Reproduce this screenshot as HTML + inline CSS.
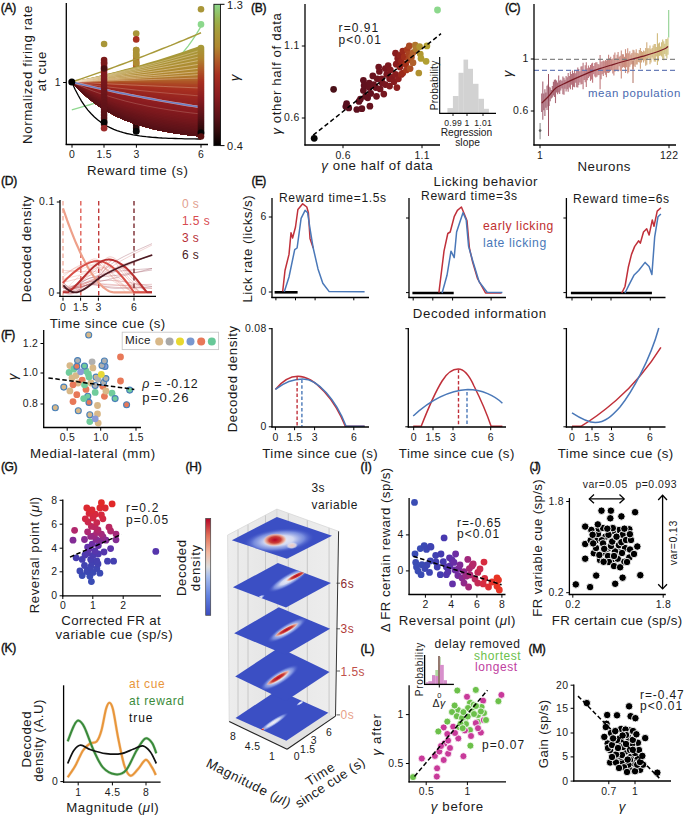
<!DOCTYPE html>
<html><head><meta charset="utf-8"><style>
html,body{margin:0;padding:0;background:#fff;width:685px;height:816px;overflow:hidden}
svg{display:block}
text{font-family:"Liberation Sans", sans-serif}
</style></head><body>
<svg width="685" height="816" viewBox="0 0 685 816">
<rect width="685" height="816" fill="#fff"/>
<text x="0.8" y="11.8" font-size="12.08" text-anchor="start" fill="#111" stroke="#111" stroke-width="0.0" textLength="15.5" lengthAdjust="spacing" style="stroke-width:0.4">(A)</text>
<text x="251.0" y="11.8" font-size="12.08" text-anchor="start" fill="#111" stroke="#111" stroke-width="0.0" textLength="15.5" lengthAdjust="spacing" style="stroke-width:0.4">(B)</text>
<text x="505.0" y="11.8" font-size="12.08" text-anchor="start" fill="#111" stroke="#111" stroke-width="0.0" textLength="15.6" lengthAdjust="spacing" style="stroke-width:0.4">(C)</text>
<text x="1.0" y="184.8" font-size="12.08" text-anchor="start" fill="#111" stroke="#111" stroke-width="0.0" textLength="16.4" lengthAdjust="spacing" style="stroke-width:0.4">(D)</text>
<text x="251.5" y="184.8" font-size="12.08" text-anchor="start" fill="#111" stroke="#111" stroke-width="0.0" textLength="14.9" lengthAdjust="spacing" style="stroke-width:0.4">(E)</text>
<text x="1.0" y="339.0" font-size="12.08" text-anchor="start" fill="#111" stroke="#111" stroke-width="0.0" textLength="14.3" lengthAdjust="spacing" style="stroke-width:0.4">(F)</text>
<text x="1.0" y="471.0" font-size="12.08" text-anchor="start" fill="#111" stroke="#111" stroke-width="0.0" textLength="16.5" lengthAdjust="spacing" style="stroke-width:0.4">(G)</text>
<text x="185.5" y="471.0" font-size="12.08" text-anchor="start" fill="#111" stroke="#111" stroke-width="0.0" textLength="16.2" lengthAdjust="spacing" style="stroke-width:0.4">(H)</text>
<text x="360.5" y="471.0" font-size="12.08" text-anchor="start" fill="#111" stroke="#111" stroke-width="0.0" textLength="11.4" lengthAdjust="spacing" style="stroke-width:0.4">(I)</text>
<text x="529.5" y="471.0" font-size="12.08" text-anchor="start" fill="#111" stroke="#111" stroke-width="0.0" textLength="11.4" lengthAdjust="spacing" style="stroke-width:0.4">(J)</text>
<text x="1.0" y="652.0" font-size="12.08" text-anchor="start" fill="#111" stroke="#111" stroke-width="0.0" textLength="15.2" lengthAdjust="spacing" style="stroke-width:0.4">(K)</text>
<text x="360.5" y="653.0" font-size="12.08" text-anchor="start" fill="#111" stroke="#111" stroke-width="0.0" textLength="14.1" lengthAdjust="spacing" style="stroke-width:0.4">(L)</text>
<text x="528.5" y="653.0" font-size="12.08" text-anchor="start" fill="#111" stroke="#111" stroke-width="0.0" textLength="17.4" lengthAdjust="spacing" style="stroke-width:0.4">(M)</text>
<defs><linearGradient id="cbA" x1="0" y1="1" x2="0" y2="0"><stop offset="0.00" stop-color="#000000"/><stop offset="0.05" stop-color="#1a0606"/><stop offset="0.10" stop-color="#320b0c"/><stop offset="0.15" stop-color="#460e12"/><stop offset="0.20" stop-color="#5a1218"/><stop offset="0.25" stop-color="#6a151a"/><stop offset="0.30" stop-color="#7a181d"/><stop offset="0.35" stop-color="#8a1c20"/><stop offset="0.40" stop-color="#942220"/><stop offset="0.45" stop-color="#9e2920"/><stop offset="0.50" stop-color="#a83020"/><stop offset="0.55" stop-color="#ac4524"/><stop offset="0.60" stop-color="#b05a28"/><stop offset="0.65" stop-color="#b0712c"/><stop offset="0.70" stop-color="#b08830"/><stop offset="0.75" stop-color="#ac9135"/><stop offset="0.80" stop-color="#a89a3a"/><stop offset="0.85" stop-color="#9fa742"/><stop offset="0.90" stop-color="#97b653"/><stop offset="0.95" stop-color="#91c76f"/><stop offset="1.00" stop-color="#8cd88c"/></linearGradient></defs>
<rect x="213.9" y="4.3" width="6.6" height="141.3" fill="url(#cbA)" stroke="#111" stroke-width="0.9"/>
<line x1="220.5" y1="4.3" x2="224.5" y2="4.3" stroke="#000" stroke-width="1" />
<line x1="220.5" y1="145.6" x2="224.5" y2="145.6" stroke="#000" stroke-width="1" />
<path d="M71.8,109.8 L76.1,108.6 L80.4,107.4 L84.7,106.2 L89.0,105.0 L93.3,103.7 L97.6,102.3 L101.9,101.0 L106.3,99.5 L110.6,98.1 L114.9,96.5 L119.2,94.9 L123.5,93.2 L127.8,91.4 L132.1,89.5 L136.4,87.5 L140.7,85.3 L145.0,83.0 L149.3,80.6 L153.6,77.9 L157.9,75.0 L162.2,71.9 L166.5,68.5 L170.9,64.8 L175.2,60.8 L179.5,56.3 L183.8,51.5 L188.1,46.1 L192.4,40.2 L196.7,33.6 L201.0,26.3" stroke="#90d890" stroke-width="1.3" fill="none" />
<circle cx="136.2" cy="50.0" r="3.3" fill="#ac9135" stroke="none" stroke-width="0"/>
<circle cx="136.2" cy="53.0" r="3.3" fill="#ae8c32" stroke="none" stroke-width="0"/>
<circle cx="136.2" cy="56.0" r="3.3" fill="#b0872f" stroke="none" stroke-width="0"/>
<circle cx="136.2" cy="59.0" r="3.3" fill="#b07b2d" stroke="none" stroke-width="0"/>
<circle cx="136.2" cy="62.0" r="3.3" fill="#b06f2b" stroke="none" stroke-width="0"/>
<circle cx="136.2" cy="65.0" r="3.3" fill="#b06429" stroke="none" stroke-width="0"/>
<circle cx="136.2" cy="68.0" r="3.3" fill="#af5827" stroke="none" stroke-width="0"/>
<circle cx="136.2" cy="71.0" r="3.3" fill="#ad4d25" stroke="none" stroke-width="0"/>
<circle cx="136.2" cy="74.0" r="3.3" fill="#ab4223" stroke="none" stroke-width="0"/>
<circle cx="136.2" cy="77.0" r="3.3" fill="#a93821" stroke="none" stroke-width="0"/>
<circle cx="136.2" cy="80.0" r="3.3" fill="#a62f20" stroke="none" stroke-width="0"/>
<circle cx="136.2" cy="83.0" r="3.3" fill="#a12b20" stroke="none" stroke-width="0"/>
<circle cx="136.2" cy="86.0" r="3.3" fill="#9c2820" stroke="none" stroke-width="0"/>
<circle cx="136.2" cy="89.0" r="3.3" fill="#972420" stroke="none" stroke-width="0"/>
<circle cx="136.2" cy="92.0" r="3.3" fill="#922120" stroke="none" stroke-width="0"/>
<circle cx="136.2" cy="95.0" r="3.3" fill="#8d1e20" stroke="none" stroke-width="0"/>
<circle cx="136.2" cy="98.0" r="3.3" fill="#861b1f" stroke="none" stroke-width="0"/>
<circle cx="136.2" cy="101.0" r="3.3" fill="#7e191e" stroke="none" stroke-width="0"/>
<circle cx="136.2" cy="104.0" r="3.3" fill="#76171c" stroke="none" stroke-width="0"/>
<circle cx="136.2" cy="107.0" r="3.3" fill="#6e161b" stroke="none" stroke-width="0"/>
<circle cx="136.2" cy="110.0" r="3.3" fill="#66141a" stroke="none" stroke-width="0"/>
<circle cx="136.2" cy="113.0" r="3.3" fill="#5d1218" stroke="none" stroke-width="0"/>
<circle cx="136.2" cy="116.0" r="3.3" fill="#541116" stroke="none" stroke-width="0"/>
<circle cx="136.2" cy="119.0" r="3.3" fill="#4a0f13" stroke="none" stroke-width="0"/>
<circle cx="136.2" cy="122.0" r="3.3" fill="#400d10" stroke="none" stroke-width="0"/>
<circle cx="136.2" cy="125.0" r="3.3" fill="#350b0d" stroke="none" stroke-width="0"/>
<circle cx="136.2" cy="128.0" r="3.3" fill="#2b0a0a" stroke="none" stroke-width="0"/>
<circle cx="136.2" cy="131.0" r="3.3" fill="#1e0707" stroke="none" stroke-width="0"/>
<circle cx="136.2" cy="33.6" r="3.3" fill="#a99638" stroke="none" stroke-width="0"/>
<circle cx="136.2" cy="39.4" r="3.3" fill="#a83020" stroke="none" stroke-width="0"/>
<circle cx="136.2" cy="50.0" r="3.3" fill="#ab9236" stroke="none" stroke-width="0"/>
<circle cx="136.2" cy="55.0" r="3.3" fill="#ab9236" stroke="none" stroke-width="0"/>
<circle cx="136.2" cy="63.0" r="3.3" fill="#ae8b32" stroke="none" stroke-width="0"/>
<circle cx="136.2" cy="76.0" r="3.3" fill="#a84020" stroke="none" stroke-width="0"/>
<circle cx="136.2" cy="131.4" r="3.3" fill="#050505" stroke="none" stroke-width="0"/>
<path d="M71.8,82.0 L77.2,80.8 L82.6,79.7 L87.9,78.4 L93.3,77.2 L98.7,75.9 L104.1,74.6 L109.5,73.3 L114.9,71.9 L120.2,70.6 L125.6,69.1 L131.0,67.7 L136.4,66.2 L141.8,64.7 L147.2,63.1 L152.5,61.5 L157.9,59.9 L163.3,58.2 L168.7,56.5 L174.1,54.8 L179.5,53.0 L184.8,51.2 L190.2,49.3 L195.6,47.4 L201.0,45.5 L201.0,136.5 L195.6,136.0 L190.2,135.4 L184.8,134.7 L179.5,134.0 L174.1,133.2 L168.7,132.3 L163.3,131.3 L157.9,130.2 L152.5,129.0 L147.2,127.6 L141.8,126.1 L136.4,124.5 L131.0,122.6 L125.6,120.5 L120.2,118.2 L114.9,115.7 L109.5,112.8 L104.1,109.7 L98.7,106.2 L93.3,102.3 L87.9,98.0 L82.6,93.2 L77.2,87.9 L71.8,82.0Z" stroke="none" stroke-width="1" fill="#a89939" />
<path d="M71.8,82.0 L77.2,80.9 L82.6,79.7 L87.9,78.6 L93.3,77.4 L98.7,76.1 L104.1,74.9 L109.5,73.6 L114.9,72.3 L120.2,71.0 L125.6,69.6 L131.0,68.2 L136.4,66.8 L141.8,65.3 L147.2,63.8 L152.5,62.3 L157.9,60.8 L163.3,59.2 L168.7,57.5 L174.1,55.9 L179.5,54.2 L184.8,52.5 L190.2,50.7 L195.6,48.9 L201.0,47.0 L201.0,136.5 L195.6,136.0 L190.2,135.4 L184.8,134.7 L179.5,134.0 L174.1,133.2 L168.7,132.3 L163.3,131.3 L157.9,130.2 L152.5,129.0 L147.2,127.6 L141.8,126.1 L136.4,124.5 L131.0,122.6 L125.6,120.5 L120.2,118.2 L114.9,115.7 L109.5,112.8 L104.1,109.7 L98.7,106.2 L93.3,102.3 L87.9,98.0 L82.6,93.2 L77.2,87.9 L71.8,82.0Z" stroke="none" stroke-width="1" fill="#a89839" />
<path d="M71.8,82.0 L77.2,80.9 L82.6,79.8 L87.9,78.7 L93.3,77.5 L98.7,76.3 L104.1,75.1 L109.5,73.9 L114.9,72.6 L120.2,71.4 L125.6,70.0 L131.0,68.7 L136.4,67.3 L141.8,66.0 L147.2,64.5 L152.5,63.1 L157.9,61.6 L163.3,60.1 L168.7,58.5 L174.1,57.0 L179.5,55.4 L184.8,53.7 L190.2,52.0 L195.6,50.3 L201.0,48.6 L201.0,136.5 L195.6,136.0 L190.2,135.4 L184.8,134.7 L179.5,134.0 L174.1,133.2 L168.7,132.3 L163.3,131.3 L157.9,130.2 L152.5,129.0 L147.2,127.6 L141.8,126.1 L136.4,124.5 L131.0,122.6 L125.6,120.5 L120.2,118.2 L114.9,115.7 L109.5,112.8 L104.1,109.7 L98.7,106.2 L93.3,102.3 L87.9,98.0 L82.6,93.2 L77.2,87.9 L71.8,82.0Z" stroke="none" stroke-width="1" fill="#a99738" />
<path d="M71.8,82.0 L77.2,81.0 L82.6,79.9 L87.9,78.8 L93.3,77.7 L98.7,76.5 L104.1,75.4 L109.5,74.2 L114.9,73.0 L120.2,71.8 L125.6,70.5 L131.0,69.2 L136.4,67.9 L141.8,66.6 L147.2,65.2 L152.5,63.9 L157.9,62.5 L163.3,61.0 L168.7,59.6 L174.1,58.1 L179.5,56.5 L184.8,55.0 L190.2,53.4 L195.6,51.8 L201.0,50.1 L201.0,136.5 L195.6,136.0 L190.2,135.4 L184.8,134.7 L179.5,134.0 L174.1,133.2 L168.7,132.3 L163.3,131.3 L157.9,130.2 L152.5,129.0 L147.2,127.6 L141.8,126.1 L136.4,124.5 L131.0,122.6 L125.6,120.5 L120.2,118.2 L114.9,115.7 L109.5,112.8 L104.1,109.7 L98.7,106.2 L93.3,102.3 L87.9,98.0 L82.6,93.2 L77.2,87.9 L71.8,82.0Z" stroke="none" stroke-width="1" fill="#a99637" />
<path d="M71.8,82.0 L77.2,81.0 L82.6,80.0 L87.9,78.9 L93.3,77.8 L98.7,76.8 L104.1,75.6 L109.5,74.5 L114.9,73.4 L120.2,72.2 L125.6,71.0 L131.0,69.8 L136.4,68.5 L141.8,67.3 L147.2,66.0 L152.5,64.7 L157.9,63.3 L163.3,62.0 L168.7,60.6 L174.1,59.2 L179.5,57.7 L184.8,56.2 L190.2,54.7 L195.6,53.2 L201.0,51.7 L201.0,136.5 L195.6,136.0 L190.2,135.4 L184.8,134.7 L179.5,134.0 L174.1,133.2 L168.7,132.3 L163.3,131.3 L157.9,130.2 L152.5,129.0 L147.2,127.6 L141.8,126.1 L136.4,124.5 L131.0,122.6 L125.6,120.5 L120.2,118.2 L114.9,115.7 L109.5,112.8 L104.1,109.7 L98.7,106.2 L93.3,102.3 L87.9,98.0 L82.6,93.2 L77.2,87.9 L71.8,82.0Z" stroke="none" stroke-width="1" fill="#aa9437" />
<path d="M71.8,82.0 L77.2,81.0 L82.6,80.0 L87.9,79.0 L93.3,78.0 L98.7,77.0 L104.1,75.9 L109.5,74.8 L114.9,73.7 L120.2,72.6 L125.6,71.5 L131.0,70.3 L136.4,69.1 L141.8,67.9 L147.2,66.7 L152.5,65.5 L157.9,64.2 L163.3,62.9 L168.7,61.6 L174.1,60.3 L179.5,58.9 L184.8,57.5 L190.2,56.1 L195.6,54.7 L201.0,53.2 L201.0,136.5 L195.6,136.0 L190.2,135.4 L184.8,134.7 L179.5,134.0 L174.1,133.2 L168.7,132.3 L163.3,131.3 L157.9,130.2 L152.5,129.0 L147.2,127.6 L141.8,126.1 L136.4,124.5 L131.0,122.6 L125.6,120.5 L120.2,118.2 L114.9,115.7 L109.5,112.8 L104.1,109.7 L98.7,106.2 L93.3,102.3 L87.9,98.0 L82.6,93.2 L77.2,87.9 L71.8,82.0Z" stroke="none" stroke-width="1" fill="#aa9336" />
<path d="M71.8,82.0 L77.2,81.1 L82.6,80.1 L87.9,79.2 L93.3,78.2 L98.7,77.2 L104.1,76.2 L109.5,75.2 L114.9,74.1 L120.2,73.0 L125.6,72.0 L131.0,70.9 L136.4,69.7 L141.8,68.6 L147.2,67.5 L152.5,66.3 L157.9,65.1 L163.3,63.9 L168.7,62.6 L174.1,61.4 L179.5,60.1 L184.8,58.8 L190.2,57.5 L195.6,56.1 L201.0,54.8 L201.0,136.5 L195.6,136.0 L190.2,135.4 L184.8,134.7 L179.5,134.0 L174.1,133.2 L168.7,132.3 L163.3,131.3 L157.9,130.2 L152.5,129.0 L147.2,127.6 L141.8,126.1 L136.4,124.5 L131.0,122.6 L125.6,120.5 L120.2,118.2 L114.9,115.7 L109.5,112.8 L104.1,109.7 L98.7,106.2 L93.3,102.3 L87.9,98.0 L82.6,93.2 L77.2,87.9 L71.8,82.0Z" stroke="none" stroke-width="1" fill="#ab9235" />
<path d="M71.8,82.0 L77.2,81.1 L82.6,80.2 L87.9,79.3 L93.3,78.4 L98.7,77.4 L104.1,76.5 L109.5,75.5 L114.9,74.5 L120.2,73.5 L125.6,72.5 L131.0,71.4 L136.4,70.4 L141.8,69.3 L147.2,68.2 L152.5,67.1 L157.9,66.0 L163.3,64.8 L168.7,63.7 L174.1,62.5 L179.5,61.3 L184.8,60.1 L190.2,58.8 L195.6,57.6 L201.0,56.3 L201.0,136.5 L195.6,136.0 L190.2,135.4 L184.8,134.7 L179.5,134.0 L174.1,133.2 L168.7,132.3 L163.3,131.3 L157.9,130.2 L152.5,129.0 L147.2,127.6 L141.8,126.1 L136.4,124.5 L131.0,122.6 L125.6,120.5 L120.2,118.2 L114.9,115.7 L109.5,112.8 L104.1,109.7 L98.7,106.2 L93.3,102.3 L87.9,98.0 L82.6,93.2 L77.2,87.9 L71.8,82.0Z" stroke="none" stroke-width="1" fill="#ab9135" />
<path d="M71.8,82.0 L77.2,81.2 L82.6,80.3 L87.9,79.4 L93.3,78.5 L98.7,77.7 L104.1,76.7 L109.5,75.8 L114.9,74.9 L120.2,73.9 L125.6,73.0 L131.0,72.0 L136.4,71.0 L141.8,70.0 L147.2,69.0 L152.5,67.9 L157.9,66.9 L163.3,65.8 L168.7,64.7 L174.1,63.6 L179.5,62.5 L184.8,61.4 L190.2,60.2 L195.6,59.0 L201.0,57.8 L201.0,136.5 L195.6,136.0 L190.2,135.4 L184.8,134.7 L179.5,134.0 L174.1,133.2 L168.7,132.3 L163.3,131.3 L157.9,130.2 L152.5,129.0 L147.2,127.6 L141.8,126.1 L136.4,124.5 L131.0,122.6 L125.6,120.5 L120.2,118.2 L114.9,115.7 L109.5,112.8 L104.1,109.7 L98.7,106.2 L93.3,102.3 L87.9,98.0 L82.6,93.2 L77.2,87.9 L71.8,82.0Z" stroke="none" stroke-width="1" fill="#ac9034" />
<path d="M71.8,82.0 L77.2,81.2 L82.6,80.4 L87.9,79.6 L93.3,78.7 L98.7,77.9 L104.1,77.0 L109.5,76.2 L114.9,75.3 L120.2,74.4 L125.6,73.5 L131.0,72.6 L136.4,71.6 L141.8,70.7 L147.2,69.7 L152.5,68.8 L157.9,67.8 L163.3,66.8 L168.7,65.8 L174.1,64.7 L179.5,63.7 L184.8,62.6 L190.2,61.6 L195.6,60.5 L201.0,59.4 L201.0,136.5 L195.6,136.0 L190.2,135.4 L184.8,134.7 L179.5,134.0 L174.1,133.2 L168.7,132.3 L163.3,131.3 L157.9,130.2 L152.5,129.0 L147.2,127.6 L141.8,126.1 L136.4,124.5 L131.0,122.6 L125.6,120.5 L120.2,118.2 L114.9,115.7 L109.5,112.8 L104.1,109.7 L98.7,106.2 L93.3,102.3 L87.9,98.0 L82.6,93.2 L77.2,87.9 L71.8,82.0Z" stroke="none" stroke-width="1" fill="#ac8f34" />
<path d="M71.8,82.0 L77.2,81.2 L82.6,80.5 L87.9,79.7 L93.3,78.9 L98.7,78.1 L104.1,77.3 L109.5,76.5 L114.9,75.7 L120.2,74.9 L125.6,74.0 L131.0,73.2 L136.4,72.3 L141.8,71.4 L147.2,70.5 L152.5,69.6 L157.9,68.7 L163.3,67.8 L168.7,66.8 L174.1,65.9 L179.5,64.9 L184.8,63.9 L190.2,62.9 L195.6,61.9 L201.0,60.9 L201.0,136.5 L195.6,136.0 L190.2,135.4 L184.8,134.7 L179.5,134.0 L174.1,133.2 L168.7,132.3 L163.3,131.3 L157.9,130.2 L152.5,129.0 L147.2,127.6 L141.8,126.1 L136.4,124.5 L131.0,122.6 L125.6,120.5 L120.2,118.2 L114.9,115.7 L109.5,112.8 L104.1,109.7 L98.7,106.2 L93.3,102.3 L87.9,98.0 L82.6,93.2 L77.2,87.9 L71.8,82.0Z" stroke="none" stroke-width="1" fill="#ad8e33" />
<path d="M71.8,82.0 L77.2,81.3 L82.6,80.6 L87.9,79.9 L93.3,79.1 L98.7,78.4 L104.1,77.6 L109.5,76.9 L114.9,76.1 L120.2,75.3 L125.6,74.5 L131.0,73.7 L136.4,72.9 L141.8,72.1 L147.2,71.3 L152.5,70.5 L157.9,69.6 L163.3,68.8 L168.7,67.9 L174.1,67.0 L179.5,66.1 L184.8,65.2 L190.2,64.3 L195.6,63.4 L201.0,62.5 L201.0,136.5 L195.6,136.0 L190.2,135.4 L184.8,134.7 L179.5,134.0 L174.1,133.2 L168.7,132.3 L163.3,131.3 L157.9,130.2 L152.5,129.0 L147.2,127.6 L141.8,126.1 L136.4,124.5 L131.0,122.6 L125.6,120.5 L120.2,118.2 L114.9,115.7 L109.5,112.8 L104.1,109.7 L98.7,106.2 L93.3,102.3 L87.9,98.0 L82.6,93.2 L77.2,87.9 L71.8,82.0Z" stroke="none" stroke-width="1" fill="#ad8d32" />
<path d="M71.8,82.0 L77.2,81.3 L82.6,80.7 L87.9,80.0 L93.3,79.3 L98.7,78.6 L104.1,77.9 L109.5,77.2 L114.9,76.5 L120.2,75.8 L125.6,75.1 L131.0,74.3 L136.4,73.6 L141.8,72.9 L147.2,72.1 L152.5,71.3 L157.9,70.5 L163.3,69.8 L168.7,69.0 L174.1,68.2 L179.5,67.3 L184.8,66.5 L190.2,65.7 L195.6,64.9 L201.0,64.0 L201.0,136.5 L195.6,136.0 L190.2,135.4 L184.8,134.7 L179.5,134.0 L174.1,133.2 L168.7,132.3 L163.3,131.3 L157.9,130.2 L152.5,129.0 L147.2,127.6 L141.8,126.1 L136.4,124.5 L131.0,122.6 L125.6,120.5 L120.2,118.2 L114.9,115.7 L109.5,112.8 L104.1,109.7 L98.7,106.2 L93.3,102.3 L87.9,98.0 L82.6,93.2 L77.2,87.9 L71.8,82.0Z" stroke="none" stroke-width="1" fill="#ae8b32" />
<path d="M71.8,82.0 L77.2,81.4 L82.6,80.8 L87.9,80.2 L93.3,79.5 L98.7,78.9 L104.1,78.3 L109.5,77.6 L114.9,77.0 L120.2,76.3 L125.6,75.6 L131.0,75.0 L136.4,74.3 L141.8,73.6 L147.2,72.9 L152.5,72.2 L157.9,71.5 L163.3,70.8 L168.7,70.0 L174.1,69.3 L179.5,68.6 L184.8,67.8 L190.2,67.1 L195.6,66.3 L201.0,65.6 L201.0,136.5 L195.6,136.0 L190.2,135.4 L184.8,134.7 L179.5,134.0 L174.1,133.2 L168.7,132.3 L163.3,131.3 L157.9,130.2 L152.5,129.0 L147.2,127.6 L141.8,126.1 L136.4,124.5 L131.0,122.6 L125.6,120.5 L120.2,118.2 L114.9,115.7 L109.5,112.8 L104.1,109.7 L98.7,106.2 L93.3,102.3 L87.9,98.0 L82.6,93.2 L77.2,87.9 L71.8,82.0Z" stroke="none" stroke-width="1" fill="#ae8a31" />
<path d="M71.8,82.0 L77.2,81.4 L82.6,80.9 L87.9,80.3 L93.3,79.7 L98.7,79.2 L104.1,78.6 L109.5,78.0 L114.9,77.4 L120.2,76.8 L125.6,76.2 L131.0,75.6 L136.4,75.0 L141.8,74.3 L147.2,73.7 L152.5,73.1 L157.9,72.4 L163.3,71.8 L168.7,71.1 L174.1,70.5 L179.5,69.8 L184.8,69.1 L190.2,68.5 L195.6,67.8 L201.0,67.1 L201.0,136.5 L195.6,136.0 L190.2,135.4 L184.8,134.7 L179.5,134.0 L174.1,133.2 L168.7,132.3 L163.3,131.3 L157.9,130.2 L152.5,129.0 L147.2,127.6 L141.8,126.1 L136.4,124.5 L131.0,122.6 L125.6,120.5 L120.2,118.2 L114.9,115.7 L109.5,112.8 L104.1,109.7 L98.7,106.2 L93.3,102.3 L87.9,98.0 L82.6,93.2 L77.2,87.9 L71.8,82.0Z" stroke="none" stroke-width="1" fill="#af8930" />
<path d="M71.8,82.0 L77.2,81.5 L82.6,81.0 L87.9,80.5 L93.3,80.0 L98.7,79.4 L104.1,78.9 L109.5,78.4 L114.9,77.8 L120.2,77.3 L125.6,76.8 L131.0,76.2 L136.4,75.6 L141.8,75.1 L147.2,74.5 L152.5,74.0 L157.9,73.4 L163.3,72.8 L168.7,72.2 L174.1,71.6 L179.5,71.1 L184.8,70.5 L190.2,69.9 L195.6,69.2 L201.0,68.6 L201.0,136.5 L195.6,136.0 L190.2,135.4 L184.8,134.7 L179.5,134.0 L174.1,133.2 L168.7,132.3 L163.3,131.3 L157.9,130.2 L152.5,129.0 L147.2,127.6 L141.8,126.1 L136.4,124.5 L131.0,122.6 L125.6,120.5 L120.2,118.2 L114.9,115.7 L109.5,112.8 L104.1,109.7 L98.7,106.2 L93.3,102.3 L87.9,98.0 L82.6,93.2 L77.2,87.9 L71.8,82.0Z" stroke="none" stroke-width="1" fill="#af8830" />
<path d="M71.8,82.0 L77.2,81.5 L82.6,81.1 L87.9,80.6 L93.3,80.2 L98.7,79.7 L104.1,79.2 L109.5,78.8 L114.9,78.3 L120.2,77.8 L125.6,77.3 L131.0,76.8 L136.4,76.3 L141.8,75.9 L147.2,75.4 L152.5,74.9 L157.9,74.4 L163.3,73.8 L168.7,73.3 L174.1,72.8 L179.5,72.3 L184.8,71.8 L190.2,71.2 L195.6,70.7 L201.0,70.2 L201.0,136.5 L195.6,136.0 L190.2,135.4 L184.8,134.7 L179.5,134.0 L174.1,133.2 L168.7,132.3 L163.3,131.3 L157.9,130.2 L152.5,129.0 L147.2,127.6 L141.8,126.1 L136.4,124.5 L131.0,122.6 L125.6,120.5 L120.2,118.2 L114.9,115.7 L109.5,112.8 L104.1,109.7 L98.7,106.2 L93.3,102.3 L87.9,98.0 L82.6,93.2 L77.2,87.9 L71.8,82.0Z" stroke="none" stroke-width="1" fill="#b0862f" />
<path d="M71.8,82.0 L77.2,81.6 L82.6,81.2 L87.9,80.8 L93.3,80.4 L98.7,80.0 L104.1,79.6 L109.5,79.2 L114.9,78.7 L120.2,78.3 L125.6,77.9 L131.0,77.5 L136.4,77.1 L141.8,76.6 L147.2,76.2 L152.5,75.8 L157.9,75.3 L163.3,74.9 L168.7,74.4 L174.1,74.0 L179.5,73.5 L184.8,73.1 L190.2,72.6 L195.6,72.2 L201.0,71.7 L201.0,136.5 L195.6,136.0 L190.2,135.4 L184.8,134.7 L179.5,134.0 L174.1,133.2 L168.7,132.3 L163.3,131.3 L157.9,130.2 L152.5,129.0 L147.2,127.6 L141.8,126.1 L136.4,124.5 L131.0,122.6 L125.6,120.5 L120.2,118.2 L114.9,115.7 L109.5,112.8 L104.1,109.7 L98.7,106.2 L93.3,102.3 L87.9,98.0 L82.6,93.2 L77.2,87.9 L71.8,82.0Z" stroke="none" stroke-width="1" fill="#b0832f" />
<path d="M71.8,82.0 L77.2,81.7 L82.6,81.3 L87.9,81.0 L93.3,80.6 L98.7,80.3 L104.1,79.9 L109.5,79.6 L114.9,79.2 L120.2,78.9 L125.6,78.5 L131.0,78.1 L136.4,77.8 L141.8,77.4 L147.2,77.0 L152.5,76.7 L157.9,76.3 L163.3,75.9 L168.7,75.6 L174.1,75.2 L179.5,74.8 L184.8,74.4 L190.2,74.0 L195.6,73.6 L201.0,73.3 L201.0,136.5 L195.6,136.0 L190.2,135.4 L184.8,134.7 L179.5,134.0 L174.1,133.2 L168.7,132.3 L163.3,131.3 L157.9,130.2 L152.5,129.0 L147.2,127.6 L141.8,126.1 L136.4,124.5 L131.0,122.6 L125.6,120.5 L120.2,118.2 L114.9,115.7 L109.5,112.8 L104.1,109.7 L98.7,106.2 L93.3,102.3 L87.9,98.0 L82.6,93.2 L77.2,87.9 L71.8,82.0Z" stroke="none" stroke-width="1" fill="#b0802e" />
<path d="M71.8,82.0 L77.2,81.7 L82.6,81.4 L87.9,81.1 L93.3,80.9 L98.7,80.6 L104.1,80.3 L109.5,80.0 L114.9,79.7 L120.2,79.4 L125.6,79.1 L131.0,78.8 L136.4,78.5 L141.8,78.2 L147.2,77.9 L152.5,77.6 L157.9,77.3 L163.3,77.0 L168.7,76.7 L174.1,76.4 L179.5,76.1 L184.8,75.7 L190.2,75.4 L195.6,75.1 L201.0,74.8 L201.0,136.5 L195.6,136.0 L190.2,135.4 L184.8,134.7 L179.5,134.0 L174.1,133.2 L168.7,132.3 L163.3,131.3 L157.9,130.2 L152.5,129.0 L147.2,127.6 L141.8,126.1 L136.4,124.5 L131.0,122.6 L125.6,120.5 L120.2,118.2 L114.9,115.7 L109.5,112.8 L104.1,109.7 L98.7,106.2 L93.3,102.3 L87.9,98.0 L82.6,93.2 L77.2,87.9 L71.8,82.0Z" stroke="none" stroke-width="1" fill="#b07b2d" />
<path d="M71.8,82.0 L77.2,81.8 L82.6,81.5 L87.9,81.3 L93.3,81.1 L98.7,80.9 L104.1,80.6 L109.5,80.4 L114.9,80.2 L120.2,79.9 L125.6,79.7 L131.0,79.5 L136.4,79.2 L141.8,79.0 L147.2,78.8 L152.5,78.5 L157.9,78.3 L163.3,78.0 L168.7,77.8 L174.1,77.6 L179.5,77.3 L184.8,77.1 L190.2,76.8 L195.6,76.6 L201.0,76.3 L201.0,136.5 L195.6,136.0 L190.2,135.4 L184.8,134.7 L179.5,134.0 L174.1,133.2 L168.7,132.3 L163.3,131.3 L157.9,130.2 L152.5,129.0 L147.2,127.6 L141.8,126.1 L136.4,124.5 L131.0,122.6 L125.6,120.5 L120.2,118.2 L114.9,115.7 L109.5,112.8 L104.1,109.7 L98.7,106.2 L93.3,102.3 L87.9,98.0 L82.6,93.2 L77.2,87.9 L71.8,82.0Z" stroke="none" stroke-width="1" fill="#b0722c" />
<path d="M71.8,82.0 L77.2,81.8 L82.6,81.7 L87.9,81.5 L93.3,81.3 L98.7,81.2 L104.1,81.0 L109.5,80.8 L114.9,80.7 L120.2,80.5 L125.6,80.3 L131.0,80.1 L136.4,80.0 L141.8,79.8 L147.2,79.6 L152.5,79.5 L157.9,79.3 L163.3,79.1 L168.7,78.9 L174.1,78.8 L179.5,78.6 L184.8,78.4 L190.2,78.2 L195.6,78.1 L201.0,77.9 L201.0,136.5 L195.6,136.0 L190.2,135.4 L184.8,134.7 L179.5,134.0 L174.1,133.2 L168.7,132.3 L163.3,131.3 L157.9,130.2 L152.5,129.0 L147.2,127.6 L141.8,126.1 L136.4,124.5 L131.0,122.6 L125.6,120.5 L120.2,118.2 L114.9,115.7 L109.5,112.8 L104.1,109.7 L98.7,106.2 L93.3,102.3 L87.9,98.0 L82.6,93.2 L77.2,87.9 L71.8,82.0Z" stroke="none" stroke-width="1" fill="#b0682a" />
<path d="M71.8,82.0 L77.2,81.9 L82.6,81.8 L87.9,81.7 L93.3,81.6 L98.7,81.5 L104.1,81.4 L109.5,81.3 L114.9,81.2 L120.2,81.0 L125.6,80.9 L131.0,80.8 L136.4,80.7 L141.8,80.6 L147.2,80.5 L152.5,80.4 L157.9,80.3 L163.3,80.2 L168.7,80.1 L174.1,80.0 L179.5,79.9 L184.8,79.8 L190.2,79.6 L195.6,79.5 L201.0,79.4 L201.0,136.5 L195.6,136.0 L190.2,135.4 L184.8,134.7 L179.5,134.0 L174.1,133.2 L168.7,132.3 L163.3,131.3 L157.9,130.2 L152.5,129.0 L147.2,127.6 L141.8,126.1 L136.4,124.5 L131.0,122.6 L125.6,120.5 L120.2,118.2 L114.9,115.7 L109.5,112.8 L104.1,109.7 L98.7,106.2 L93.3,102.3 L87.9,98.0 L82.6,93.2 L77.2,87.9 L71.8,82.0Z" stroke="none" stroke-width="1" fill="#b05f28" />
<path d="M71.8,82.0 L77.2,82.0 L82.6,81.9 L87.9,81.9 L93.3,81.8 L98.7,81.8 L104.1,81.7 L109.5,81.7 L114.9,81.7 L120.2,81.6 L125.6,81.6 L131.0,81.5 L136.4,81.5 L141.8,81.4 L147.2,81.4 L152.5,81.4 L157.9,81.3 L163.3,81.3 L168.7,81.2 L174.1,81.2 L179.5,81.1 L184.8,81.1 L190.2,81.1 L195.6,81.0 L201.0,81.0 L201.0,136.5 L195.6,136.0 L190.2,135.4 L184.8,134.7 L179.5,134.0 L174.1,133.2 L168.7,132.3 L163.3,131.3 L157.9,130.2 L152.5,129.0 L147.2,127.6 L141.8,126.1 L136.4,124.5 L131.0,122.6 L125.6,120.5 L120.2,118.2 L114.9,115.7 L109.5,112.8 L104.1,109.7 L98.7,106.2 L93.3,102.3 L87.9,98.0 L82.6,93.2 L77.2,87.9 L71.8,82.0Z" stroke="none" stroke-width="1" fill="#af5627" />
<path d="M71.8,82.0 L77.2,82.0 L82.6,82.0 L87.9,82.1 L93.3,82.1 L98.7,82.1 L104.1,82.1 L109.5,82.2 L114.9,82.2 L120.2,82.2 L125.6,82.2 L131.0,82.2 L136.4,82.3 L141.8,82.3 L147.2,82.3 L152.5,82.3 L157.9,82.3 L163.3,82.4 L168.7,82.4 L174.1,82.4 L179.5,82.4 L184.8,82.5 L190.2,82.5 L195.6,82.5 L201.0,82.5 L201.0,136.5 L195.6,136.0 L190.2,135.4 L184.8,134.7 L179.5,134.0 L174.1,133.2 L168.7,132.3 L163.3,131.3 L157.9,130.2 L152.5,129.0 L147.2,127.6 L141.8,126.1 L136.4,124.5 L131.0,122.6 L125.6,120.5 L120.2,118.2 L114.9,115.7 L109.5,112.8 L104.1,109.7 L98.7,106.2 L93.3,102.3 L87.9,98.0 L82.6,93.2 L77.2,87.9 L71.8,82.0Z" stroke="none" stroke-width="1" fill="#ad4e25" />
<path d="M71.8,82.0 L77.2,82.1 L82.6,82.2 L87.9,82.3 L93.3,82.4 L98.7,82.4 L104.1,82.5 L109.5,82.6 L114.9,82.7 L120.2,82.8 L125.6,82.9 L131.0,83.0 L136.4,83.1 L141.8,83.1 L147.2,83.2 L152.5,83.3 L157.9,83.4 L163.3,83.5 L168.7,83.6 L174.1,83.6 L179.5,83.7 L184.8,83.8 L190.2,83.9 L195.6,84.0 L201.0,84.1 L201.0,136.5 L195.6,136.0 L190.2,135.4 L184.8,134.7 L179.5,134.0 L174.1,133.2 L168.7,132.3 L163.3,131.3 L157.9,130.2 L152.5,129.0 L147.2,127.6 L141.8,126.1 L136.4,124.5 L131.0,122.6 L125.6,120.5 L120.2,118.2 L114.9,115.7 L109.5,112.8 L104.1,109.7 L98.7,106.2 L93.3,102.3 L87.9,98.0 L82.6,93.2 L77.2,87.9 L71.8,82.0Z" stroke="none" stroke-width="1" fill="#ac4524" />
<path d="M71.8,82.0 L77.2,82.2 L82.6,82.3 L87.9,82.5 L93.3,82.6 L98.7,82.8 L104.1,83.0 L109.5,83.1 L114.9,83.3 L120.2,83.4 L125.6,83.6 L131.0,83.7 L136.4,83.9 L141.8,84.0 L147.2,84.2 L152.5,84.3 L157.9,84.5 L163.3,84.6 L168.7,84.8 L174.1,84.9 L179.5,85.0 L184.8,85.2 L190.2,85.3 L195.6,85.5 L201.0,85.6 L201.0,136.5 L195.6,136.0 L190.2,135.4 L184.8,134.7 L179.5,134.0 L174.1,133.2 L168.7,132.3 L163.3,131.3 L157.9,130.2 L152.5,129.0 L147.2,127.6 L141.8,126.1 L136.4,124.5 L131.0,122.6 L125.6,120.5 L120.2,118.2 L114.9,115.7 L109.5,112.8 L104.1,109.7 L98.7,106.2 L93.3,102.3 L87.9,98.0 L82.6,93.2 L77.2,87.9 L71.8,82.0Z" stroke="none" stroke-width="1" fill="#ab4023" />
<path d="M71.8,82.0 L77.2,82.2 L82.6,82.5 L87.9,82.7 L93.3,82.9 L98.7,83.2 L104.1,83.4 L109.5,83.6 L114.9,83.9 L120.2,84.1 L125.6,84.3 L131.0,84.5 L136.4,84.7 L141.8,84.9 L147.2,85.1 L152.5,85.4 L157.9,85.6 L163.3,85.8 L168.7,86.0 L174.1,86.2 L179.5,86.4 L184.8,86.6 L190.2,86.8 L195.6,87.0 L201.0,87.1 L201.0,136.5 L195.6,136.0 L190.2,135.4 L184.8,134.7 L179.5,134.0 L174.1,133.2 L168.7,132.3 L163.3,131.3 L157.9,130.2 L152.5,129.0 L147.2,127.6 L141.8,126.1 L136.4,124.5 L131.0,122.6 L125.6,120.5 L120.2,118.2 L114.9,115.7 L109.5,112.8 L104.1,109.7 L98.7,106.2 L93.3,102.3 L87.9,98.0 L82.6,93.2 L77.2,87.9 L71.8,82.0Z" stroke="none" stroke-width="1" fill="#a93a21" />
<path d="M71.8,82.0 L77.2,82.3 L82.6,82.6 L87.9,83.0 L93.3,83.3 L98.7,83.6 L104.1,83.9 L109.5,84.2 L114.9,84.5 L120.2,84.8 L125.6,85.0 L131.0,85.3 L136.4,85.6 L141.8,85.9 L147.2,86.1 L152.5,86.4 L157.9,86.7 L163.3,86.9 L168.7,87.2 L174.1,87.5 L179.5,87.7 L184.8,88.0 L190.2,88.2 L195.6,88.4 L201.0,88.7 L201.0,136.5 L195.6,136.0 L190.2,135.4 L184.8,134.7 L179.5,134.0 L174.1,133.2 L168.7,132.3 L163.3,131.3 L157.9,130.2 L152.5,129.0 L147.2,127.6 L141.8,126.1 L136.4,124.5 L131.0,122.6 L125.6,120.5 L120.2,118.2 L114.9,115.7 L109.5,112.8 L104.1,109.7 L98.7,106.2 L93.3,102.3 L87.9,98.0 L82.6,93.2 L77.2,87.9 L71.8,82.0Z" stroke="none" stroke-width="1" fill="#a83420" />
<path d="M71.8,82.0 L77.2,82.4 L82.6,82.8 L87.9,83.2 L93.3,83.6 L98.7,84.0 L104.1,84.4 L109.5,84.7 L114.9,85.1 L120.2,85.5 L125.6,85.8 L131.0,86.2 L136.4,86.5 L141.8,86.8 L147.2,87.2 L152.5,87.5 L157.9,87.8 L163.3,88.1 L168.7,88.5 L174.1,88.8 L179.5,89.1 L184.8,89.4 L190.2,89.7 L195.6,89.9 L201.0,90.2 L201.0,136.5 L195.6,136.0 L190.2,135.4 L184.8,134.7 L179.5,134.0 L174.1,133.2 L168.7,132.3 L163.3,131.3 L157.9,130.2 L152.5,129.0 L147.2,127.6 L141.8,126.1 L136.4,124.5 L131.0,122.6 L125.6,120.5 L120.2,118.2 L114.9,115.7 L109.5,112.8 L104.1,109.7 L98.7,106.2 L93.3,102.3 L87.9,98.0 L82.6,93.2 L77.2,87.9 L71.8,82.0Z" stroke="none" stroke-width="1" fill="#a72f20" />
<path d="M71.8,82.0 L77.2,82.5 L82.6,83.0 L87.9,83.5 L93.3,83.9 L98.7,84.4 L104.1,84.9 L109.5,85.3 L114.9,85.8 L120.2,86.2 L125.6,86.6 L131.0,87.0 L136.4,87.4 L141.8,87.8 L147.2,88.2 L152.5,88.6 L157.9,89.0 L163.3,89.4 L168.7,89.7 L174.1,90.1 L179.5,90.4 L184.8,90.8 L190.2,91.1 L195.6,91.4 L201.0,91.8 L201.0,136.5 L195.6,136.0 L190.2,135.4 L184.8,134.7 L179.5,134.0 L174.1,133.2 L168.7,132.3 L163.3,131.3 L157.9,130.2 L152.5,129.0 L147.2,127.6 L141.8,126.1 L136.4,124.5 L131.0,122.6 L125.6,120.5 L120.2,118.2 L114.9,115.7 L109.5,112.8 L104.1,109.7 L98.7,106.2 L93.3,102.3 L87.9,98.0 L82.6,93.2 L77.2,87.9 L71.8,82.0Z" stroke="none" stroke-width="1" fill="#a42d20" />
<path d="M71.8,82.0 L77.2,82.6 L82.6,83.2 L87.9,83.8 L93.3,84.3 L98.7,84.9 L104.1,85.4 L109.5,85.9 L114.9,86.4 L120.2,86.9 L125.6,87.4 L131.0,87.9 L136.4,88.4 L141.8,88.9 L147.2,89.3 L152.5,89.7 L157.9,90.2 L163.3,90.6 L168.7,91.0 L174.1,91.4 L179.5,91.8 L184.8,92.2 L190.2,92.6 L195.6,93.0 L201.0,93.3 L201.0,136.5 L195.6,136.0 L190.2,135.4 L184.8,134.7 L179.5,134.0 L174.1,133.2 L168.7,132.3 L163.3,131.3 L157.9,130.2 L152.5,129.0 L147.2,127.6 L141.8,126.1 L136.4,124.5 L131.0,122.6 L125.6,120.5 L120.2,118.2 L114.9,115.7 L109.5,112.8 L104.1,109.7 L98.7,106.2 L93.3,102.3 L87.9,98.0 L82.6,93.2 L77.2,87.9 L71.8,82.0Z" stroke="none" stroke-width="1" fill="#a22c20" />
<path d="M71.8,82.0 L77.2,82.7 L82.6,83.4 L87.9,84.1 L93.3,84.7 L98.7,85.3 L104.1,86.0 L109.5,86.6 L114.9,87.2 L120.2,87.7 L125.6,88.3 L131.0,88.8 L136.4,89.4 L141.8,89.9 L147.2,90.4 L152.5,90.9 L157.9,91.4 L163.3,91.9 L168.7,92.3 L174.1,92.8 L179.5,93.2 L184.8,93.6 L190.2,94.1 L195.6,94.5 L201.0,94.9 L201.0,136.5 L195.6,136.0 L190.2,135.4 L184.8,134.7 L179.5,134.0 L174.1,133.2 L168.7,132.3 L163.3,131.3 L157.9,130.2 L152.5,129.0 L147.2,127.6 L141.8,126.1 L136.4,124.5 L131.0,122.6 L125.6,120.5 L120.2,118.2 L114.9,115.7 L109.5,112.8 L104.1,109.7 L98.7,106.2 L93.3,102.3 L87.9,98.0 L82.6,93.2 L77.2,87.9 L71.8,82.0Z" stroke="none" stroke-width="1" fill="#9f2a20" />
<path d="M71.8,82.0 L77.2,82.8 L82.6,83.6 L87.9,84.4 L93.3,85.1 L98.7,85.8 L104.1,86.5 L109.5,87.2 L114.9,87.9 L120.2,88.5 L125.6,89.2 L131.0,89.8 L136.4,90.4 L141.8,91.0 L147.2,91.5 L152.5,92.1 L157.9,92.6 L163.3,93.1 L168.7,93.6 L174.1,94.1 L179.5,94.6 L184.8,95.1 L190.2,95.5 L195.6,96.0 L201.0,96.4 L201.0,136.5 L195.6,136.0 L190.2,135.4 L184.8,134.7 L179.5,134.0 L174.1,133.2 L168.7,132.3 L163.3,131.3 L157.9,130.2 L152.5,129.0 L147.2,127.6 L141.8,126.1 L136.4,124.5 L131.0,122.6 L125.6,120.5 L120.2,118.2 L114.9,115.7 L109.5,112.8 L104.1,109.7 L98.7,106.2 L93.3,102.3 L87.9,98.0 L82.6,93.2 L77.2,87.9 L71.8,82.0Z" stroke="none" stroke-width="1" fill="#9c2820" />
<path d="M71.8,82.0 L77.2,82.9 L82.6,83.8 L87.9,84.7 L93.3,85.5 L98.7,86.4 L104.1,87.1 L109.5,87.9 L114.9,88.7 L120.2,89.4 L125.6,90.1 L131.0,90.8 L136.4,91.4 L141.8,92.1 L147.2,92.7 L152.5,93.3 L157.9,93.9 L163.3,94.4 L168.7,95.0 L174.1,95.5 L179.5,96.0 L184.8,96.5 L190.2,97.0 L195.6,97.5 L201.0,97.9 L201.0,136.5 L195.6,136.0 L190.2,135.4 L184.8,134.7 L179.5,134.0 L174.1,133.2 L168.7,132.3 L163.3,131.3 L157.9,130.2 L152.5,129.0 L147.2,127.6 L141.8,126.1 L136.4,124.5 L131.0,122.6 L125.6,120.5 L120.2,118.2 L114.9,115.7 L109.5,112.8 L104.1,109.7 L98.7,106.2 L93.3,102.3 L87.9,98.0 L82.6,93.2 L77.2,87.9 L71.8,82.0Z" stroke="none" stroke-width="1" fill="#9a2620" />
<path d="M71.8,82.0 L77.2,83.0 L82.6,84.1 L87.9,85.0 L93.3,86.0 L98.7,86.9 L104.1,87.8 L109.5,88.6 L114.9,89.4 L120.2,90.2 L125.6,91.0 L131.0,91.8 L136.4,92.5 L141.8,93.2 L147.2,93.9 L152.5,94.5 L157.9,95.1 L163.3,95.7 L168.7,96.3 L174.1,96.9 L179.5,97.5 L184.8,98.0 L190.2,98.5 L195.6,99.0 L201.0,99.5 L201.0,136.5 L195.6,136.0 L190.2,135.4 L184.8,134.7 L179.5,134.0 L174.1,133.2 L168.7,132.3 L163.3,131.3 L157.9,130.2 L152.5,129.0 L147.2,127.6 L141.8,126.1 L136.4,124.5 L131.0,122.6 L125.6,120.5 L120.2,118.2 L114.9,115.7 L109.5,112.8 L104.1,109.7 L98.7,106.2 L93.3,102.3 L87.9,98.0 L82.6,93.2 L77.2,87.9 L71.8,82.0Z" stroke="none" stroke-width="1" fill="#972520" />
<path d="M71.8,82.0 L77.2,83.2 L82.6,84.3 L87.9,85.4 L93.3,86.4 L98.7,87.4 L104.1,88.4 L109.5,89.4 L114.9,90.3 L120.2,91.1 L125.6,92.0 L131.0,92.8 L136.4,93.6 L141.8,94.3 L147.2,95.1 L152.5,95.8 L157.9,96.4 L163.3,97.1 L168.7,97.7 L174.1,98.3 L179.5,98.9 L184.8,99.5 L190.2,100.0 L195.6,100.5 L201.0,101.0 L201.0,136.5 L195.6,136.0 L190.2,135.4 L184.8,134.7 L179.5,134.0 L174.1,133.2 L168.7,132.3 L163.3,131.3 L157.9,130.2 L152.5,129.0 L147.2,127.6 L141.8,126.1 L136.4,124.5 L131.0,122.6 L125.6,120.5 L120.2,118.2 L114.9,115.7 L109.5,112.8 L104.1,109.7 L98.7,106.2 L93.3,102.3 L87.9,98.0 L82.6,93.2 L77.2,87.9 L71.8,82.0Z" stroke="none" stroke-width="1" fill="#952320" />
<path d="M71.8,82.0 L77.2,83.3 L82.6,84.6 L87.9,85.8 L93.3,86.9 L98.7,88.0 L104.1,89.1 L109.5,90.1 L114.9,91.1 L120.2,92.1 L125.6,93.0 L131.0,93.8 L136.4,94.7 L141.8,95.5 L147.2,96.3 L152.5,97.0 L157.9,97.7 L163.3,98.4 L168.7,99.1 L174.1,99.7 L179.5,100.3 L184.8,100.9 L190.2,101.5 L195.6,102.0 L201.0,102.6 L201.0,136.5 L195.6,136.0 L190.2,135.4 L184.8,134.7 L179.5,134.0 L174.1,133.2 L168.7,132.3 L163.3,131.3 L157.9,130.2 L152.5,129.0 L147.2,127.6 L141.8,126.1 L136.4,124.5 L131.0,122.6 L125.6,120.5 L120.2,118.2 L114.9,115.7 L109.5,112.8 L104.1,109.7 L98.7,106.2 L93.3,102.3 L87.9,98.0 L82.6,93.2 L77.2,87.9 L71.8,82.0Z" stroke="none" stroke-width="1" fill="#932220" />
<path d="M71.8,82.0 L77.2,83.4 L82.6,84.8 L87.9,86.1 L93.3,87.4 L98.7,88.6 L104.1,89.8 L109.5,90.9 L114.9,92.0 L120.2,93.0 L125.6,94.0 L131.0,94.9 L136.4,95.8 L141.8,96.7 L147.2,97.5 L152.5,98.3 L157.9,99.1 L163.3,99.8 L168.7,100.5 L174.1,101.2 L179.5,101.8 L184.8,102.4 L190.2,103.0 L195.6,103.6 L201.0,104.1 L201.0,136.5 L195.6,136.0 L190.2,135.4 L184.8,134.7 L179.5,134.0 L174.1,133.2 L168.7,132.3 L163.3,131.3 L157.9,130.2 L152.5,129.0 L147.2,127.6 L141.8,126.1 L136.4,124.5 L131.0,122.6 L125.6,120.5 L120.2,118.2 L114.9,115.7 L109.5,112.8 L104.1,109.7 L98.7,106.2 L93.3,102.3 L87.9,98.0 L82.6,93.2 L77.2,87.9 L71.8,82.0Z" stroke="none" stroke-width="1" fill="#922120" />
<path d="M71.8,82.0 L77.2,83.6 L82.6,85.1 L87.9,86.5 L93.3,87.9 L98.7,89.2 L104.1,90.5 L109.5,91.7 L114.9,92.9 L120.2,94.0 L125.6,95.0 L131.0,96.0 L136.4,97.0 L141.8,97.9 L147.2,98.8 L152.5,99.6 L157.9,100.4 L163.3,101.2 L168.7,101.9 L174.1,102.6 L179.5,103.3 L184.8,103.9 L190.2,104.5 L195.6,105.1 L201.0,105.7 L201.0,136.5 L195.6,136.0 L190.2,135.4 L184.8,134.7 L179.5,134.0 L174.1,133.2 L168.7,132.3 L163.3,131.3 L157.9,130.2 L152.5,129.0 L147.2,127.6 L141.8,126.1 L136.4,124.5 L131.0,122.6 L125.6,120.5 L120.2,118.2 L114.9,115.7 L109.5,112.8 L104.1,109.7 L98.7,106.2 L93.3,102.3 L87.9,98.0 L82.6,93.2 L77.2,87.9 L71.8,82.0Z" stroke="none" stroke-width="1" fill="#902020" />
<path d="M71.8,82.0 L77.2,83.7 L82.6,85.4 L87.9,87.0 L93.3,88.5 L98.7,89.9 L104.1,91.3 L109.5,92.5 L114.9,93.8 L120.2,95.0 L125.6,96.1 L131.0,97.1 L136.4,98.2 L141.8,99.1 L147.2,100.1 L152.5,100.9 L157.9,101.8 L163.3,102.6 L168.7,103.3 L174.1,104.1 L179.5,104.7 L184.8,105.4 L190.2,106.0 L195.6,106.6 L201.0,107.2 L201.0,136.5 L195.6,136.0 L190.2,135.4 L184.8,134.7 L179.5,134.0 L174.1,133.2 L168.7,132.3 L163.3,131.3 L157.9,130.2 L152.5,129.0 L147.2,127.6 L141.8,126.1 L136.4,124.5 L131.0,122.6 L125.6,120.5 L120.2,118.2 L114.9,115.7 L109.5,112.8 L104.1,109.7 L98.7,106.2 L93.3,102.3 L87.9,98.0 L82.6,93.2 L77.2,87.9 L71.8,82.0Z" stroke="none" stroke-width="1" fill="#8e1e20" />
<path d="M71.8,82.0 L77.2,83.9 L82.6,85.7 L87.9,87.4 L93.3,89.0 L98.7,90.6 L104.1,92.0 L109.5,93.4 L114.9,94.7 L120.2,96.0 L125.6,97.2 L131.0,98.3 L136.4,99.4 L141.8,100.4 L147.2,101.4 L152.5,102.3 L157.9,103.2 L163.3,104.0 L168.7,104.8 L174.1,105.5 L179.5,106.2 L184.8,106.9 L190.2,107.5 L195.6,108.2 L201.0,108.7 L201.0,136.5 L195.6,136.0 L190.2,135.4 L184.8,134.7 L179.5,134.0 L174.1,133.2 L168.7,132.3 L163.3,131.3 L157.9,130.2 L152.5,129.0 L147.2,127.6 L141.8,126.1 L136.4,124.5 L131.0,122.6 L125.6,120.5 L120.2,118.2 L114.9,115.7 L109.5,112.8 L104.1,109.7 L98.7,106.2 L93.3,102.3 L87.9,98.0 L82.6,93.2 L77.2,87.9 L71.8,82.0Z" stroke="none" stroke-width="1" fill="#8c1d20" />
<path d="M71.8,82.0 L77.2,84.1 L82.6,86.0 L87.9,87.8 L93.3,89.6 L98.7,91.2 L104.1,92.8 L109.5,94.3 L114.9,95.7 L120.2,97.0 L125.6,98.3 L131.0,99.5 L136.4,100.6 L141.8,101.7 L147.2,102.7 L152.5,103.6 L157.9,104.6 L163.3,105.4 L168.7,106.2 L174.1,107.0 L179.5,107.7 L184.8,108.4 L190.2,109.1 L195.6,109.7 L201.0,110.3 L201.0,136.5 L195.6,136.0 L190.2,135.4 L184.8,134.7 L179.5,134.0 L174.1,133.2 L168.7,132.3 L163.3,131.3 L157.9,130.2 L152.5,129.0 L147.2,127.6 L141.8,126.1 L136.4,124.5 L131.0,122.6 L125.6,120.5 L120.2,118.2 L114.9,115.7 L109.5,112.8 L104.1,109.7 L98.7,106.2 L93.3,102.3 L87.9,98.0 L82.6,93.2 L77.2,87.9 L71.8,82.0Z" stroke="none" stroke-width="1" fill="#8a1c20" />
<path d="M71.8,82.0 L77.2,84.2 L82.6,86.3 L87.9,88.3 L93.3,90.2 L98.7,92.0 L104.1,93.6 L109.5,95.2 L114.9,96.7 L120.2,98.1 L125.6,99.4 L131.0,100.7 L136.4,101.9 L141.8,103.0 L147.2,104.0 L152.5,105.0 L157.9,106.0 L163.3,106.9 L168.7,107.7 L174.1,108.5 L179.5,109.2 L184.8,109.9 L190.2,110.6 L195.6,111.2 L201.0,111.8 L201.0,136.5 L195.6,136.0 L190.2,135.4 L184.8,134.7 L179.5,134.0 L174.1,133.2 L168.7,132.3 L163.3,131.3 L157.9,130.2 L152.5,129.0 L147.2,127.6 L141.8,126.1 L136.4,124.5 L131.0,122.6 L125.6,120.5 L120.2,118.2 L114.9,115.7 L109.5,112.8 L104.1,109.7 L98.7,106.2 L93.3,102.3 L87.9,98.0 L82.6,93.2 L77.2,87.9 L71.8,82.0Z" stroke="none" stroke-width="1" fill="#881b1f" />
<path d="M71.8,82.0 L77.2,84.4 L82.6,86.7 L87.9,88.8 L93.3,90.8 L98.7,92.7 L104.1,94.5 L109.5,96.1 L114.9,97.7 L120.2,99.2 L125.6,100.6 L131.0,101.9 L136.4,103.1 L141.8,104.3 L147.2,105.4 L152.5,106.4 L157.9,107.4 L163.3,108.3 L168.7,109.2 L174.1,110.0 L179.5,110.7 L184.8,111.5 L190.2,112.1 L195.6,112.8 L201.0,113.4 L201.0,136.5 L195.6,136.0 L190.2,135.4 L184.8,134.7 L179.5,134.0 L174.1,133.2 L168.7,132.3 L163.3,131.3 L157.9,130.2 L152.5,129.0 L147.2,127.6 L141.8,126.1 L136.4,124.5 L131.0,122.6 L125.6,120.5 L120.2,118.2 L114.9,115.7 L109.5,112.8 L104.1,109.7 L98.7,106.2 L93.3,102.3 L87.9,98.0 L82.6,93.2 L77.2,87.9 L71.8,82.0Z" stroke="none" stroke-width="1" fill="#851b1f" />
<path d="M71.8,82.0 L77.2,84.6 L82.6,87.0 L87.9,89.3 L93.3,91.4 L98.7,93.4 L104.1,95.3 L109.5,97.1 L114.9,98.7 L120.2,100.3 L125.6,101.8 L131.0,103.1 L136.4,104.4 L141.8,105.6 L147.2,106.8 L152.5,107.8 L157.9,108.8 L163.3,109.8 L168.7,110.7 L174.1,111.5 L179.5,112.3 L184.8,113.0 L190.2,113.7 L195.6,114.3 L201.0,114.9 L201.0,136.5 L195.6,136.0 L190.2,135.4 L184.8,134.7 L179.5,134.0 L174.1,133.2 L168.7,132.3 L163.3,131.3 L157.9,130.2 L152.5,129.0 L147.2,127.6 L141.8,126.1 L136.4,124.5 L131.0,122.6 L125.6,120.5 L120.2,118.2 L114.9,115.7 L109.5,112.8 L104.1,109.7 L98.7,106.2 L93.3,102.3 L87.9,98.0 L82.6,93.2 L77.2,87.9 L71.8,82.0Z" stroke="none" stroke-width="1" fill="#821a1e" />
<path d="M71.8,82.0 L77.2,84.8 L82.6,87.4 L87.9,89.8 L93.3,92.1 L98.7,94.2 L104.1,96.2 L109.5,98.1 L114.9,99.8 L120.2,101.4 L125.6,103.0 L131.0,104.4 L136.4,105.7 L141.8,107.0 L147.2,108.2 L152.5,109.3 L157.9,110.3 L163.3,111.2 L168.7,112.1 L174.1,113.0 L179.5,113.8 L184.8,114.5 L190.2,115.2 L195.6,115.8 L201.0,116.4 L201.0,136.5 L195.6,136.0 L190.2,135.4 L184.8,134.7 L179.5,134.0 L174.1,133.2 L168.7,132.3 L163.3,131.3 L157.9,130.2 L152.5,129.0 L147.2,127.6 L141.8,126.1 L136.4,124.5 L131.0,122.6 L125.6,120.5 L120.2,118.2 L114.9,115.7 L109.5,112.8 L104.1,109.7 L98.7,106.2 L93.3,102.3 L87.9,98.0 L82.6,93.2 L77.2,87.9 L71.8,82.0Z" stroke="none" stroke-width="1" fill="#7f191e" />
<path d="M71.8,82.0 L77.2,85.0 L82.6,87.7 L87.9,90.3 L93.3,92.8 L98.7,95.0 L104.1,97.1 L109.5,99.1 L114.9,100.9 L120.2,102.6 L125.6,104.2 L131.0,105.7 L136.4,107.1 L141.8,108.4 L147.2,109.6 L152.5,110.7 L157.9,111.8 L163.3,112.7 L168.7,113.7 L174.1,114.5 L179.5,115.3 L184.8,116.0 L190.2,116.7 L195.6,117.4 L201.0,118.0 L201.0,136.5 L195.6,136.0 L190.2,135.4 L184.8,134.7 L179.5,134.0 L174.1,133.2 L168.7,132.3 L163.3,131.3 L157.9,130.2 L152.5,129.0 L147.2,127.6 L141.8,126.1 L136.4,124.5 L131.0,122.6 L125.6,120.5 L120.2,118.2 L114.9,115.7 L109.5,112.8 L104.1,109.7 L98.7,106.2 L93.3,102.3 L87.9,98.0 L82.6,93.2 L77.2,87.9 L71.8,82.0Z" stroke="none" stroke-width="1" fill="#7c191d" />
<path d="M71.8,82.0 L77.2,85.2 L82.6,88.1 L87.9,90.9 L93.3,93.4 L98.7,95.8 L104.1,98.0 L109.5,100.1 L114.9,102.0 L120.2,103.8 L125.6,105.5 L131.0,107.0 L136.4,108.4 L141.8,109.8 L147.2,111.0 L152.5,112.2 L157.9,113.2 L163.3,114.2 L168.7,115.2 L174.1,116.0 L179.5,116.8 L184.8,117.6 L190.2,118.3 L195.6,118.9 L201.0,119.5 L201.0,136.5 L195.6,136.0 L190.2,135.4 L184.8,134.7 L179.5,134.0 L174.1,133.2 L168.7,132.3 L163.3,131.3 L157.9,130.2 L152.5,129.0 L147.2,127.6 L141.8,126.1 L136.4,124.5 L131.0,122.6 L125.6,120.5 L120.2,118.2 L114.9,115.7 L109.5,112.8 L104.1,109.7 L98.7,106.2 L93.3,102.3 L87.9,98.0 L82.6,93.2 L77.2,87.9 L71.8,82.0Z" stroke="none" stroke-width="1" fill="#79181d" />
<path d="M71.8,82.0 L77.2,85.4 L82.6,88.5 L87.9,91.5 L93.3,94.2 L98.7,96.7 L104.1,99.0 L109.5,101.2 L114.9,103.2 L120.2,105.0 L125.6,106.7 L131.0,108.3 L136.4,109.8 L141.8,111.2 L147.2,112.5 L152.5,113.6 L157.9,114.7 L163.3,115.8 L168.7,116.7 L174.1,117.6 L179.5,118.4 L184.8,119.1 L190.2,119.8 L195.6,120.5 L201.0,121.1 L201.0,136.5 L195.6,136.0 L190.2,135.4 L184.8,134.7 L179.5,134.0 L174.1,133.2 L168.7,132.3 L163.3,131.3 L157.9,130.2 L152.5,129.0 L147.2,127.6 L141.8,126.1 L136.4,124.5 L131.0,122.6 L125.6,120.5 L120.2,118.2 L114.9,115.7 L109.5,112.8 L104.1,109.7 L98.7,106.2 L93.3,102.3 L87.9,98.0 L82.6,93.2 L77.2,87.9 L71.8,82.0Z" stroke="none" stroke-width="1" fill="#75171c" />
<path d="M71.8,82.0 L77.2,85.6 L82.6,88.9 L87.9,92.0 L93.3,94.9 L98.7,97.5 L104.1,100.0 L109.5,102.2 L114.9,104.3 L120.2,106.2 L125.6,108.0 L131.0,109.7 L136.4,111.2 L141.8,112.6 L147.2,113.9 L152.5,115.1 L157.9,116.2 L163.3,117.3 L168.7,118.2 L174.1,119.1 L179.5,119.9 L184.8,120.7 L190.2,121.4 L195.6,122.0 L201.0,122.6 L201.0,136.5 L195.6,136.0 L190.2,135.4 L184.8,134.7 L179.5,134.0 L174.1,133.2 L168.7,132.3 L163.3,131.3 L157.9,130.2 L152.5,129.0 L147.2,127.6 L141.8,126.1 L136.4,124.5 L131.0,122.6 L125.6,120.5 L120.2,118.2 L114.9,115.7 L109.5,112.8 L104.1,109.7 L98.7,106.2 L93.3,102.3 L87.9,98.0 L82.6,93.2 L77.2,87.9 L71.8,82.0Z" stroke="none" stroke-width="1" fill="#72171c" />
<path d="M71.8,82.0 L77.2,85.8 L82.6,89.4 L87.9,92.6 L93.3,95.6 L98.7,98.4 L104.1,101.0 L109.5,103.3 L114.9,105.5 L120.2,107.5 L125.6,109.3 L131.0,111.0 L136.4,112.6 L141.8,114.1 L147.2,115.4 L152.5,116.6 L157.9,117.8 L163.3,118.8 L168.7,119.8 L174.1,120.7 L179.5,121.5 L184.8,122.2 L190.2,122.9 L195.6,123.6 L201.0,124.2 L201.0,136.5 L195.6,136.0 L190.2,135.4 L184.8,134.7 L179.5,134.0 L174.1,133.2 L168.7,132.3 L163.3,131.3 L157.9,130.2 L152.5,129.0 L147.2,127.6 L141.8,126.1 L136.4,124.5 L131.0,122.6 L125.6,120.5 L120.2,118.2 L114.9,115.7 L109.5,112.8 L104.1,109.7 L98.7,106.2 L93.3,102.3 L87.9,98.0 L82.6,93.2 L77.2,87.9 L71.8,82.0Z" stroke="none" stroke-width="1" fill="#6e161b" />
<path d="M71.8,82.0 L77.2,86.1 L82.6,89.8 L87.9,93.2 L93.3,96.4 L98.7,99.3 L104.1,102.0 L109.5,104.4 L114.9,106.7 L120.2,108.8 L125.6,110.7 L131.0,112.4 L136.4,114.0 L141.8,115.5 L147.2,116.9 L152.5,118.1 L157.9,119.3 L163.3,120.3 L168.7,121.3 L174.1,122.2 L179.5,123.0 L184.8,123.8 L190.2,124.5 L195.6,125.1 L201.0,125.7 L201.0,136.5 L195.6,136.0 L190.2,135.4 L184.8,134.7 L179.5,134.0 L174.1,133.2 L168.7,132.3 L163.3,131.3 L157.9,130.2 L152.5,129.0 L147.2,127.6 L141.8,126.1 L136.4,124.5 L131.0,122.6 L125.6,120.5 L120.2,118.2 L114.9,115.7 L109.5,112.8 L104.1,109.7 L98.7,106.2 L93.3,102.3 L87.9,98.0 L82.6,93.2 L77.2,87.9 L71.8,82.0Z" stroke="none" stroke-width="1" fill="#6a151a" />
<path d="M71.8,82.0 L77.2,86.3 L82.6,90.3 L87.9,93.9 L93.3,97.2 L98.7,100.2 L104.1,103.0 L109.5,105.6 L114.9,107.9 L120.2,110.1 L125.6,112.0 L131.0,113.8 L136.4,115.5 L141.8,117.0 L147.2,118.4 L152.5,119.7 L157.9,120.8 L163.3,121.9 L168.7,122.9 L174.1,123.8 L179.5,124.6 L184.8,125.3 L190.2,126.0 L195.6,126.7 L201.0,127.2 L201.0,136.5 L195.6,136.0 L190.2,135.4 L184.8,134.7 L179.5,134.0 L174.1,133.2 L168.7,132.3 L163.3,131.3 L157.9,130.2 L152.5,129.0 L147.2,127.6 L141.8,126.1 L136.4,124.5 L131.0,122.6 L125.6,120.5 L120.2,118.2 L114.9,115.7 L109.5,112.8 L104.1,109.7 L98.7,106.2 L93.3,102.3 L87.9,98.0 L82.6,93.2 L77.2,87.9 L71.8,82.0Z" stroke="none" stroke-width="1" fill="#67141a" />
<path d="M71.8,82.0 L77.2,86.6 L82.6,90.7 L87.9,94.5 L93.3,98.0 L98.7,101.2 L104.1,104.1 L109.5,106.7 L114.9,109.2 L120.2,111.4 L125.6,113.4 L131.0,115.3 L136.4,116.9 L141.8,118.5 L147.2,119.9 L152.5,121.2 L157.9,122.4 L163.3,123.4 L168.7,124.4 L174.1,125.3 L179.5,126.2 L184.8,126.9 L190.2,127.6 L195.6,128.2 L201.0,128.8 L201.0,136.5 L195.6,136.0 L190.2,135.4 L184.8,134.7 L179.5,134.0 L174.1,133.2 L168.7,132.3 L163.3,131.3 L157.9,130.2 L152.5,129.0 L147.2,127.6 L141.8,126.1 L136.4,124.5 L131.0,122.6 L125.6,120.5 L120.2,118.2 L114.9,115.7 L109.5,112.8 L104.1,109.7 L98.7,106.2 L93.3,102.3 L87.9,98.0 L82.6,93.2 L77.2,87.9 L71.8,82.0Z" stroke="none" stroke-width="1" fill="#631419" />
<path d="M71.8,82.0 L77.2,86.8 L82.6,91.2 L87.9,95.2 L93.3,98.8 L98.7,102.1 L104.1,105.2 L109.5,107.9 L114.9,110.4 L120.2,112.7 L125.6,114.8 L131.0,116.7 L136.4,118.4 L141.8,120.0 L147.2,121.4 L152.5,122.7 L157.9,123.9 L163.3,125.0 L168.7,126.0 L174.1,126.9 L179.5,127.7 L184.8,128.5 L190.2,129.1 L195.6,129.8 L201.0,130.3 L201.0,136.5 L195.6,136.0 L190.2,135.4 L184.8,134.7 L179.5,134.0 L174.1,133.2 L168.7,132.3 L163.3,131.3 L157.9,130.2 L152.5,129.0 L147.2,127.6 L141.8,126.1 L136.4,124.5 L131.0,122.6 L125.6,120.5 L120.2,118.2 L114.9,115.7 L109.5,112.8 L104.1,109.7 L98.7,106.2 L93.3,102.3 L87.9,98.0 L82.6,93.2 L77.2,87.9 L71.8,82.0Z" stroke="none" stroke-width="1" fill="#601319" />
<path d="M71.8,82.0 L77.2,87.1 L82.6,91.7 L87.9,95.9 L93.3,99.7 L98.7,103.1 L104.1,106.3 L109.5,109.1 L114.9,111.7 L120.2,114.1 L125.6,116.2 L131.0,118.1 L136.4,119.9 L141.8,121.5 L147.2,123.0 L152.5,124.3 L157.9,125.5 L163.3,126.6 L168.7,127.6 L174.1,128.5 L179.5,129.3 L184.8,130.0 L190.2,130.7 L195.6,131.3 L201.0,131.9 L201.0,136.5 L195.6,136.0 L190.2,135.4 L184.8,134.7 L179.5,134.0 L174.1,133.2 L168.7,132.3 L163.3,131.3 L157.9,130.2 L152.5,129.0 L147.2,127.6 L141.8,126.1 L136.4,124.5 L131.0,122.6 L125.6,120.5 L120.2,118.2 L114.9,115.7 L109.5,112.8 L104.1,109.7 L98.7,106.2 L93.3,102.3 L87.9,98.0 L82.6,93.2 L77.2,87.9 L71.8,82.0Z" stroke="none" stroke-width="1" fill="#5c1218" />
<path d="M71.8,82.0 L77.2,87.3 L82.6,92.2 L87.9,96.6 L93.3,100.5 L98.7,104.1 L104.1,107.4 L109.5,110.3 L114.9,113.0 L120.2,115.4 L125.6,117.6 L131.0,119.6 L136.4,121.4 L141.8,123.0 L147.2,124.5 L152.5,125.8 L157.9,127.1 L163.3,128.2 L168.7,129.1 L174.1,130.0 L179.5,130.9 L184.8,131.6 L190.2,132.3 L195.6,132.9 L201.0,133.4 L201.0,136.5 L195.6,136.0 L190.2,135.4 L184.8,134.7 L179.5,134.0 L174.1,133.2 L168.7,132.3 L163.3,131.3 L157.9,130.2 L152.5,129.0 L147.2,127.6 L141.8,126.1 L136.4,124.5 L131.0,122.6 L125.6,120.5 L120.2,118.2 L114.9,115.7 L109.5,112.8 L104.1,109.7 L98.7,106.2 L93.3,102.3 L87.9,98.0 L82.6,93.2 L77.2,87.9 L71.8,82.0Z" stroke="none" stroke-width="1" fill="#581117" />
<path d="M71.8,82.0 L77.2,87.6 L82.6,92.7 L87.9,97.3 L93.3,101.4 L98.7,105.2 L104.1,108.5 L109.5,111.6 L114.9,114.3 L120.2,116.8 L125.6,119.1 L131.0,121.1 L136.4,122.9 L141.8,124.6 L147.2,126.1 L152.5,127.4 L157.9,128.6 L163.3,129.7 L168.7,130.7 L174.1,131.6 L179.5,132.4 L184.8,133.2 L190.2,133.8 L195.6,134.4 L201.0,135.0 L201.0,136.5 L195.6,136.0 L190.2,135.4 L184.8,134.7 L179.5,134.0 L174.1,133.2 L168.7,132.3 L163.3,131.3 L157.9,130.2 L152.5,129.0 L147.2,127.6 L141.8,126.1 L136.4,124.5 L131.0,122.6 L125.6,120.5 L120.2,118.2 L114.9,115.7 L109.5,112.8 L104.1,109.7 L98.7,106.2 L93.3,102.3 L87.9,98.0 L82.6,93.2 L77.2,87.9 L71.8,82.0Z" stroke="none" stroke-width="1" fill="#541116" />
<path d="M71.8,82.0 L77.2,80.9 L82.6,79.9 L87.9,78.8 L93.3,77.7 L98.7,76.5 L104.1,75.4 L109.5,74.2 L114.9,73.0 L120.2,71.7 L125.6,70.5 L131.0,69.2 L136.4,67.9 L141.8,66.6 L147.2,65.2 L152.5,63.8 L157.9,62.4 L163.3,60.9 L168.7,59.5 L174.1,58.0 L179.5,56.4 L184.8,54.9 L190.2,53.3 L195.6,51.7 L201.0,50.0" stroke="#f8e4cc" stroke-width="0.6" fill="none" stroke-opacity="0.6"/>
<path d="M71.8,82.0 L77.2,81.0 L82.6,80.0 L87.9,79.0 L93.3,78.0 L98.7,76.9 L104.1,75.9 L109.5,74.8 L114.9,73.7 L120.2,72.6 L125.6,71.4 L131.0,70.2 L136.4,69.0 L141.8,67.8 L147.2,66.6 L152.5,65.4 L157.9,64.1 L163.3,62.8 L168.7,61.5 L174.1,60.1 L179.5,58.7 L184.8,57.3 L190.2,55.9 L195.6,54.5 L201.0,53.0" stroke="#f8e4cc" stroke-width="0.6" fill="none" stroke-opacity="0.7"/>
<path d="M71.8,82.0 L77.2,81.1 L82.6,80.2 L87.9,79.3 L93.3,78.4 L98.7,77.5 L104.1,76.5 L109.5,75.5 L114.9,74.5 L120.2,73.5 L125.6,72.5 L131.0,71.5 L136.4,70.4 L141.8,69.4 L147.2,68.3 L152.5,67.2 L157.9,66.1 L163.3,65.0 L168.7,63.8 L174.1,62.6 L179.5,61.4 L184.8,60.2 L190.2,59.0 L195.6,57.8 L201.0,56.5" stroke="#f8e4cc" stroke-width="0.6" fill="none" stroke-opacity="0.7"/>
<path d="M71.8,82.0 L77.2,81.2 L82.6,80.4 L87.9,79.6 L93.3,78.8 L98.7,78.0 L104.1,77.2 L109.5,76.3 L114.9,75.4 L120.2,74.6 L125.6,73.7 L131.0,72.8 L136.4,71.9 L141.8,71.0 L147.2,70.0 L152.5,69.1 L157.9,68.1 L163.3,67.2 L168.7,66.2 L174.1,65.2 L179.5,64.2 L184.8,63.2 L190.2,62.1 L195.6,61.1 L201.0,60.0" stroke="#f8e4cc" stroke-width="0.6" fill="none" stroke-opacity="0.8"/>
<path d="M71.8,82.0 L77.2,81.3 L82.6,80.7 L87.9,80.0 L93.3,79.3 L98.7,78.6 L104.1,77.9 L109.5,77.2 L114.9,76.5 L120.2,75.8 L125.6,75.1 L131.0,74.3 L136.4,73.6 L141.8,72.8 L147.2,72.1 L152.5,71.3 L157.9,70.5 L163.3,69.8 L168.7,69.0 L174.1,68.2 L179.5,67.3 L184.8,66.5 L190.2,65.7 L195.6,64.8 L201.0,64.0" stroke="#f8e4cc" stroke-width="0.6" fill="none" stroke-opacity="0.8"/>
<path d="M71.8,82.0 L77.2,81.5 L82.6,80.9 L87.9,80.4 L93.3,79.9 L98.7,79.3 L104.1,78.8 L109.5,78.2 L114.9,77.7 L120.2,77.1 L125.6,76.5 L131.0,75.9 L136.4,75.4 L141.8,74.8 L147.2,74.2 L152.5,73.6 L157.9,73.0 L163.3,72.4 L168.7,71.8 L174.1,71.2 L179.5,70.5 L184.8,69.9 L190.2,69.3 L195.6,68.6 L201.0,68.0" stroke="#f8e4cc" stroke-width="0.6" fill="none" stroke-opacity="0.85"/>
<path d="M71.8,82.0 L77.2,81.6 L82.6,81.2 L87.9,80.8 L93.3,80.4 L98.7,79.9 L104.1,79.5 L109.5,79.1 L114.9,78.7 L120.2,78.3 L125.6,77.8 L131.0,77.4 L136.4,77.0 L141.8,76.5 L147.2,76.1 L152.5,75.6 L157.9,75.2 L163.3,74.7 L168.7,74.3 L174.1,73.8 L179.5,73.4 L184.8,72.9 L190.2,72.4 L195.6,72.0 L201.0,71.5" stroke="#f8e4cc" stroke-width="0.6" fill="none" stroke-opacity="0.8"/>
<path d="M71.8,82.0 L77.2,81.7 L82.6,81.4 L87.9,81.1 L93.3,80.8 L98.7,80.5 L104.1,80.2 L109.5,79.9 L114.9,79.6 L120.2,79.3 L125.6,79.0 L131.0,78.7 L136.4,78.4 L141.8,78.0 L147.2,77.7 L152.5,77.4 L157.9,77.1 L163.3,76.8 L168.7,76.5 L174.1,76.1 L179.5,75.8 L184.8,75.5 L190.2,75.2 L195.6,74.8 L201.0,74.5" stroke="#f8e4cc" stroke-width="0.6" fill="none" stroke-opacity="0.75"/>
<path d="M71.8,82.0 L77.2,81.8 L82.6,81.7 L87.9,81.5 L93.3,81.3 L98.7,81.2 L104.1,81.0 L109.5,80.9 L114.9,80.7 L120.2,80.5 L125.6,80.4 L131.0,80.2 L136.4,80.0 L141.8,79.9 L147.2,79.7 L152.5,79.5 L157.9,79.4 L163.3,79.2 L168.7,79.0 L174.1,78.9 L179.5,78.7 L184.8,78.5 L190.2,78.3 L195.6,78.2 L201.0,78.0" stroke="#f8e4cc" stroke-width="0.6" fill="none" stroke-opacity="0.6"/>
<path d="M71.8,82.0 L77.2,82.3 L82.6,82.6 L87.9,82.8 L93.3,83.1 L98.7,83.4 L104.1,83.7 L109.5,83.9 L114.9,84.2 L120.2,84.4 L125.6,84.7 L131.0,85.0 L136.4,85.2 L141.8,85.5 L147.2,85.7 L152.5,85.9 L157.9,86.2 L163.3,86.4 L168.7,86.7 L174.1,86.9 L179.5,87.1 L184.8,87.3 L190.2,87.6 L195.6,87.8 L201.0,88.0" stroke="#f8e4cc" stroke-width="0.6" fill="none" stroke-opacity="0.5"/>
<path d="M71.8,82.0 L77.2,82.8 L82.6,83.5 L87.9,84.3 L93.3,85.0 L98.7,85.7 L104.1,86.4 L109.5,87.1 L114.9,87.7 L120.2,88.3 L125.6,88.9 L131.0,89.5 L136.4,90.1 L141.8,90.7 L147.2,91.2 L152.5,91.8 L157.9,92.3 L163.3,92.8 L168.7,93.3 L174.1,93.8 L179.5,94.2 L184.8,94.7 L190.2,95.1 L195.6,95.6 L201.0,96.0" stroke="#f8e4cc" stroke-width="0.6" fill="none" stroke-opacity="0.4"/>
<path d="M71.8,82.0 L77.2,84.5 L82.6,86.8 L87.9,89.0 L93.3,91.1 L98.7,93.0 L104.1,94.8 L109.5,96.5 L114.9,98.1 L120.2,99.6 L125.6,101.1 L131.0,102.4 L136.4,103.7 L141.8,104.8 L147.2,106.0 L152.5,107.0 L157.9,108.0 L163.3,108.9 L168.7,109.8 L174.1,110.6 L179.5,111.4 L184.8,112.1 L190.2,112.8 L195.6,113.4 L201.0,114.0" stroke="#f8e4cc" stroke-width="0.6" fill="none" stroke-opacity="0.35"/>
<path d="M71.8,82.0 L76.1,80.5 L80.4,79.1 L84.7,77.6 L89.0,76.1 L93.3,74.6 L97.6,73.1 L101.9,71.6 L106.3,70.0 L110.6,68.5 L114.9,66.9 L119.2,65.3 L123.5,63.7 L127.8,62.1 L132.1,60.5 L136.4,58.9 L140.7,57.2 L145.0,55.6 L149.3,53.9 L153.6,52.2 L157.9,50.5 L162.2,48.8 L166.5,47.1 L170.9,45.4 L175.2,43.6 L179.5,41.8 L183.8,40.1 L188.1,38.3 L192.4,36.5 L196.7,34.6 L201.0,32.8" stroke="#a89a3a" stroke-width="1.5" fill="none" />
<path d="M71.8,82.0 L76.1,83.0 L80.4,84.1 L84.7,85.1 L89.0,86.1 L93.3,87.1 L97.6,88.1 L101.9,89.0 L106.3,89.9 L110.6,90.9 L114.9,91.8 L119.2,92.7 L123.5,93.5 L127.8,94.4 L132.1,95.3 L136.4,96.1 L140.7,96.9 L145.0,97.7 L149.3,98.5 L153.6,99.3 L157.9,100.1 L162.2,100.9 L166.5,101.6 L170.9,102.4 L175.2,103.1 L179.5,103.8 L183.8,104.5 L188.1,105.2 L192.4,105.9 L196.7,106.5 L201.0,107.2" stroke="#f0e8f0" stroke-width="2.4" fill="none" stroke-opacity="0.6"/>
<path d="M71.8,82.0 L76.1,83.0 L80.4,84.1 L84.7,85.1 L89.0,86.1 L93.3,87.1 L97.6,88.1 L101.9,89.0 L106.3,89.9 L110.6,90.9 L114.9,91.8 L119.2,92.7 L123.5,93.5 L127.8,94.4 L132.1,95.3 L136.4,96.1 L140.7,96.9 L145.0,97.7 L149.3,98.5 L153.6,99.3 L157.9,100.1 L162.2,100.9 L166.5,101.6 L170.9,102.4 L175.2,103.1 L179.5,103.8 L183.8,104.5 L188.1,105.2 L192.4,105.9 L196.7,106.5 L201.0,107.2" stroke="#6a80c8" stroke-width="1.4" fill="none" />
<path d="M71.8,82.0 L75.0,89.2 L78.3,95.5 L81.5,101.1 L84.7,105.9 L87.9,110.1 L91.2,113.8 L94.4,117.0 L97.6,119.8 L100.9,122.3 L104.1,124.4 L107.3,126.3 L110.6,127.9 L113.8,129.4 L117.0,130.6 L120.2,131.7 L123.5,132.7 L126.7,133.5 L129.9,134.2 L133.2,134.9 L136.4,135.4 L139.6,135.9 L142.9,136.3 L146.1,136.7 L149.3,137.0 L152.5,137.3 L155.8,137.5 L159.0,137.8 L162.2,138.0 L165.5,138.1 L168.7,138.3 L171.9,138.4 L175.2,138.5 L178.4,138.6 L181.6,138.7 L184.8,138.8 L188.1,138.8 L191.3,138.9 L194.5,138.9 L197.8,139.0 L201.0,139.0" stroke="#000" stroke-width="1.3" fill="none" />
<circle cx="104.1" cy="44.0" r="3.3" fill="#a99638" stroke="none" stroke-width="0"/>
<circle cx="104.1" cy="64.0" r="3.3" fill="#8a1c20" stroke="none" stroke-width="0"/>
<circle cx="104.1" cy="67.0" r="3.3" fill="#871b1f" stroke="none" stroke-width="0"/>
<circle cx="104.1" cy="70.0" r="3.3" fill="#841a1f" stroke="none" stroke-width="0"/>
<circle cx="104.1" cy="73.0" r="3.3" fill="#811a1e" stroke="none" stroke-width="0"/>
<circle cx="104.1" cy="76.0" r="3.3" fill="#7e191e" stroke="none" stroke-width="0"/>
<circle cx="104.1" cy="79.0" r="3.3" fill="#7c191d" stroke="none" stroke-width="0"/>
<circle cx="104.1" cy="82.0" r="3.3" fill="#79181d" stroke="none" stroke-width="0"/>
<circle cx="104.1" cy="85.0" r="3.3" fill="#76171c" stroke="none" stroke-width="0"/>
<circle cx="104.1" cy="88.0" r="3.3" fill="#73171c" stroke="none" stroke-width="0"/>
<circle cx="104.1" cy="91.0" r="3.3" fill="#70161b" stroke="none" stroke-width="0"/>
<circle cx="104.1" cy="94.0" r="3.3" fill="#6e161b" stroke="none" stroke-width="0"/>
<circle cx="104.1" cy="97.0" r="3.3" fill="#6b151a" stroke="none" stroke-width="0"/>
<circle cx="104.1" cy="100.0" r="3.3" fill="#68151a" stroke="none" stroke-width="0"/>
<circle cx="104.1" cy="103.0" r="3.3" fill="#651419" stroke="none" stroke-width="0"/>
<circle cx="104.1" cy="106.0" r="3.3" fill="#621319" stroke="none" stroke-width="0"/>
<circle cx="104.1" cy="109.0" r="3.3" fill="#601319" stroke="none" stroke-width="0"/>
<circle cx="104.1" cy="112.0" r="3.3" fill="#5d1218" stroke="none" stroke-width="0"/>
<circle cx="104.1" cy="115.0" r="3.3" fill="#5a1218" stroke="none" stroke-width="0"/>
<circle cx="104.1" cy="118.0" r="3.3" fill="#571117" stroke="none" stroke-width="0"/>
<circle cx="104.1" cy="121.0" r="3.3" fill="#531016" stroke="none" stroke-width="0"/>
<circle cx="104.1" cy="124.0" r="3.3" fill="#501015" stroke="none" stroke-width="0"/>
<circle cx="104.1" cy="60.0" r="3.3" fill="#7a1a1a" stroke="none" stroke-width="0"/>
<circle cx="104.1" cy="62.5" r="3.3" fill="#7a1a1a" stroke="none" stroke-width="0"/>
<circle cx="104.1" cy="68.5" r="3.3" fill="#4a1010" stroke="none" stroke-width="0"/>
<circle cx="104.1" cy="122.2" r="3.3" fill="#050505" stroke="none" stroke-width="0"/>
<circle cx="104.1" cy="128.2" r="3.3" fill="#9a2a2a" stroke="none" stroke-width="0"/>
<circle cx="201.0" cy="48.0" r="3.3" fill="#a89a3a" stroke="none" stroke-width="0"/>
<circle cx="201.0" cy="50.0" r="3.3" fill="#a99638" stroke="none" stroke-width="0"/>
<circle cx="201.0" cy="52.0" r="3.3" fill="#aa9336" stroke="none" stroke-width="0"/>
<circle cx="201.0" cy="54.0" r="3.3" fill="#ac9034" stroke="none" stroke-width="0"/>
<circle cx="201.0" cy="56.0" r="3.3" fill="#ad8d33" stroke="none" stroke-width="0"/>
<circle cx="201.0" cy="58.0" r="3.3" fill="#ae8a31" stroke="none" stroke-width="0"/>
<circle cx="201.0" cy="60.0" r="3.3" fill="#b0862f" stroke="none" stroke-width="0"/>
<circle cx="201.0" cy="62.0" r="3.3" fill="#b07f2e" stroke="none" stroke-width="0"/>
<circle cx="201.0" cy="64.0" r="3.3" fill="#b0772d" stroke="none" stroke-width="0"/>
<circle cx="201.0" cy="66.0" r="3.3" fill="#b06f2b" stroke="none" stroke-width="0"/>
<circle cx="201.0" cy="68.0" r="3.3" fill="#b0672a" stroke="none" stroke-width="0"/>
<circle cx="201.0" cy="70.0" r="3.3" fill="#b05f29" stroke="none" stroke-width="0"/>
<circle cx="201.0" cy="72.0" r="3.3" fill="#af5827" stroke="none" stroke-width="0"/>
<circle cx="201.0" cy="74.0" r="3.3" fill="#ae5026" stroke="none" stroke-width="0"/>
<circle cx="201.0" cy="76.0" r="3.3" fill="#ac4924" stroke="none" stroke-width="0"/>
<circle cx="201.0" cy="78.0" r="3.3" fill="#ab4223" stroke="none" stroke-width="0"/>
<circle cx="201.0" cy="80.0" r="3.3" fill="#aa3b22" stroke="none" stroke-width="0"/>
<circle cx="201.0" cy="82.0" r="3.3" fill="#a83420" stroke="none" stroke-width="0"/>
<circle cx="201.0" cy="84.0" r="3.3" fill="#a62f20" stroke="none" stroke-width="0"/>
<circle cx="201.0" cy="86.0" r="3.3" fill="#a32c20" stroke="none" stroke-width="0"/>
<circle cx="201.0" cy="88.0" r="3.3" fill="#9f2a20" stroke="none" stroke-width="0"/>
<circle cx="201.0" cy="90.0" r="3.3" fill="#9c2820" stroke="none" stroke-width="0"/>
<circle cx="201.0" cy="92.0" r="3.3" fill="#992620" stroke="none" stroke-width="0"/>
<circle cx="201.0" cy="94.0" r="3.3" fill="#952320" stroke="none" stroke-width="0"/>
<circle cx="201.0" cy="96.0" r="3.3" fill="#922120" stroke="none" stroke-width="0"/>
<circle cx="201.0" cy="98.0" r="3.3" fill="#8e1f20" stroke="none" stroke-width="0"/>
<circle cx="201.0" cy="100.0" r="3.3" fill="#8b1c20" stroke="none" stroke-width="0"/>
<circle cx="201.0" cy="102.0" r="3.3" fill="#861b1f" stroke="none" stroke-width="0"/>
<circle cx="201.0" cy="104.0" r="3.3" fill="#811a1e" stroke="none" stroke-width="0"/>
<circle cx="201.0" cy="106.0" r="3.3" fill="#7b191d" stroke="none" stroke-width="0"/>
<circle cx="201.0" cy="108.0" r="3.3" fill="#76171c" stroke="none" stroke-width="0"/>
<circle cx="201.0" cy="110.0" r="3.3" fill="#70161b" stroke="none" stroke-width="0"/>
<circle cx="201.0" cy="112.0" r="3.3" fill="#6b151a" stroke="none" stroke-width="0"/>
<circle cx="201.0" cy="114.0" r="3.3" fill="#66141a" stroke="none" stroke-width="0"/>
<circle cx="201.0" cy="116.0" r="3.3" fill="#601319" stroke="none" stroke-width="0"/>
<circle cx="201.0" cy="118.0" r="3.3" fill="#5b1218" stroke="none" stroke-width="0"/>
<circle cx="201.0" cy="120.0" r="3.3" fill="#541116" stroke="none" stroke-width="0"/>
<circle cx="201.0" cy="122.0" r="3.3" fill="#4d0f14" stroke="none" stroke-width="0"/>
<circle cx="201.0" cy="124.0" r="3.3" fill="#460e12" stroke="none" stroke-width="0"/>
<circle cx="201.0" cy="126.0" r="3.3" fill="#400d10" stroke="none" stroke-width="0"/>
<circle cx="201.0" cy="128.0" r="3.3" fill="#390c0e" stroke="none" stroke-width="0"/>
<circle cx="201.0" cy="130.0" r="3.3" fill="#320b0c" stroke="none" stroke-width="0"/>
<circle cx="201.0" cy="132.0" r="3.3" fill="#2b0a0a" stroke="none" stroke-width="0"/>
<circle cx="201.0" cy="134.0" r="3.3" fill="#230808" stroke="none" stroke-width="0"/>
<circle cx="201.0" cy="9.2" r="3.3" fill="#a99638" stroke="none" stroke-width="0"/>
<circle cx="201.0" cy="24.4" r="3.3" fill="#8cd88c" stroke="none" stroke-width="0"/>
<circle cx="201.0" cy="132.7" r="3.3" fill="#050505" stroke="none" stroke-width="0"/>
<circle cx="201.0" cy="136.5" r="3.3" fill="#5a1010" stroke="none" stroke-width="0"/>
<circle cx="71.8" cy="82.0" r="3.5" fill="#000" stroke="none" stroke-width="0"/>
<line x1="66.3" y1="3.0" x2="66.3" y2="145.1" stroke="#000" stroke-width="1.3" />
<line x1="65.7" y1="144.5" x2="208.0" y2="144.5" stroke="#000" stroke-width="1.3" />
<line x1="72.0" y1="144.5" x2="72.0" y2="147.7" stroke="#000" stroke-width="1" />
<text x="72.0" y="158.0" font-size="10.45" text-anchor="middle" fill="#1a1a1a" stroke="#1a1a1a" stroke-width="0" textLength="6.0" lengthAdjust="spacing" >0</text>
<line x1="104.0" y1="144.5" x2="104.0" y2="147.7" stroke="#000" stroke-width="1" />
<text x="104.0" y="158.0" font-size="10.45" text-anchor="middle" fill="#1a1a1a" stroke="#1a1a1a" stroke-width="0" textLength="15.1" lengthAdjust="spacing" >1.5</text>
<line x1="136.4" y1="144.5" x2="136.4" y2="147.7" stroke="#000" stroke-width="1" />
<text x="136.4" y="158.0" font-size="10.45" text-anchor="middle" fill="#1a1a1a" stroke="#1a1a1a" stroke-width="0" textLength="6.0" lengthAdjust="spacing" >3</text>
<line x1="201.0" y1="144.5" x2="201.0" y2="147.7" stroke="#000" stroke-width="1" />
<text x="201.0" y="158.0" font-size="10.45" text-anchor="middle" fill="#1a1a1a" stroke="#1a1a1a" stroke-width="0" textLength="6.0" lengthAdjust="spacing" >6</text>
<line x1="63.1" y1="82.5" x2="66.3" y2="82.5" stroke="#000" stroke-width="1" />
<text x="60.5" y="85.9" font-size="10.45" text-anchor="end" fill="#1a1a1a" stroke="#1a1a1a" stroke-width="0" textLength="6.0" lengthAdjust="spacing" >1</text>
<text x="86.9" y="174.5" font-size="13.28" text-anchor="start" fill="#1a1a1a" stroke="#1a1a1a" stroke-width="0.0" textLength="101.0" lengthAdjust="spacing" >Reward time (s)</text>
<text x="31.8" y="144.0" font-size="13.28" text-anchor="start" fill="#1a1a1a" stroke="#1a1a1a" stroke-width="0.0" textLength="138.4" lengthAdjust="spacing" transform="rotate(-90 31.8 144.0)" >Normalized firing rate</text>
<text x="46.0" y="91.2" font-size="13.28" text-anchor="start" fill="#1a1a1a" stroke="#1a1a1a" stroke-width="0.0" textLength="39.5" lengthAdjust="spacing" transform="rotate(-90 46.0 91.2)" >at cue</text>
<text x="227.0" y="8.5" font-size="10.97" text-anchor="start" fill="#1a1a1a" stroke="#1a1a1a" stroke-width="0" textLength="15.9" lengthAdjust="spacing" >1.3</text>
<text x="227.0" y="149.5" font-size="10.97" text-anchor="start" fill="#1a1a1a" stroke="#1a1a1a" stroke-width="0" textLength="15.9" lengthAdjust="spacing" >0.4</text>
<text x="239.0" y="78.0" font-size="13.28" text-anchor="middle" fill="#1a1a1a" stroke="#1a1a1a" stroke-width="0.0" textLength="7.5" lengthAdjust="spacing" transform="rotate(-90 239.0 78.0)" ><tspan font-style="italic">γ</tspan></text>
<circle cx="345.8" cy="106.5" r="3.35" fill="#570e1e" stroke="none" stroke-width="0"/>
<circle cx="346.6" cy="103.6" r="3.35" fill="#570e1e" stroke="none" stroke-width="0"/>
<circle cx="348.8" cy="108.0" r="3.35" fill="#580f1e" stroke="none" stroke-width="0"/>
<circle cx="356.8" cy="109.5" r="3.35" fill="#5d101e" stroke="none" stroke-width="0"/>
<circle cx="359.0" cy="101.4" r="3.35" fill="#5e101e" stroke="none" stroke-width="0"/>
<circle cx="360.4" cy="99.2" r="3.35" fill="#5f101e" stroke="none" stroke-width="0"/>
<circle cx="361.9" cy="108.7" r="3.35" fill="#60111e" stroke="none" stroke-width="0"/>
<circle cx="363.4" cy="80.3" r="3.35" fill="#60111e" stroke="none" stroke-width="0"/>
<circle cx="363.4" cy="90.5" r="3.35" fill="#60111e" stroke="none" stroke-width="0"/>
<circle cx="364.1" cy="85.4" r="3.35" fill="#61111e" stroke="none" stroke-width="0"/>
<circle cx="365.5" cy="96.3" r="3.35" fill="#62111e" stroke="none" stroke-width="0"/>
<circle cx="367.7" cy="97.8" r="3.35" fill="#63111e" stroke="none" stroke-width="0"/>
<circle cx="369.2" cy="87.6" r="3.35" fill="#64121e" stroke="none" stroke-width="0"/>
<circle cx="369.2" cy="83.2" r="3.35" fill="#64121e" stroke="none" stroke-width="0"/>
<circle cx="369.9" cy="106.2" r="3.35" fill="#64121e" stroke="none" stroke-width="0"/>
<circle cx="370.7" cy="93.4" r="3.35" fill="#65121e" stroke="none" stroke-width="0"/>
<circle cx="372.8" cy="75.9" r="3.35" fill="#68131e" stroke="none" stroke-width="0"/>
<circle cx="373.6" cy="84.6" r="3.35" fill="#69131e" stroke="none" stroke-width="0"/>
<circle cx="375.8" cy="87.6" r="3.35" fill="#6c131e" stroke="none" stroke-width="0"/>
<circle cx="376.5" cy="96.3" r="3.35" fill="#6d141e" stroke="none" stroke-width="0"/>
<circle cx="377.2" cy="78.8" r="3.35" fill="#6d141e" stroke="none" stroke-width="0"/>
<circle cx="378.7" cy="67.1" r="3.35" fill="#6f141e" stroke="none" stroke-width="0"/>
<circle cx="379.4" cy="71.5" r="3.35" fill="#70141e" stroke="none" stroke-width="0"/>
<circle cx="380.1" cy="89.0" r="3.35" fill="#71151e" stroke="none" stroke-width="0"/>
<circle cx="381.6" cy="78.8" r="3.35" fill="#73151e" stroke="none" stroke-width="0"/>
<circle cx="382.3" cy="83.2" r="3.35" fill="#74151e" stroke="none" stroke-width="0"/>
<circle cx="383.8" cy="94.1" r="3.35" fill="#76161e" stroke="none" stroke-width="0"/>
<circle cx="385.3" cy="84.6" r="3.35" fill="#78161e" stroke="none" stroke-width="0"/>
<circle cx="385.3" cy="68.6" r="3.35" fill="#78161e" stroke="none" stroke-width="0"/>
<circle cx="386.7" cy="74.4" r="3.35" fill="#7a171e" stroke="none" stroke-width="0"/>
<circle cx="388.2" cy="65.7" r="3.35" fill="#7d181e" stroke="none" stroke-width="0"/>
<circle cx="389.6" cy="78.8" r="3.35" fill="#7f191e" stroke="none" stroke-width="0"/>
<circle cx="389.6" cy="86.1" r="3.35" fill="#7f191e" stroke="none" stroke-width="0"/>
<circle cx="390.4" cy="70.0" r="3.35" fill="#80191e" stroke="none" stroke-width="0"/>
<circle cx="391.8" cy="77.3" r="3.35" fill="#831a1e" stroke="none" stroke-width="0"/>
<circle cx="394.0" cy="81.7" r="3.35" fill="#861b1e" stroke="none" stroke-width="0"/>
<circle cx="395.5" cy="74.4" r="3.35" fill="#891c1e" stroke="none" stroke-width="0"/>
<circle cx="395.5" cy="53.2" r="3.35" fill="#891c1e" stroke="none" stroke-width="0"/>
<circle cx="396.2" cy="64.2" r="3.35" fill="#8a1c1e" stroke="none" stroke-width="0"/>
<circle cx="396.9" cy="87.6" r="3.35" fill="#8b1d1e" stroke="none" stroke-width="0"/>
<circle cx="397.7" cy="58.4" r="3.35" fill="#8c1d1e" stroke="none" stroke-width="0"/>
<circle cx="398.4" cy="78.8" r="3.35" fill="#8e1e1e" stroke="none" stroke-width="0"/>
<circle cx="399.9" cy="67.1" r="3.35" fill="#92221d" stroke="none" stroke-width="0"/>
<circle cx="399.9" cy="55.4" r="3.35" fill="#92221d" stroke="none" stroke-width="0"/>
<circle cx="401.3" cy="74.4" r="3.35" fill="#97261c" stroke="none" stroke-width="0"/>
<circle cx="401.3" cy="61.3" r="3.35" fill="#97261c" stroke="none" stroke-width="0"/>
<circle cx="402.8" cy="51.1" r="3.35" fill="#9c2a1b" stroke="none" stroke-width="0"/>
<circle cx="402.8" cy="73.0" r="3.35" fill="#9c2a1b" stroke="none" stroke-width="0"/>
<circle cx="404.2" cy="56.9" r="3.35" fill="#a12e1a" stroke="none" stroke-width="0"/>
<circle cx="405.7" cy="64.2" r="3.35" fill="#a6321a" stroke="none" stroke-width="0"/>
<circle cx="406.4" cy="70.0" r="3.35" fill="#a7361b" stroke="none" stroke-width="0"/>
<circle cx="407.2" cy="49.6" r="3.35" fill="#a83b1d" stroke="none" stroke-width="0"/>
<circle cx="408.6" cy="59.8" r="3.35" fill="#aa4420" stroke="none" stroke-width="0"/>
<circle cx="408.6" cy="54.0" r="3.35" fill="#aa4420" stroke="none" stroke-width="0"/>
<circle cx="409.3" cy="45.9" r="3.35" fill="#ab4922" stroke="none" stroke-width="0"/>
<circle cx="410.1" cy="68.6" r="3.35" fill="#ac4d23" stroke="none" stroke-width="0"/>
<circle cx="411.5" cy="56.9" r="3.35" fill="#ae5626" stroke="none" stroke-width="0"/>
<circle cx="413.0" cy="52.5" r="3.35" fill="#b0602a" stroke="none" stroke-width="0"/>
<circle cx="413.0" cy="62.7" r="3.35" fill="#b0602a" stroke="none" stroke-width="0"/>
<circle cx="415.2" cy="45.2" r="3.35" fill="#b0752d" stroke="none" stroke-width="0"/>
<circle cx="415.9" cy="48.9" r="3.35" fill="#b07c2e" stroke="none" stroke-width="0"/>
<circle cx="418.8" cy="73.0" r="3.35" fill="#b09130" stroke="none" stroke-width="0"/>
<circle cx="419.6" cy="46.7" r="3.35" fill="#b19531" stroke="none" stroke-width="0"/>
<circle cx="420.3" cy="54.0" r="3.35" fill="#b19831" stroke="none" stroke-width="0"/>
<circle cx="421.0" cy="58.4" r="3.35" fill="#b19c31" stroke="none" stroke-width="0"/>
<circle cx="426.1" cy="61.3" r="3.35" fill="#b2a032" stroke="none" stroke-width="0"/>
<circle cx="426.9" cy="45.9" r="3.35" fill="#b2a032" stroke="none" stroke-width="0"/>
<circle cx="314.2" cy="138.3" r="3.4" fill="#050505" stroke="none" stroke-width="0"/>
<circle cx="333.6" cy="89.3" r="3.35" fill="#4a1018" stroke="none" stroke-width="0"/>
<circle cx="437.5" cy="10.0" r="3.4" fill="#8cd88c" stroke="none" stroke-width="0"/>
<line x1="313.2" y1="135.2" x2="441.0" y2="33.7" stroke="#000" stroke-width="1.5" stroke-dasharray="4.5,2.8" />
<rect x="447.4" y="108.1" width="5.7" height="5.3" fill="#d2d2d2"/>
<rect x="452.9" y="96.0" width="5.8" height="17.4" fill="#d2d2d2"/>
<rect x="458.5" y="72.8" width="5.2" height="40.6" fill="#d2d2d2"/>
<rect x="463.5" y="59.6" width="4.6" height="53.8" fill="#d2d2d2"/>
<rect x="467.9" y="68.8" width="5.1" height="44.6" fill="#d2d2d2"/>
<rect x="472.8" y="83.8" width="5.7" height="29.6" fill="#d2d2d2"/>
<rect x="478.3" y="98.8" width="5.7" height="14.6" fill="#d2d2d2"/>
<rect x="483.8" y="108.8" width="5.1" height="4.6" fill="#d2d2d2"/>
<line x1="439.7" y1="57.0" x2="439.7" y2="113.6" stroke="#000" stroke-width="1.1" />
<line x1="439.2" y1="113.4" x2="496.0" y2="113.4" stroke="#000" stroke-width="1.1" />
<line x1="453.0" y1="113.4" x2="453.0" y2="116.0" stroke="#000" stroke-width="0.9" />
<line x1="467.0" y1="113.4" x2="467.0" y2="116.0" stroke="#000" stroke-width="0.9" />
<line x1="483.0" y1="113.4" x2="483.0" y2="116.0" stroke="#000" stroke-width="0.9" />
<text x="453.0" y="125.5" font-size="8.58" text-anchor="middle" fill="#1a1a1a" stroke="#1a1a1a" stroke-width="0" textLength="17.4" lengthAdjust="spacing" >0.99</text>
<text x="467.0" y="125.5" font-size="8.58" text-anchor="middle" fill="#1a1a1a" stroke="#1a1a1a" stroke-width="0" textLength="5.0" lengthAdjust="spacing" >1</text>
<text x="483.0" y="125.5" font-size="8.58" text-anchor="middle" fill="#1a1a1a" stroke="#1a1a1a" stroke-width="0" textLength="17.4" lengthAdjust="spacing" >1.01</text>
<text x="466.4" y="135.8" font-size="10.23" text-anchor="middle" fill="#1a1a1a" stroke="#1a1a1a" stroke-width="0" textLength="51.5" lengthAdjust="spacing" >Regression</text>
<text x="467.5" y="146.3" font-size="10.23" text-anchor="middle" fill="#1a1a1a" stroke="#1a1a1a" stroke-width="0" textLength="24.7" lengthAdjust="spacing" >slope</text>
<text x="438.3" y="85.5" font-size="10.23" text-anchor="middle" fill="#1a1a1a" stroke="#1a1a1a" stroke-width="0" textLength="49.5" lengthAdjust="spacing" transform="rotate(-90 438.3 85.5)" >Probability</text>
<line x1="305.0" y1="4.0" x2="305.0" y2="145.6" stroke="#000" stroke-width="1.3" />
<line x1="304.4" y1="145.0" x2="440.0" y2="145.0" stroke="#000" stroke-width="1.3" />
<line x1="343.0" y1="145.0" x2="343.0" y2="148.2" stroke="#000" stroke-width="1" />
<text x="343.0" y="158.5" font-size="10.45" text-anchor="middle" fill="#1a1a1a" stroke="#1a1a1a" stroke-width="0" textLength="15.1" lengthAdjust="spacing" >0.6</text>
<line x1="422.0" y1="145.0" x2="422.0" y2="148.2" stroke="#000" stroke-width="1" />
<text x="422.0" y="158.5" font-size="10.45" text-anchor="middle" fill="#1a1a1a" stroke="#1a1a1a" stroke-width="0" textLength="15.1" lengthAdjust="spacing" >1.1</text>
<line x1="301.8" y1="46.0" x2="305.0" y2="46.0" stroke="#000" stroke-width="1" />
<text x="299.2" y="49.4" font-size="10.45" text-anchor="end" fill="#1a1a1a" stroke="#1a1a1a" stroke-width="0" textLength="15.1" lengthAdjust="spacing" >1.1</text>
<line x1="301.8" y1="118.0" x2="305.0" y2="118.0" stroke="#000" stroke-width="1" />
<text x="299.2" y="121.4" font-size="10.45" text-anchor="end" fill="#1a1a1a" stroke="#1a1a1a" stroke-width="0" textLength="15.1" lengthAdjust="spacing" >0.6</text>
<text x="377.0" y="170.0" font-size="13.28" text-anchor="middle" fill="#1a1a1a" stroke="#1a1a1a" stroke-width="0.0" textLength="111.5" lengthAdjust="spacing" ><tspan font-style="italic">γ</tspan> one half of data</text>
<text x="281.0" y="74.0" font-size="13.28" text-anchor="middle" fill="#1a1a1a" stroke="#1a1a1a" stroke-width="0.0" textLength="121.7" lengthAdjust="spacing" transform="rotate(-90 281.0 74.0)" ><tspan font-style="italic">γ</tspan> other half of data</text>
<text x="338.6" y="32.0" font-size="11.97" text-anchor="start" fill="#1a1a1a" stroke="#1a1a1a" stroke-width="0.0" textLength="39.6" lengthAdjust="spacing" >r=0.91</text>
<text x="338.6" y="43.5" font-size="11.97" text-anchor="start" fill="#1a1a1a" stroke="#1a1a1a" stroke-width="0.0" textLength="42.2" lengthAdjust="spacing" >p&lt;0.01</text>
<line x1="541.7" y1="93.4" x2="541.7" y2="112.0" stroke="#8c3c50" stroke-width="1.1" stroke-opacity="0.8"/>
<line x1="542.8" y1="81.4" x2="542.8" y2="119.7" stroke="#8c3c50" stroke-width="1.1" stroke-opacity="0.8"/>
<line x1="543.8" y1="93.6" x2="543.8" y2="110.3" stroke="#8d3d50" stroke-width="1.1" stroke-opacity="0.8"/>
<line x1="544.9" y1="89.3" x2="544.9" y2="115.9" stroke="#8e3d50" stroke-width="1.1" stroke-opacity="0.8"/>
<line x1="545.9" y1="92.6" x2="545.9" y2="107.8" stroke="#8e3e51" stroke-width="1.1" stroke-opacity="0.8"/>
<line x1="547.0" y1="85.7" x2="547.0" y2="110.0" stroke="#8f3e51" stroke-width="1.1" stroke-opacity="0.8"/>
<line x1="548.1" y1="84.5" x2="548.1" y2="106.4" stroke="#903f51" stroke-width="1.1" stroke-opacity="0.8"/>
<line x1="549.1" y1="86.8" x2="549.1" y2="106.0" stroke="#913f52" stroke-width="1.1" stroke-opacity="0.8"/>
<line x1="550.2" y1="87.5" x2="550.2" y2="101.3" stroke="#914052" stroke-width="1.1" stroke-opacity="0.8"/>
<line x1="551.3" y1="90.0" x2="551.3" y2="98.6" stroke="#924052" stroke-width="1.1" stroke-opacity="0.8"/>
<line x1="552.3" y1="85.9" x2="552.3" y2="97.4" stroke="#934153" stroke-width="1.1" stroke-opacity="0.8"/>
<line x1="553.4" y1="81.7" x2="553.4" y2="95.5" stroke="#944153" stroke-width="1.1" stroke-opacity="0.8"/>
<line x1="554.4" y1="79.8" x2="554.4" y2="97.1" stroke="#944253" stroke-width="1.1" stroke-opacity="0.8"/>
<line x1="555.5" y1="79.5" x2="555.5" y2="103.1" stroke="#954254" stroke-width="1.1" stroke-opacity="0.8"/>
<line x1="556.6" y1="80.5" x2="556.6" y2="92.5" stroke="#964354" stroke-width="1.1" stroke-opacity="0.8"/>
<line x1="557.6" y1="82.4" x2="557.6" y2="94.3" stroke="#974354" stroke-width="1.1" stroke-opacity="0.8"/>
<line x1="558.7" y1="75.5" x2="558.7" y2="92.6" stroke="#974455" stroke-width="1.1" stroke-opacity="0.8"/>
<line x1="559.7" y1="80.4" x2="559.7" y2="93.9" stroke="#984455" stroke-width="1.1" stroke-opacity="0.8"/>
<line x1="560.8" y1="79.8" x2="560.8" y2="90.6" stroke="#994555" stroke-width="1.1" stroke-opacity="0.8"/>
<line x1="561.9" y1="80.8" x2="561.9" y2="88.6" stroke="#994555" stroke-width="1.1" stroke-opacity="0.8"/>
<line x1="562.9" y1="76.6" x2="562.9" y2="94.3" stroke="#9a4656" stroke-width="1.1" stroke-opacity="0.8"/>
<line x1="564.0" y1="77.8" x2="564.0" y2="94.8" stroke="#9b4756" stroke-width="1.1" stroke-opacity="0.8"/>
<line x1="565.0" y1="79.8" x2="565.0" y2="88.7" stroke="#9c4756" stroke-width="1.1" stroke-opacity="0.8"/>
<line x1="566.1" y1="76.0" x2="566.1" y2="91.5" stroke="#9c4857" stroke-width="1.1" stroke-opacity="0.8"/>
<line x1="567.2" y1="77.2" x2="567.2" y2="89.2" stroke="#9d4857" stroke-width="1.1" stroke-opacity="0.8"/>
<line x1="568.2" y1="73.1" x2="568.2" y2="91.8" stroke="#9e4957" stroke-width="1.1" stroke-opacity="0.8"/>
<line x1="569.3" y1="76.0" x2="569.3" y2="87.6" stroke="#9f4958" stroke-width="1.1" stroke-opacity="0.8"/>
<line x1="570.4" y1="71.4" x2="570.4" y2="89.2" stroke="#9f4a58" stroke-width="1.1" stroke-opacity="0.8"/>
<line x1="571.4" y1="74.1" x2="571.4" y2="84.8" stroke="#a04a58" stroke-width="1.1" stroke-opacity="0.8"/>
<line x1="572.5" y1="70.5" x2="572.5" y2="89.7" stroke="#a14b59" stroke-width="1.1" stroke-opacity="0.8"/>
<line x1="573.5" y1="73.1" x2="573.5" y2="86.8" stroke="#a24b59" stroke-width="1.1" stroke-opacity="0.8"/>
<line x1="574.6" y1="70.1" x2="574.6" y2="87.2" stroke="#a24c59" stroke-width="1.1" stroke-opacity="0.8"/>
<line x1="575.7" y1="73.3" x2="575.7" y2="82.8" stroke="#a34c5a" stroke-width="1.1" stroke-opacity="0.8"/>
<line x1="576.7" y1="70.2" x2="576.7" y2="87.3" stroke="#a44d5a" stroke-width="1.1" stroke-opacity="0.8"/>
<line x1="577.8" y1="67.4" x2="577.8" y2="87.6" stroke="#a54d5a" stroke-width="1.1" stroke-opacity="0.8"/>
<line x1="578.8" y1="68.9" x2="578.8" y2="85.0" stroke="#a54e5b" stroke-width="1.1" stroke-opacity="0.8"/>
<line x1="579.9" y1="71.2" x2="579.9" y2="82.5" stroke="#a64e5b" stroke-width="1.1" stroke-opacity="0.8"/>
<line x1="581.0" y1="66.4" x2="581.0" y2="84.5" stroke="#a74f5b" stroke-width="1.1" stroke-opacity="0.8"/>
<line x1="582.0" y1="66.3" x2="582.0" y2="84.0" stroke="#a74f5b" stroke-width="1.1" stroke-opacity="0.8"/>
<line x1="583.1" y1="62.8" x2="583.1" y2="89.2" stroke="#a8505c" stroke-width="1.1" stroke-opacity="0.8"/>
<line x1="584.2" y1="70.7" x2="584.2" y2="80.1" stroke="#a9515c" stroke-width="1.1" stroke-opacity="0.8"/>
<line x1="585.2" y1="65.2" x2="585.2" y2="82.2" stroke="#aa515c" stroke-width="1.1" stroke-opacity="0.8"/>
<line x1="586.3" y1="62.2" x2="586.3" y2="87.0" stroke="#aa525d" stroke-width="1.1" stroke-opacity="0.8"/>
<line x1="587.3" y1="68.2" x2="587.3" y2="80.2" stroke="#ab525d" stroke-width="1.1" stroke-opacity="0.8"/>
<line x1="588.4" y1="65.6" x2="588.4" y2="78.1" stroke="#ac535d" stroke-width="1.1" stroke-opacity="0.8"/>
<line x1="589.5" y1="67.5" x2="589.5" y2="76.5" stroke="#ad535e" stroke-width="1.1" stroke-opacity="0.8"/>
<line x1="590.5" y1="65.0" x2="590.5" y2="80.9" stroke="#ad545e" stroke-width="1.1" stroke-opacity="0.8"/>
<line x1="591.6" y1="63.4" x2="591.6" y2="79.6" stroke="#ae545e" stroke-width="1.1" stroke-opacity="0.8"/>
<line x1="592.6" y1="62.8" x2="592.6" y2="82.8" stroke="#af555f" stroke-width="1.1" stroke-opacity="0.8"/>
<line x1="593.7" y1="65.9" x2="593.7" y2="74.2" stroke="#af565f" stroke-width="1.1" stroke-opacity="0.8"/>
<line x1="594.8" y1="63.1" x2="594.8" y2="76.6" stroke="#b0575f" stroke-width="1.1" stroke-opacity="0.8"/>
<line x1="595.8" y1="62.2" x2="595.8" y2="77.6" stroke="#b0585f" stroke-width="1.1" stroke-opacity="0.8"/>
<line x1="596.9" y1="62.2" x2="596.9" y2="76.7" stroke="#b1595f" stroke-width="1.1" stroke-opacity="0.8"/>
<line x1="598.0" y1="64.0" x2="598.0" y2="75.2" stroke="#b25a5f" stroke-width="1.1" stroke-opacity="0.8"/>
<line x1="599.0" y1="64.5" x2="599.0" y2="74.9" stroke="#b25b5f" stroke-width="1.1" stroke-opacity="0.8"/>
<line x1="600.1" y1="54.9" x2="600.1" y2="89.2" stroke="#b35c5f" stroke-width="1.1" stroke-opacity="0.8"/>
<line x1="601.1" y1="61.7" x2="601.1" y2="79.3" stroke="#b35d5f" stroke-width="1.1" stroke-opacity="0.8"/>
<line x1="602.2" y1="61.3" x2="602.2" y2="74.2" stroke="#b45e5f" stroke-width="1.1" stroke-opacity="0.8"/>
<line x1="603.3" y1="60.4" x2="603.3" y2="75.9" stroke="#b45f5f" stroke-width="1.1" stroke-opacity="0.8"/>
<line x1="604.3" y1="61.2" x2="604.3" y2="72.8" stroke="#b5605f" stroke-width="1.1" stroke-opacity="0.8"/>
<line x1="605.4" y1="60.0" x2="605.4" y2="74.8" stroke="#b5615f" stroke-width="1.1" stroke-opacity="0.8"/>
<line x1="606.4" y1="60.4" x2="606.4" y2="77.3" stroke="#b6625f" stroke-width="1.1" stroke-opacity="0.8"/>
<line x1="607.5" y1="59.0" x2="607.5" y2="72.8" stroke="#b7635f" stroke-width="1.1" stroke-opacity="0.8"/>
<line x1="608.6" y1="54.8" x2="608.6" y2="73.1" stroke="#b7645f" stroke-width="1.1" stroke-opacity="0.8"/>
<line x1="609.6" y1="58.3" x2="609.6" y2="72.3" stroke="#b8655f" stroke-width="1.1" stroke-opacity="0.8"/>
<line x1="610.7" y1="56.8" x2="610.7" y2="70.3" stroke="#b8665f" stroke-width="1.1" stroke-opacity="0.8"/>
<line x1="611.7" y1="58.9" x2="611.7" y2="70.2" stroke="#b9675f" stroke-width="1.1" stroke-opacity="0.8"/>
<line x1="612.8" y1="58.6" x2="612.8" y2="73.6" stroke="#b9685f" stroke-width="1.1" stroke-opacity="0.8"/>
<line x1="613.9" y1="54.7" x2="613.9" y2="75.4" stroke="#ba695f" stroke-width="1.1" stroke-opacity="0.8"/>
<line x1="614.9" y1="52.4" x2="614.9" y2="71.7" stroke="#ba695f" stroke-width="1.1" stroke-opacity="0.8"/>
<line x1="616.0" y1="57.9" x2="616.0" y2="70.3" stroke="#bb6a5f" stroke-width="1.1" stroke-opacity="0.8"/>
<line x1="617.1" y1="54.8" x2="617.1" y2="70.4" stroke="#bc6b5f" stroke-width="1.1" stroke-opacity="0.8"/>
<line x1="618.1" y1="52.0" x2="618.1" y2="71.6" stroke="#bc6c5f" stroke-width="1.1" stroke-opacity="0.8"/>
<line x1="619.2" y1="56.7" x2="619.2" y2="66.3" stroke="#bd6d5f" stroke-width="1.1" stroke-opacity="0.8"/>
<line x1="620.2" y1="55.8" x2="620.2" y2="71.0" stroke="#bd6e5f" stroke-width="1.1" stroke-opacity="0.8"/>
<line x1="621.3" y1="50.6" x2="621.3" y2="78.4" stroke="#be6f5f" stroke-width="1.1" stroke-opacity="0.8"/>
<line x1="622.4" y1="54.2" x2="622.4" y2="67.7" stroke="#be705f" stroke-width="1.1" stroke-opacity="0.8"/>
<line x1="623.4" y1="54.2" x2="623.4" y2="67.0" stroke="#bf715f" stroke-width="1.1" stroke-opacity="0.8"/>
<line x1="624.5" y1="56.8" x2="624.5" y2="67.7" stroke="#c0725f" stroke-width="1.1" stroke-opacity="0.8"/>
<line x1="625.5" y1="49.2" x2="625.5" y2="73.0" stroke="#c0735f" stroke-width="1.1" stroke-opacity="0.8"/>
<line x1="626.6" y1="53.3" x2="626.6" y2="67.2" stroke="#c1745f" stroke-width="1.1" stroke-opacity="0.8"/>
<line x1="627.7" y1="48.2" x2="627.7" y2="73.6" stroke="#c1755f" stroke-width="1.1" stroke-opacity="0.8"/>
<line x1="628.7" y1="53.2" x2="628.7" y2="72.2" stroke="#c2765f" stroke-width="1.1" stroke-opacity="0.8"/>
<line x1="629.8" y1="51.3" x2="629.8" y2="66.8" stroke="#c2775f" stroke-width="1.1" stroke-opacity="0.8"/>
<line x1="630.9" y1="54.4" x2="630.9" y2="64.7" stroke="#c3795e" stroke-width="1.1" stroke-opacity="0.8"/>
<line x1="631.9" y1="52.9" x2="631.9" y2="64.1" stroke="#c37b5e" stroke-width="1.1" stroke-opacity="0.8"/>
<line x1="633.0" y1="49.7" x2="633.0" y2="69.0" stroke="#c37d5e" stroke-width="1.1" stroke-opacity="0.8"/>
<line x1="634.0" y1="50.3" x2="634.0" y2="65.7" stroke="#c37f5e" stroke-width="1.1" stroke-opacity="0.8"/>
<line x1="635.1" y1="52.4" x2="635.1" y2="67.0" stroke="#c4815d" stroke-width="1.1" stroke-opacity="0.8"/>
<line x1="636.2" y1="49.3" x2="636.2" y2="64.6" stroke="#c4835d" stroke-width="1.1" stroke-opacity="0.8"/>
<line x1="637.2" y1="52.9" x2="637.2" y2="64.4" stroke="#c4865d" stroke-width="1.1" stroke-opacity="0.8"/>
<line x1="638.3" y1="53.4" x2="638.3" y2="62.0" stroke="#c4885d" stroke-width="1.1" stroke-opacity="0.8"/>
<line x1="639.3" y1="49.9" x2="639.3" y2="62.4" stroke="#c58a5c" stroke-width="1.1" stroke-opacity="0.8"/>
<line x1="640.4" y1="47.9" x2="640.4" y2="68.8" stroke="#c58c5c" stroke-width="1.1" stroke-opacity="0.8"/>
<line x1="641.5" y1="51.0" x2="641.5" y2="62.5" stroke="#c58e5c" stroke-width="1.1" stroke-opacity="0.8"/>
<line x1="642.5" y1="52.0" x2="642.5" y2="60.2" stroke="#c5905c" stroke-width="1.1" stroke-opacity="0.8"/>
<line x1="643.6" y1="50.4" x2="643.6" y2="62.4" stroke="#c5925c" stroke-width="1.1" stroke-opacity="0.8"/>
<line x1="644.7" y1="51.2" x2="644.7" y2="60.6" stroke="#c6945b" stroke-width="1.1" stroke-opacity="0.8"/>
<line x1="645.7" y1="48.0" x2="645.7" y2="65.7" stroke="#c6965b" stroke-width="1.1" stroke-opacity="0.8"/>
<line x1="646.8" y1="42.2" x2="646.8" y2="64.7" stroke="#c6985b" stroke-width="1.1" stroke-opacity="0.8"/>
<line x1="647.8" y1="48.3" x2="647.8" y2="60.0" stroke="#c69b5b" stroke-width="1.1" stroke-opacity="0.8"/>
<line x1="648.9" y1="48.2" x2="648.9" y2="57.9" stroke="#c79d5a" stroke-width="1.1" stroke-opacity="0.8"/>
<line x1="650.0" y1="45.5" x2="650.0" y2="64.3" stroke="#c79f5a" stroke-width="1.1" stroke-opacity="0.8"/>
<line x1="651.0" y1="49.3" x2="651.0" y2="62.4" stroke="#c7a15a" stroke-width="1.1" stroke-opacity="0.8"/>
<line x1="652.1" y1="48.0" x2="652.1" y2="57.4" stroke="#c7a35a" stroke-width="1.1" stroke-opacity="0.8"/>
<line x1="653.1" y1="45.4" x2="653.1" y2="59.6" stroke="#c7a55a" stroke-width="1.1" stroke-opacity="0.8"/>
<line x1="654.2" y1="43.9" x2="654.2" y2="61.5" stroke="#c7a65a" stroke-width="1.1" stroke-opacity="0.8"/>
<line x1="655.3" y1="44.0" x2="655.3" y2="61.8" stroke="#c7a75a" stroke-width="1.1" stroke-opacity="0.8"/>
<line x1="656.3" y1="47.1" x2="656.3" y2="56.5" stroke="#c6a85b" stroke-width="1.1" stroke-opacity="0.8"/>
<line x1="657.4" y1="33.2" x2="657.4" y2="64.9" stroke="#c6a95b" stroke-width="1.1" stroke-opacity="0.8"/>
<line x1="658.4" y1="43.6" x2="658.4" y2="61.2" stroke="#c6aa5b" stroke-width="1.1" stroke-opacity="0.8"/>
<line x1="659.5" y1="42.5" x2="659.5" y2="55.9" stroke="#c5ab5c" stroke-width="1.1" stroke-opacity="0.8"/>
<line x1="660.6" y1="46.4" x2="660.6" y2="55.6" stroke="#c5ac5c" stroke-width="1.1" stroke-opacity="0.8"/>
<line x1="661.6" y1="42.3" x2="661.6" y2="56.6" stroke="#c5ad5c" stroke-width="1.1" stroke-opacity="0.8"/>
<line x1="662.7" y1="39.6" x2="662.7" y2="58.7" stroke="#c4ae5d" stroke-width="1.1" stroke-opacity="0.8"/>
<line x1="663.8" y1="41.3" x2="663.8" y2="60.3" stroke="#c4af5d" stroke-width="1.1" stroke-opacity="0.8"/>
<line x1="664.8" y1="43.7" x2="664.8" y2="54.1" stroke="#c4b05d" stroke-width="1.1" stroke-opacity="0.8"/>
<line x1="665.9" y1="38.9" x2="665.9" y2="56.2" stroke="#c3b15e" stroke-width="1.1" stroke-opacity="0.8"/>
<line x1="666.9" y1="38.9" x2="666.9" y2="58.6" stroke="#c3b25e" stroke-width="1.1" stroke-opacity="0.8"/>
<line x1="668.0" y1="37.5" x2="668.0" y2="54.7" stroke="#c3b45f" stroke-width="1.1" stroke-opacity="0.8"/>
<line x1="548.5" y1="74.0" x2="548.5" y2="136.0" stroke="#9a5060" stroke-width="1" />
<line x1="633.0" y1="61.0" x2="633.0" y2="83.0" stroke="#b07060" stroke-width="1" />
<line x1="540.1" y1="123.0" x2="540.1" y2="139.3" stroke="#909090" stroke-width="1.1" />
<circle cx="540.1" cy="130.6" r="1.3" fill="#606060" stroke="none" stroke-width="0"/>
<line x1="668.7" y1="10.0" x2="668.7" y2="37.5" stroke="#90d090" stroke-width="1.1" />
<line x1="534.0" y1="59.4" x2="676.0" y2="59.4" stroke="#7a7a7a" stroke-width="1.3" stroke-dasharray="5,3" stroke-opacity="0.9"/>
<line x1="534.0" y1="70.4" x2="676.0" y2="70.4" stroke="#5a70b0" stroke-width="1.3" stroke-dasharray="5,3" stroke-opacity="0.9"/>
<path d="M541.7,103.2 C543.0,101.9 546.9,98.0 549.3,95.5 C551.7,93.0 553.0,90.1 555.9,87.9 C558.8,85.7 563.1,84.2 566.8,82.4 C570.4,80.7 574.1,79.0 577.8,77.4 C581.4,75.8 585.1,74.1 588.7,72.6 C592.4,71.1 596.1,69.8 599.7,68.6 C603.4,67.4 607.0,66.4 610.6,65.3 C614.2,64.2 618.0,63.0 621.6,62.0 C625.2,61.0 628.9,60.0 632.5,59.0 C636.1,58.0 639.9,57.1 643.5,56.1 C647.1,55.1 650.8,54.1 654.4,52.8 C658.0,51.5 663.1,49.6 665.4,48.5 C667.7,47.4 667.6,46.7 668.0,46.3" stroke="#7a1a24" stroke-width="1.2" fill="none" />
<line x1="534.0" y1="4.0" x2="534.0" y2="145.6" stroke="#000" stroke-width="1.3" />
<line x1="533.4" y1="145.0" x2="676.0" y2="145.0" stroke="#000" stroke-width="1.3" />
<line x1="540.0" y1="145.0" x2="540.0" y2="148.2" stroke="#000" stroke-width="1" />
<text x="540.0" y="158.5" font-size="10.45" text-anchor="middle" fill="#1a1a1a" stroke="#1a1a1a" stroke-width="0" textLength="6.0" lengthAdjust="spacing" >1</text>
<line x1="669.0" y1="145.0" x2="669.0" y2="148.2" stroke="#000" stroke-width="1" />
<text x="669.0" y="158.5" font-size="10.45" text-anchor="middle" fill="#1a1a1a" stroke="#1a1a1a" stroke-width="0" textLength="18.1" lengthAdjust="spacing" >122</text>
<line x1="530.8" y1="59.0" x2="534.0" y2="59.0" stroke="#000" stroke-width="1" />
<text x="528.2" y="62.4" font-size="10.45" text-anchor="end" fill="#1a1a1a" stroke="#1a1a1a" stroke-width="0" textLength="6.0" lengthAdjust="spacing" >1</text>
<line x1="530.8" y1="111.0" x2="534.0" y2="111.0" stroke="#000" stroke-width="1" />
<text x="528.2" y="114.4" font-size="10.45" text-anchor="end" fill="#1a1a1a" stroke="#1a1a1a" stroke-width="0" textLength="15.1" lengthAdjust="spacing" >0.6</text>
<text x="604.0" y="171.0" font-size="13.28" text-anchor="middle" fill="#1a1a1a" stroke="#1a1a1a" stroke-width="0.0" textLength="52.8" lengthAdjust="spacing" >Neurons</text>
<text x="512.0" y="74.0" font-size="13.28" text-anchor="middle" fill="#1a1a1a" stroke="#1a1a1a" stroke-width="0.0" textLength="7.5" lengthAdjust="spacing" transform="rotate(-90 512.0 74.0)" ><tspan font-style="italic">γ</tspan></text>
<text x="588.0" y="97.0" font-size="11.45" text-anchor="start" fill="#4a6ab0" stroke="#4a6ab0" stroke-width="0.0" textLength="92.4" lengthAdjust="spacing" >mean population</text>
<path d="M63.0,287.6 C64.5,287.8 67.5,290.2 72.0,289.0 C76.5,287.7 82.8,283.3 90.0,280.3 C97.2,277.4 104.7,275.5 115.0,271.2 C125.3,266.8 145.8,257.0 152.0,254.2" stroke="#c05058" stroke-width="0.5" fill="none" stroke-opacity="0.6"/>
<path d="M63.0,291.7 C64.5,291.1 67.5,289.5 72.0,288.1 C76.5,286.7 82.8,287.8 90.0,283.3 C97.2,278.9 104.7,268.2 115.0,261.5 C125.3,254.9 145.8,246.6 152.0,243.6" stroke="#8a3040" stroke-width="0.5" fill="none" stroke-opacity="0.6"/>
<path d="M63.0,287.7 C64.5,287.9 67.5,289.8 72.0,289.2 C76.5,288.6 82.8,286.0 90.0,284.1 C97.2,282.2 104.7,280.5 115.0,277.9 C125.3,275.3 145.8,270.0 152.0,268.4" stroke="#8a3040" stroke-width="0.5" fill="none" stroke-opacity="0.6"/>
<path d="M63.0,285.5 C64.5,285.6 67.5,286.7 72.0,286.1 C76.5,285.5 82.8,282.6 90.0,281.7 C97.2,280.8 104.7,279.8 115.0,280.6 C125.3,281.4 145.8,285.5 152.0,286.5" stroke="#b04048" stroke-width="0.5" fill="none" stroke-opacity="0.6"/>
<path d="M63.0,290.9 C64.5,291.2 67.5,293.5 72.0,292.6 C76.5,291.7 82.8,290.0 90.0,285.3 C97.2,280.7 104.7,271.2 115.0,264.5 C125.3,257.8 145.8,248.3 152.0,245.0" stroke="#d07070" stroke-width="0.5" fill="none" stroke-opacity="0.6"/>
<path d="M63.0,290.0 C64.5,290.6 67.5,294.4 72.0,293.4 C76.5,292.3 82.8,285.1 90.0,283.8 C97.2,282.5 104.7,285.3 115.0,285.4 C125.3,285.5 145.8,284.5 152.0,284.3" stroke="#c05058" stroke-width="0.5" fill="none" stroke-opacity="0.6"/>
<path d="M63.0,281.9 C64.5,283.1 67.5,288.5 72.0,288.9 C76.5,289.4 82.8,285.0 90.0,284.7 C97.2,284.4 104.7,286.7 115.0,287.3 C125.3,287.9 145.8,288.1 152.0,288.3" stroke="#b04048" stroke-width="0.5" fill="none" stroke-opacity="0.6"/>
<path d="M63.0,286.1 C64.5,286.9 67.5,291.3 72.0,291.0 C76.5,290.7 82.8,285.3 90.0,284.2 C97.2,283.2 104.7,284.0 115.0,284.7 C125.3,285.4 145.8,287.8 152.0,288.4" stroke="#d07070" stroke-width="0.5" fill="none" stroke-opacity="0.6"/>
<path d="M63.0,287.5 C64.5,287.8 67.5,290.8 72.0,289.3 C76.5,287.7 82.8,280.4 90.0,278.1 C97.2,275.8 104.7,276.9 115.0,275.5 C125.3,274.2 145.8,270.9 152.0,270.0" stroke="#8a3040" stroke-width="0.5" fill="none" stroke-opacity="0.6"/>
<path d="M63.0,292.0 C64.5,292.3 67.5,295.2 72.0,293.9 C76.5,292.7 82.8,285.6 90.0,284.6 C97.2,283.7 104.7,288.0 115.0,288.3 C125.3,288.7 145.8,286.9 152.0,286.7" stroke="#8a3040" stroke-width="0.5" fill="none" stroke-opacity="0.6"/>
<path d="M63.0,288.0 C64.5,287.8 67.5,288.5 72.0,286.8 C76.5,285.2 82.8,280.7 90.0,278.1 C97.2,275.6 104.7,273.3 115.0,271.7 C125.3,270.1 145.8,269.0 152.0,268.5" stroke="#8a3040" stroke-width="0.5" fill="none" stroke-opacity="0.6"/>
<path d="M63.0,281.7 C64.5,283.1 67.5,289.1 72.0,289.9 C76.5,290.6 82.8,289.7 90.0,286.1 C97.2,282.4 104.7,273.0 115.0,267.9 C125.3,262.8 145.8,257.6 152.0,255.6" stroke="#c05058" stroke-width="0.5" fill="none" stroke-opacity="0.6"/>
<path d="M63.0,277.1 C65.3,275.3 71.3,269.3 76.7,266.8 C82.1,264.3 89.1,260.1 95.3,262.0 C101.5,263.8 107.7,273.0 113.9,277.9 C120.1,282.8 129.4,289.1 132.5,291.3" stroke="#e07060" stroke-width="0.5" fill="none" stroke-opacity="0.6"/>
<path d="M63.0,291.1 C65.7,289.6 73.4,286.2 79.4,282.2 C85.4,278.2 92.7,267.9 99.3,267.2 C105.9,266.5 112.5,274.1 119.2,278.1 C125.8,282.1 135.7,289.2 139.0,291.4" stroke="#d85a50" stroke-width="0.5" fill="none" stroke-opacity="0.6"/>
<path d="M63.0,274.7 C65.2,273.6 71.3,269.5 76.2,267.9 C81.2,266.3 87.2,264.0 92.7,265.2 C98.2,266.4 103.7,270.4 109.1,274.9 C114.6,279.4 122.8,289.3 125.6,292.2" stroke="#e89a8a" stroke-width="0.5" fill="none" stroke-opacity="0.6"/>
<path d="M63.0,291.5 C68.6,289.3 88.5,283.3 96.8,278.1 C105.2,272.9 107.7,260.8 113.1,260.3 C118.5,259.9 123.9,270.0 129.4,275.3 C134.8,280.6 142.9,289.3 145.6,292.2" stroke="#c84848" stroke-width="0.5" fill="none" stroke-opacity="0.6"/>
<path d="M63.0,293.3 C65.1,291.0 70.2,284.0 75.4,279.6 C80.6,275.1 88.0,266.3 94.3,266.6 C100.5,266.8 106.8,276.9 113.1,281.1 C119.4,285.2 128.8,289.8 132.0,291.5" stroke="#e89a8a" stroke-width="0.5" fill="none" stroke-opacity="0.6"/>
<path d="M63.0,282.5 C68.5,280.9 87.8,276.8 96.2,273.0 C104.6,269.3 107.7,259.0 113.5,260.1 C119.3,261.3 125.0,274.7 130.8,280.0 C136.6,285.2 145.2,289.7 148.1,291.6" stroke="#e07060" stroke-width="0.5" fill="none" stroke-opacity="0.6"/>
<path d="M63.0,273.2 C67.0,272.2 80.2,269.1 87.2,267.1 C94.2,265.1 99.0,259.6 105.0,261.4 C110.9,263.2 116.8,273.1 122.8,278.1 C128.7,283.2 137.6,289.4 140.6,291.7" stroke="#e89a8a" stroke-width="0.5" fill="none" stroke-opacity="0.6"/>
<path d="M63.0,270.5 C68.1,270.7 86.3,272.1 93.9,271.6 C101.4,271.0 103.4,266.0 108.2,267.0 C113.0,268.0 117.8,273.4 122.6,277.5 C127.4,281.6 134.6,289.4 137.0,291.8" stroke="#e07060" stroke-width="0.5" fill="none" stroke-opacity="0.6"/>
<path d="M63.0,278.7 C66.4,277.9 77.2,276.2 83.2,274.0 C89.2,271.7 93.7,264.6 99.0,265.1 C104.3,265.5 109.6,272.1 114.9,276.7 C120.2,281.2 128.1,289.5 130.8,292.1" stroke="#e89a8a" stroke-width="0.5" fill="none" stroke-opacity="0.6"/>
<path d="M63.0,293.3 C67.8,290.1 84.0,280.0 91.8,273.9 C99.6,267.8 103.9,257.1 109.9,256.8 C115.9,256.5 122.0,266.3 128.0,272.2 C134.0,278.1 143.1,288.8 146.1,292.1" stroke="#d85a50" stroke-width="0.5" fill="none" stroke-opacity="0.6"/>
<path d="M63.0,280.4 C65.5,278.8 72.4,273.9 77.9,270.4 C83.5,266.8 90.1,257.6 96.1,259.1 C102.2,260.5 108.2,273.6 114.3,279.1 C120.4,284.6 129.5,289.8 132.5,292.0" stroke="#e07060" stroke-width="0.5" fill="none" stroke-opacity="0.6"/>
<path d="M63.0,293.1 C68.4,290.6 87.5,284.0 95.3,278.2 C103.1,272.5 105.0,259.4 109.8,258.8 C114.6,258.3 119.5,269.6 124.3,275.0 C129.1,280.5 136.4,288.8 138.8,291.5" stroke="#d85a50" stroke-width="0.5" fill="none" stroke-opacity="0.6"/>
<line x1="63.0" y1="201.0" x2="63.0" y2="296.0" stroke="#f2b0a0" stroke-width="1.4" stroke-dasharray="4.5,3" />
<line x1="80.8" y1="201.0" x2="80.8" y2="296.0" stroke="#e06058" stroke-width="1.4" stroke-dasharray="4.5,3" />
<line x1="98.7" y1="201.0" x2="98.7" y2="296.0" stroke="#c03a3a" stroke-width="1.4" stroke-dasharray="4.5,3" />
<line x1="134.0" y1="201.0" x2="134.0" y2="296.0" stroke="#7a2a30" stroke-width="1.4" stroke-dasharray="4.5,3" />
<path d="M63.0,208.3 L64.4,212.4 L65.8,216.3 L67.1,220.2 L68.5,224.0 L69.9,227.7 L71.3,231.3 L72.7,234.8 L74.0,238.2 L75.4,241.6 L76.8,244.8 L78.2,247.9 L79.6,251.0 L80.9,253.9 L82.3,256.8 L83.7,259.5 L85.1,262.2 L86.5,264.7 L87.8,267.2 L89.2,269.5 L90.6,271.8 L92.0,273.9 L93.4,275.9 L94.8,277.9 L96.1,279.7 L97.5,281.4 L98.9,283.0 L100.3,284.5 L101.7,285.8 L103.0,287.1 L104.4,288.2 L105.8,289.2 L107.2,290.1 L108.6,290.9 L109.9,291.5 L111.3,291.9 L112.7,292.2 L114.1,292.3 L115.5,292.3 L116.8,292.3 L118.2,292.3 L119.6,292.3 L121.0,292.3 L122.4,292.3 L123.7,292.3 L125.1,292.3 L126.5,292.3 L127.9,292.3 L129.3,292.3 L130.6,292.3 L132.0,292.3 L133.4,292.3 L134.8,292.3 L136.2,292.3 L137.6,292.3 L138.9,292.3 L140.3,292.3 L141.7,292.3 L143.1,292.3 L144.5,292.3 L145.8,292.3" stroke="#eea08a" stroke-width="2.2" fill="none" />
<path d="M62.7,283 C74,271 86,261 98,261 C111,261 124,278 134,292.3 L152,292.3" stroke="#d85048" stroke-width="2.0" fill="none" />
<path d="M63,292.3 L68,292.3 C80,285 94,259.4 108.6,259.4 C124,259.4 138,282 147,292.3 L152,292.3" stroke="#b83030" stroke-width="2.0" fill="none" />
<path d="M63.4,285.4 C68,291 72,293 77,292.3 C85,291 92,283 100,277.5 C110,271 125,264 152.3,255" stroke="#4a1a22" stroke-width="1.8" fill="none" />
<line x1="60.0" y1="200.0" x2="60.0" y2="296.9" stroke="#000" stroke-width="1.3" />
<line x1="59.4" y1="296.3" x2="156.0" y2="296.3" stroke="#000" stroke-width="1.3" />
<line x1="63.0" y1="297.5" x2="63.0" y2="300.7" stroke="#000" stroke-width="1" />
<text x="63.0" y="311.0" font-size="10.45" text-anchor="middle" fill="#1a1a1a" stroke="#1a1a1a" stroke-width="0" textLength="6.0" lengthAdjust="spacing" >0</text>
<line x1="80.6" y1="297.5" x2="80.6" y2="300.7" stroke="#000" stroke-width="1" />
<text x="80.6" y="311.0" font-size="10.45" text-anchor="middle" fill="#1a1a1a" stroke="#1a1a1a" stroke-width="0" textLength="15.1" lengthAdjust="spacing" >1.5</text>
<line x1="98.4" y1="297.5" x2="98.4" y2="300.7" stroke="#000" stroke-width="1" />
<text x="98.4" y="311.0" font-size="10.45" text-anchor="middle" fill="#1a1a1a" stroke="#1a1a1a" stroke-width="0" textLength="6.0" lengthAdjust="spacing" >3</text>
<line x1="134.0" y1="297.5" x2="134.0" y2="300.7" stroke="#000" stroke-width="1" />
<text x="134.0" y="311.0" font-size="10.45" text-anchor="middle" fill="#1a1a1a" stroke="#1a1a1a" stroke-width="0" textLength="6.0" lengthAdjust="spacing" >6</text>
<line x1="56.8" y1="202.0" x2="60.0" y2="202.0" stroke="#000" stroke-width="1" />
<text x="54.2" y="205.4" font-size="10.45" text-anchor="end" fill="#1a1a1a" stroke="#1a1a1a" stroke-width="0" textLength="15.1" lengthAdjust="spacing" >0.1</text>
<line x1="56.8" y1="293.0" x2="60.0" y2="293.0" stroke="#000" stroke-width="1" />
<text x="54.2" y="296.4" font-size="10.45" text-anchor="end" fill="#1a1a1a" stroke="#1a1a1a" stroke-width="0" textLength="6.0" lengthAdjust="spacing" >0</text>
<text x="107.5" y="327.8" font-size="13.28" text-anchor="middle" fill="#1a1a1a" stroke="#1a1a1a" stroke-width="0.0" textLength="115.5" lengthAdjust="spacing" >Time since cue (s)</text>
<text x="31.0" y="249.0" font-size="13.28" text-anchor="middle" fill="#1a1a1a" stroke="#1a1a1a" stroke-width="0.0" textLength="106.5" lengthAdjust="spacing" transform="rotate(-90 31.0 249.0)" >Decoded density</text>
<text x="182.0" y="207.6" font-size="11.97" text-anchor="start" fill="#e2a090" stroke="#e2a090" stroke-width="0.0" textLength="16.8" lengthAdjust="spacing" >0 s</text>
<text x="182.0" y="224.6" font-size="11.97" text-anchor="start" fill="#d84a50" stroke="#d84a50" stroke-width="0.0" textLength="27.7" lengthAdjust="spacing" >1.5 s</text>
<text x="182.0" y="242.0" font-size="11.97" text-anchor="start" fill="#b83038" stroke="#b83038" stroke-width="0.0" textLength="16.8" lengthAdjust="spacing" >3 s</text>
<text x="182.0" y="259.0" font-size="11.97" text-anchor="start" fill="#4a1a22" stroke="#4a1a22" stroke-width="0.0" textLength="16.8" lengthAdjust="spacing" >6 s</text>
<line x1="274.6" y1="292.3" x2="297.6" y2="292.3" stroke="#000" stroke-width="2.6" />
<line x1="412.4" y1="293.0" x2="453.7" y2="293.0" stroke="#000" stroke-width="2.6" />
<line x1="570.9" y1="293.0" x2="651.9" y2="293.0" stroke="#000" stroke-width="2.6" />
<path d="M282.7,291.4 L285.0,270.5 L289.0,254.4 L291.0,232.7 L292.6,238.0 L295.5,227.0 L297.9,209.5 L302.7,203.8 L306.8,207.0 L308.4,212.7 L310.0,238.4 L313.2,248.0" stroke="#c0303a" stroke-width="1.5" fill="none" stroke-linejoin="round"/>
<path d="M284.3,291.8 L289.0,277.0 L294.7,249.6 L297.1,248.0 L301.1,218.3 L305.1,210.3 L307.6,212.7 L310.0,228.7 L313.2,248.0 L318.0,268.9 L322.8,283.3 L329.2,291.6 L364.6,291.8" stroke="#4a78b8" stroke-width="1.5" fill="none" stroke-linejoin="round"/>
<path d="M438.9,292.6 L444.0,251.2 L447.8,233.5 L450.2,232.0 L454.2,216.7 L457.4,210.3 L461.4,207.0 L463.8,212.7 L467.0,220.7 L469.4,248.0 L472.7,262.4 L477.5,278.5 L485.5,293.0 L501.6,293.0" stroke="#c0303a" stroke-width="1.5" fill="none" stroke-linejoin="round"/>
<path d="M442.1,293.0 L447.0,275.3 L451.0,251.2 L454.2,257.6 L456.6,232.0 L459.8,222.3 L463.0,212.7 L466.2,219.9 L468.6,246.4 L472.7,260.8 L479.1,281.7 L487.1,292.2 L502.4,292.6" stroke="#4a78b8" stroke-width="1.5" fill="none" stroke-linejoin="round"/>
<path d="M621.8,293.0 L625.0,286.5 L628.3,267.3 L631.5,254.4 L634.7,246.4 L638.7,240.8 L640.3,243.2 L643.5,232.0 L646.7,228.7 L649.1,235.1 L652.3,219.9 L654.0,226.3 L657.2,211.1 L660.9,207.8" stroke="#c0303a" stroke-width="1.5" fill="none" stroke-linejoin="round"/>
<path d="M625.0,293.0 L629.0,284.9 L633.9,275.3 L638.7,270.5 L645.1,262.4 L649.1,266.5 L651.9,274.5 L654.7,236.8 L658.0,216.7 L660.9,214.0" stroke="#4a78b8" stroke-width="1.5" fill="none" stroke-linejoin="round"/>
<line x1="275.9" y1="297.3" x2="275.9" y2="300.3" stroke="#000" stroke-width="1" />
<line x1="295.5" y1="297.3" x2="295.5" y2="300.3" stroke="#000" stroke-width="1" />
<line x1="315.1" y1="297.3" x2="315.1" y2="300.3" stroke="#000" stroke-width="1" />
<line x1="353.8" y1="297.3" x2="353.8" y2="300.3" stroke="#000" stroke-width="1" />
<line x1="413.2" y1="297.5" x2="413.2" y2="300.5" stroke="#000" stroke-width="1" />
<line x1="432.8" y1="297.5" x2="432.8" y2="300.5" stroke="#000" stroke-width="1" />
<line x1="452.6" y1="297.5" x2="452.6" y2="300.5" stroke="#000" stroke-width="1" />
<line x1="491.1" y1="297.5" x2="491.1" y2="300.5" stroke="#000" stroke-width="1" />
<line x1="572.0" y1="297.5" x2="572.0" y2="300.5" stroke="#000" stroke-width="1" />
<line x1="591.6" y1="297.5" x2="591.6" y2="300.5" stroke="#000" stroke-width="1" />
<line x1="611.0" y1="297.5" x2="611.0" y2="300.5" stroke="#000" stroke-width="1" />
<line x1="650.3" y1="297.5" x2="650.3" y2="300.5" stroke="#000" stroke-width="1" />
<line x1="406.0" y1="218.0" x2="409.0" y2="218.0" stroke="#000" stroke-width="1" />
<line x1="406.0" y1="292.6" x2="409.0" y2="292.6" stroke="#000" stroke-width="1" />
<line x1="563.4" y1="218.0" x2="566.4" y2="218.0" stroke="#000" stroke-width="1" />
<line x1="563.4" y1="292.6" x2="566.4" y2="292.6" stroke="#000" stroke-width="1" />
<path d="M275.4,389.4 C283,380 290,376.2 297.9,376.2 C315,376.2 335,400 345.3,426.3 L364.6,426.3" stroke="#c0303a" stroke-width="1.5" fill="none" />
<path d="M275.4,389.4 C285,382 293,379.1 302.7,379.1 C318,379.1 336,400 346.1,426.3 L364.6,426.3" stroke="#4a78b8" stroke-width="1.5" fill="none" />
<line x1="297.1" y1="376.5" x2="297.1" y2="426.5" stroke="#c0303a" stroke-width="1.4" stroke-dasharray="3.5,2.2" />
<line x1="301.9" y1="379.5" x2="301.9" y2="426.5" stroke="#4a78b8" stroke-width="1.4" stroke-dasharray="3.5,2.2" />
<path d="M413.2,426.3 L421.3,426 C426,414 434,394 442.1,381 C447,373 452,369 458.2,369 C465,369 470,377 474,386 C481,400 487,414 491.1,426.3 L502.4,426.3" stroke="#c0303a" stroke-width="1.5" fill="none" />
<path d="M413.2,416 C425,405 443,391 467.8,389.5 C482,389.5 495,396 502.4,403.2" stroke="#4a78b8" stroke-width="1.5" fill="none" />
<line x1="458.5" y1="369.5" x2="458.5" y2="426.5" stroke="#c0303a" stroke-width="1.4" stroke-dasharray="3.5,2.2" />
<line x1="467.0" y1="392.0" x2="467.0" y2="426.5" stroke="#4a78b8" stroke-width="1.4" stroke-dasharray="3.5,2.2" />
<path d="M572,426.3 L580.9,426.3 C590,421 605,410 616.2,400.3 C630,388 648,368 660.9,347.3" stroke="#c0303a" stroke-width="1.5" fill="none" />
<path d="M572,412.8 C580,418 588,422.5 595.3,422.5 C605,422.5 612,416 620,407 C632,392 650,360 658.8,328" stroke="#4a78b8" stroke-width="1.5" fill="none" />
<line x1="405.3" y1="328.7" x2="408.3" y2="328.7" stroke="#000" stroke-width="1" />
<line x1="405.3" y1="426.8" x2="408.3" y2="426.8" stroke="#000" stroke-width="1" />
<line x1="563.4" y1="328.7" x2="566.4" y2="328.7" stroke="#000" stroke-width="1" />
<line x1="563.4" y1="426.8" x2="566.4" y2="426.8" stroke="#000" stroke-width="1" />
<line x1="272.0" y1="198.0" x2="272.0" y2="298.1" stroke="#000" stroke-width="1.3" />
<line x1="271.4" y1="297.5" x2="369.0" y2="297.5" stroke="#000" stroke-width="1.3" />
<line x1="409.0" y1="198.0" x2="409.0" y2="298.1" stroke="#000" stroke-width="1.3" />
<line x1="408.4" y1="297.5" x2="506.0" y2="297.5" stroke="#000" stroke-width="1.3" />
<line x1="566.4" y1="198.0" x2="566.4" y2="298.1" stroke="#000" stroke-width="1.3" />
<line x1="565.8" y1="297.5" x2="665.5" y2="297.5" stroke="#000" stroke-width="1.3" />
<text x="279.0" y="202.0" font-size="12.08" text-anchor="start" fill="#1a1a1a" stroke="#1a1a1a" stroke-width="0.0" textLength="107.1" lengthAdjust="spacing" >Reward time=1.5s</text>
<text x="421.0" y="200.0" font-size="12.08" text-anchor="start" fill="#1a1a1a" stroke="#1a1a1a" stroke-width="0.0" textLength="96.1" lengthAdjust="spacing" >Reward time=3s</text>
<text x="573.0" y="203.0" font-size="12.08" text-anchor="start" fill="#1a1a1a" stroke="#1a1a1a" stroke-width="0.0" textLength="96.1" lengthAdjust="spacing" >Reward time=6s</text>
<text x="485.5" y="186.0" font-size="13.28" text-anchor="middle" fill="#1a1a1a" stroke="#1a1a1a" stroke-width="0.0" textLength="104.0" lengthAdjust="spacing" >Licking behavior</text>
<text x="483.0" y="230.0" font-size="12.18" text-anchor="start" fill="#c03030" stroke="#c03030" stroke-width="0.0" textLength="70.3" lengthAdjust="spacing" >early licking</text>
<text x="483.0" y="247.0" font-size="12.18" text-anchor="start" fill="#4a78b8" stroke="#4a78b8" stroke-width="0.0" textLength="63.2" lengthAdjust="spacing" >late licking</text>
<text x="479.5" y="318.0" font-size="13.28" text-anchor="middle" fill="#1a1a1a" stroke="#1a1a1a" stroke-width="0.0" textLength="133.3" lengthAdjust="spacing" >Decoded information</text>
<text x="252.0" y="249.0" font-size="13.28" text-anchor="middle" fill="#1a1a1a" stroke="#1a1a1a" stroke-width="0.0" textLength="107.2" lengthAdjust="spacing" transform="rotate(-90 252.0 249.0)" >Lick rate (licks/s)</text>
<line x1="268.8" y1="217.0" x2="272.0" y2="217.0" stroke="#000" stroke-width="1" />
<text x="266.2" y="220.4" font-size="10.45" text-anchor="end" fill="#1a1a1a" stroke="#1a1a1a" stroke-width="0" textLength="6.0" lengthAdjust="spacing" >6</text>
<line x1="268.8" y1="292.0" x2="272.0" y2="292.0" stroke="#000" stroke-width="1" />
<text x="266.2" y="295.4" font-size="10.45" text-anchor="end" fill="#1a1a1a" stroke="#1a1a1a" stroke-width="0" textLength="6.0" lengthAdjust="spacing" >0</text>
<line x1="272.0" y1="328.0" x2="272.0" y2="427.6" stroke="#000" stroke-width="1.3" />
<line x1="271.4" y1="427.0" x2="369.0" y2="427.0" stroke="#000" stroke-width="1.3" />
<line x1="275.4" y1="427.0" x2="275.4" y2="430.2" stroke="#000" stroke-width="1" />
<text x="275.4" y="440.5" font-size="10.45" text-anchor="middle" fill="#1a1a1a" stroke="#1a1a1a" stroke-width="0" textLength="6.0" lengthAdjust="spacing" >0</text>
<line x1="294.6" y1="427.0" x2="294.6" y2="430.2" stroke="#000" stroke-width="1" />
<text x="294.6" y="440.5" font-size="10.45" text-anchor="middle" fill="#1a1a1a" stroke="#1a1a1a" stroke-width="0" textLength="15.1" lengthAdjust="spacing" >1.5</text>
<line x1="314.6" y1="427.0" x2="314.6" y2="430.2" stroke="#000" stroke-width="1" />
<text x="314.6" y="440.5" font-size="10.45" text-anchor="middle" fill="#1a1a1a" stroke="#1a1a1a" stroke-width="0" textLength="6.0" lengthAdjust="spacing" >3</text>
<line x1="353.8" y1="427.0" x2="353.8" y2="430.2" stroke="#000" stroke-width="1" />
<text x="353.8" y="440.5" font-size="10.45" text-anchor="middle" fill="#1a1a1a" stroke="#1a1a1a" stroke-width="0" textLength="6.0" lengthAdjust="spacing" >6</text>
<text x="320.0" y="457.5" font-size="13.28" text-anchor="middle" fill="#1a1a1a" stroke="#1a1a1a" stroke-width="0.0" textLength="115.5" lengthAdjust="spacing" >Time since cue (s)</text>
<line x1="408.3" y1="328.0" x2="408.3" y2="427.6" stroke="#000" stroke-width="1.3" />
<line x1="407.7" y1="427.0" x2="506.0" y2="427.0" stroke="#000" stroke-width="1.3" />
<line x1="413.7" y1="427.0" x2="413.7" y2="430.2" stroke="#000" stroke-width="1" />
<text x="413.7" y="440.5" font-size="10.45" text-anchor="middle" fill="#1a1a1a" stroke="#1a1a1a" stroke-width="0" textLength="6.0" lengthAdjust="spacing" >0</text>
<line x1="433.0" y1="427.0" x2="433.0" y2="430.2" stroke="#000" stroke-width="1" />
<text x="433.0" y="440.5" font-size="10.45" text-anchor="middle" fill="#1a1a1a" stroke="#1a1a1a" stroke-width="0" textLength="15.1" lengthAdjust="spacing" >1.5</text>
<line x1="453.0" y1="427.0" x2="453.0" y2="430.2" stroke="#000" stroke-width="1" />
<text x="453.0" y="440.5" font-size="10.45" text-anchor="middle" fill="#1a1a1a" stroke="#1a1a1a" stroke-width="0" textLength="6.0" lengthAdjust="spacing" >3</text>
<line x1="490.7" y1="427.0" x2="490.7" y2="430.2" stroke="#000" stroke-width="1" />
<text x="490.7" y="440.5" font-size="10.45" text-anchor="middle" fill="#1a1a1a" stroke="#1a1a1a" stroke-width="0" textLength="6.0" lengthAdjust="spacing" >6</text>
<text x="456.6" y="457.5" font-size="13.28" text-anchor="middle" fill="#1a1a1a" stroke="#1a1a1a" stroke-width="0.0" textLength="115.5" lengthAdjust="spacing" >Time since cue (s)</text>
<line x1="566.4" y1="328.0" x2="566.4" y2="427.6" stroke="#000" stroke-width="1.3" />
<line x1="565.8" y1="427.0" x2="665.5" y2="427.0" stroke="#000" stroke-width="1.3" />
<line x1="572.0" y1="427.0" x2="572.0" y2="430.2" stroke="#000" stroke-width="1" />
<text x="572.0" y="440.5" font-size="10.45" text-anchor="middle" fill="#1a1a1a" stroke="#1a1a1a" stroke-width="0" textLength="6.0" lengthAdjust="spacing" >0</text>
<line x1="592.0" y1="427.0" x2="592.0" y2="430.2" stroke="#000" stroke-width="1" />
<text x="592.0" y="440.5" font-size="10.45" text-anchor="middle" fill="#1a1a1a" stroke="#1a1a1a" stroke-width="0" textLength="15.1" lengthAdjust="spacing" >1.5</text>
<line x1="611.5" y1="427.0" x2="611.5" y2="430.2" stroke="#000" stroke-width="1" />
<text x="611.5" y="440.5" font-size="10.45" text-anchor="middle" fill="#1a1a1a" stroke="#1a1a1a" stroke-width="0" textLength="6.0" lengthAdjust="spacing" >3</text>
<line x1="650.0" y1="427.0" x2="650.0" y2="430.2" stroke="#000" stroke-width="1" />
<text x="650.0" y="440.5" font-size="10.45" text-anchor="middle" fill="#1a1a1a" stroke="#1a1a1a" stroke-width="0" textLength="6.0" lengthAdjust="spacing" >6</text>
<text x="615.5" y="457.5" font-size="13.28" text-anchor="middle" fill="#1a1a1a" stroke="#1a1a1a" stroke-width="0.0" textLength="115.5" lengthAdjust="spacing" >Time since cue (s)</text>
<line x1="268.8" y1="328.7" x2="272.0" y2="328.7" stroke="#000" stroke-width="1" />
<text x="266.2" y="332.1" font-size="10.45" text-anchor="end" fill="#1a1a1a" stroke="#1a1a1a" stroke-width="0" textLength="21.2" lengthAdjust="spacing" >0.08</text>
<line x1="268.8" y1="426.8" x2="272.0" y2="426.8" stroke="#000" stroke-width="1" />
<text x="266.2" y="430.2" font-size="10.45" text-anchor="end" fill="#1a1a1a" stroke="#1a1a1a" stroke-width="0" textLength="6.0" lengthAdjust="spacing" >0</text>
<text x="237.0" y="379.0" font-size="13.28" text-anchor="middle" fill="#1a1a1a" stroke="#1a1a1a" stroke-width="0.0" textLength="106.5" lengthAdjust="spacing" transform="rotate(-90 237.0 379.0)" >Decoded density</text>
<circle cx="102.8" cy="386.3" r="3.4" fill="#e87858" stroke="none" stroke-width="0"/>
<circle cx="78.0" cy="383.0" r="3.4" fill="#d8b888" stroke="none" stroke-width="0"/>
<circle cx="82.2" cy="380.2" r="3.4" fill="#e87858" stroke="none" stroke-width="0"/>
<circle cx="97.5" cy="405.5" r="3.4" fill="#d8b888" stroke="none" stroke-width="0"/>
<circle cx="69.1" cy="372.5" r="3.4" fill="#70cc9c" stroke="none" stroke-width="0"/>
<circle cx="88.3" cy="374.0" r="3.4" fill="#70cc9c" stroke="none" stroke-width="0"/>
<circle cx="103.6" cy="382.5" r="3.0" fill="#b0b0b0" stroke="#4a80b8" stroke-width="1.1"/>
<circle cx="76.0" cy="375.6" r="3.4" fill="#d8b888" stroke="none" stroke-width="0"/>
<circle cx="97.5" cy="413.9" r="3.4" fill="#d8b888" stroke="none" stroke-width="0"/>
<circle cx="89.8" cy="421.6" r="3.4" fill="#70cc9c" stroke="none" stroke-width="0"/>
<circle cx="73.0" cy="384.8" r="3.4" fill="#e87858" stroke="none" stroke-width="0"/>
<circle cx="77.6" cy="360.6" r="3.0" fill="#b0b0b0" stroke="#4a80b8" stroke-width="1.1"/>
<circle cx="105.0" cy="366.4" r="3.0" fill="#8a9ad8" stroke="#4a80b8" stroke-width="1.1"/>
<circle cx="104.4" cy="396.3" r="3.4" fill="#e87858" stroke="none" stroke-width="0"/>
<circle cx="96.0" cy="377.1" r="3.0" fill="#d8b888" stroke="#4a80b8" stroke-width="1.1"/>
<circle cx="91.0" cy="383.0" r="3.4" fill="#d8b888" stroke="none" stroke-width="0"/>
<circle cx="89.0" cy="402.4" r="3.0" fill="#e87858" stroke="#4a80b8" stroke-width="1.1"/>
<circle cx="120.5" cy="381.0" r="3.4" fill="#e87858" stroke="none" stroke-width="0"/>
<circle cx="73.0" cy="401.6" r="3.4" fill="#e87858" stroke="none" stroke-width="0"/>
<circle cx="98.0" cy="379.0" r="3.4" fill="#b0b0b0" stroke="none" stroke-width="0"/>
<circle cx="89.8" cy="414.7" r="3.0" fill="#d8b888" stroke="#4a80b8" stroke-width="1.1"/>
<circle cx="87.8" cy="396.3" r="3.0" fill="#70cc9c" stroke="#4a80b8" stroke-width="1.1"/>
<circle cx="63.8" cy="387.1" r="3.0" fill="#d8b888" stroke="#4a80b8" stroke-width="1.1"/>
<circle cx="86.0" cy="389.4" r="3.4" fill="#e87858" stroke="none" stroke-width="0"/>
<circle cx="102.0" cy="365.6" r="3.0" fill="#b0b0b0" stroke="#4a80b8" stroke-width="1.1"/>
<circle cx="76.8" cy="394.7" r="3.4" fill="#e87858" stroke="none" stroke-width="0"/>
<circle cx="69.9" cy="390.9" r="3.4" fill="#d8b888" stroke="none" stroke-width="0"/>
<circle cx="120.5" cy="356.9" r="3.4" fill="#e87858" stroke="none" stroke-width="0"/>
<circle cx="55.3" cy="407.8" r="3.0" fill="#d8b888" stroke="#4a80b8" stroke-width="1.1"/>
<circle cx="69.9" cy="365.6" r="3.4" fill="#d8b888" stroke="none" stroke-width="0"/>
<circle cx="74.0" cy="369.0" r="3.4" fill="#70cc9c" stroke="none" stroke-width="0"/>
<circle cx="112.0" cy="393.2" r="3.4" fill="#70cc9c" stroke="none" stroke-width="0"/>
<circle cx="76.8" cy="366.4" r="3.0" fill="#e87858" stroke="#4a80b8" stroke-width="1.1"/>
<circle cx="72.0" cy="378.0" r="3.4" fill="#d8b888" stroke="none" stroke-width="0"/>
<circle cx="88.7" cy="335.0" r="3.0" fill="#d8b888" stroke="#4a80b8" stroke-width="1.1"/>
<circle cx="126.6" cy="404.7" r="3.0" fill="#e87858" stroke="#4a80b8" stroke-width="1.1"/>
<circle cx="86.0" cy="371.0" r="3.4" fill="#70cc9c" stroke="none" stroke-width="0"/>
<circle cx="98.2" cy="423.1" r="3.4" fill="#d8b888" stroke="none" stroke-width="0"/>
<circle cx="89.0" cy="377.1" r="3.4" fill="#70cc9c" stroke="none" stroke-width="0"/>
<circle cx="78.3" cy="410.8" r="3.0" fill="#d8b888" stroke="#4a80b8" stroke-width="1.1"/>
<circle cx="84.5" cy="366.1" r="3.0" fill="#70cc9c" stroke="#4a80b8" stroke-width="1.1"/>
<circle cx="92.1" cy="361.8" r="3.4" fill="#b0b0b0" stroke="none" stroke-width="0"/>
<circle cx="129.7" cy="390.1" r="3.0" fill="#70cc9c" stroke="#4a80b8" stroke-width="1.1"/>
<circle cx="95.2" cy="392.4" r="3.4" fill="#70cc9c" stroke="none" stroke-width="0"/>
<circle cx="104.4" cy="361.0" r="3.0" fill="#b0b0b0" stroke="#4a80b8" stroke-width="1.1"/>
<circle cx="105.9" cy="391.0" r="3.4" fill="#d8b888" stroke="none" stroke-width="0"/>
<circle cx="83.7" cy="398.6" r="3.4" fill="#70cc9c" stroke="none" stroke-width="0"/>
<circle cx="105.9" cy="378.6" r="3.0" fill="#b0b0b0" stroke="#4a80b8" stroke-width="1.1"/>
<circle cx="115.1" cy="398.6" r="3.0" fill="#70cc9c" stroke="#4a80b8" stroke-width="1.1"/>
<circle cx="84.5" cy="384.8" r="3.4" fill="#70cc9c" stroke="none" stroke-width="0"/>
<circle cx="95.2" cy="418.8" r="3.4" fill="#8a9ad8" stroke="none" stroke-width="0"/>
<circle cx="95.2" cy="385.5" r="3.0" fill="#b0b0b0" stroke="#4a80b8" stroke-width="1.1"/>
<circle cx="80.6" cy="371.8" r="3.4" fill="#8a9ad8" stroke="none" stroke-width="0"/>
<circle cx="92.9" cy="367.9" r="3.4" fill="#d8b888" stroke="none" stroke-width="0"/>
<circle cx="101.3" cy="374.4" r="3.4" fill="#e8d838" stroke="none" stroke-width="0"/>
<line x1="48.4" y1="377.9" x2="134.3" y2="389.4" stroke="#000" stroke-width="1.5" stroke-dasharray="4.5,2.5" />
<rect x="122.2" y="332.2" width="96.4" height="17.4" fill="#fff" fill-opacity="0.85" stroke="#c8c8c8" stroke-width="0.9"/>
<text x="125.0" y="344.0" font-size="11.65" text-anchor="start" fill="#1a1a1a" stroke="#1a1a1a" stroke-width="0.0" textLength="25.6" lengthAdjust="spacing" >Mice</text>
<circle cx="159.2" cy="341.5" r="4.0" fill="#d8b888" stroke="none" stroke-width="0"/>
<circle cx="169.6" cy="341.5" r="4.0" fill="#a8a8a8" stroke="none" stroke-width="0"/>
<circle cx="180.0" cy="341.5" r="4.0" fill="#e8d830" stroke="none" stroke-width="0"/>
<circle cx="190.5" cy="341.5" r="4.0" fill="#7a98d0" stroke="none" stroke-width="0"/>
<circle cx="201.2" cy="341.5" r="4.0" fill="#e87858" stroke="none" stroke-width="0"/>
<circle cx="211.8" cy="341.5" r="4.0" fill="#68c898" stroke="none" stroke-width="0"/>
<line x1="43.7" y1="330.0" x2="43.7" y2="428.1" stroke="#000" stroke-width="1.3" />
<line x1="43.1" y1="427.5" x2="141.0" y2="427.5" stroke="#000" stroke-width="1.3" />
<line x1="67.2" y1="427.5" x2="67.2" y2="430.7" stroke="#000" stroke-width="1" />
<text x="67.2" y="441.0" font-size="10.45" text-anchor="middle" fill="#1a1a1a" stroke="#1a1a1a" stroke-width="0" textLength="15.1" lengthAdjust="spacing" >0.5</text>
<line x1="100.7" y1="427.5" x2="100.7" y2="430.7" stroke="#000" stroke-width="1" />
<text x="100.7" y="441.0" font-size="10.45" text-anchor="middle" fill="#1a1a1a" stroke="#1a1a1a" stroke-width="0" textLength="15.1" lengthAdjust="spacing" >1.0</text>
<line x1="136.0" y1="427.5" x2="136.0" y2="430.7" stroke="#000" stroke-width="1" />
<text x="136.0" y="441.0" font-size="10.45" text-anchor="middle" fill="#1a1a1a" stroke="#1a1a1a" stroke-width="0" textLength="15.1" lengthAdjust="spacing" >1.5</text>
<line x1="40.5" y1="343.5" x2="43.7" y2="343.5" stroke="#000" stroke-width="1" />
<text x="37.9" y="346.9" font-size="10.45" text-anchor="end" fill="#1a1a1a" stroke="#1a1a1a" stroke-width="0" textLength="15.1" lengthAdjust="spacing" >1.2</text>
<line x1="40.5" y1="373.0" x2="43.7" y2="373.0" stroke="#000" stroke-width="1" />
<text x="37.9" y="376.4" font-size="10.45" text-anchor="end" fill="#1a1a1a" stroke="#1a1a1a" stroke-width="0" textLength="15.1" lengthAdjust="spacing" >1.0</text>
<line x1="40.5" y1="404.0" x2="43.7" y2="404.0" stroke="#000" stroke-width="1" />
<text x="37.9" y="407.4" font-size="10.45" text-anchor="end" fill="#1a1a1a" stroke="#1a1a1a" stroke-width="0" textLength="15.1" lengthAdjust="spacing" >0.8</text>
<text x="92.5" y="458.0" font-size="13.28" text-anchor="middle" fill="#1a1a1a" stroke="#1a1a1a" stroke-width="0.0" textLength="125.1" lengthAdjust="spacing" >Medial-lateral (mm)</text>
<text x="17.0" y="377.0" font-size="13.28" text-anchor="middle" fill="#1a1a1a" stroke="#1a1a1a" stroke-width="0.0" textLength="7.5" lengthAdjust="spacing" transform="rotate(-90 17.0 377.0)" ><tspan font-style="italic">γ</tspan></text>
<text x="142.3" y="388.4" font-size="12.39" text-anchor="start" fill="#1a1a1a" stroke="#1a1a1a" stroke-width="0.0" textLength="55.4" lengthAdjust="spacing" ><tspan font-style="italic">ρ</tspan> = -0.12</text>
<text x="142.3" y="401.8" font-size="13.12" text-anchor="start" fill="#1a1a1a" stroke="#1a1a1a" stroke-width="0.0" textLength="46.2" lengthAdjust="spacing" >p=0.26</text>
<circle cx="91.4" cy="581.6" r="3.4" fill="#3a4cb4" stroke="none" stroke-width="0"/>
<circle cx="89.9" cy="576.2" r="3.4" fill="#3a4cb4" stroke="none" stroke-width="0"/>
<circle cx="82.2" cy="575.5" r="3.4" fill="#3a4cb4" stroke="none" stroke-width="0"/>
<circle cx="99.9" cy="573.2" r="3.4" fill="#3b4ab3" stroke="none" stroke-width="0"/>
<circle cx="93.0" cy="572.4" r="3.4" fill="#3b49b3" stroke="none" stroke-width="0"/>
<circle cx="86.8" cy="571.6" r="3.4" fill="#3c49b3" stroke="none" stroke-width="0"/>
<circle cx="79.9" cy="570.9" r="3.4" fill="#3d48b3" stroke="none" stroke-width="0"/>
<circle cx="87.6" cy="570.1" r="3.4" fill="#3d47b2" stroke="none" stroke-width="0"/>
<circle cx="96.8" cy="568.6" r="3.4" fill="#3e46b2" stroke="none" stroke-width="0"/>
<circle cx="90.7" cy="567.0" r="3.4" fill="#3f45b2" stroke="none" stroke-width="0"/>
<circle cx="84.5" cy="565.5" r="3.4" fill="#4143b1" stroke="none" stroke-width="0"/>
<circle cx="98.0" cy="564.0" r="3.4" fill="#4242b1" stroke="none" stroke-width="0"/>
<circle cx="92.0" cy="563.0" r="3.4" fill="#4241b1" stroke="none" stroke-width="0"/>
<circle cx="107.5" cy="561.2" r="3.4" fill="#4440b1" stroke="none" stroke-width="0"/>
<circle cx="113.6" cy="561.2" r="3.4" fill="#4440b1" stroke="none" stroke-width="0"/>
<circle cx="96.8" cy="560.9" r="3.4" fill="#443fb0" stroke="none" stroke-width="0"/>
<circle cx="82.2" cy="559.4" r="3.4" fill="#453eb0" stroke="none" stroke-width="0"/>
<circle cx="90.7" cy="559.4" r="3.4" fill="#453eb0" stroke="none" stroke-width="0"/>
<circle cx="76.1" cy="557.8" r="3.4" fill="#463db0" stroke="none" stroke-width="0"/>
<circle cx="93.0" cy="555.5" r="3.4" fill="#4a3baf" stroke="none" stroke-width="0"/>
<circle cx="85.0" cy="555.0" r="3.4" fill="#4b3aaf" stroke="none" stroke-width="0"/>
<circle cx="98.3" cy="554.0" r="3.4" fill="#4e39ae" stroke="none" stroke-width="0"/>
<circle cx="87.6" cy="553.2" r="3.4" fill="#5138ad" stroke="none" stroke-width="0"/>
<circle cx="104.0" cy="552.0" r="3.4" fill="#5437ad" stroke="none" stroke-width="0"/>
<circle cx="155.8" cy="551.4" r="3.4" fill="#5636ac" stroke="none" stroke-width="0"/>
<circle cx="95.0" cy="551.0" r="3.4" fill="#5736ac" stroke="none" stroke-width="0"/>
<circle cx="89.0" cy="549.0" r="3.4" fill="#5d34aa" stroke="none" stroke-width="0"/>
<circle cx="110.6" cy="548.6" r="3.4" fill="#5e34aa" stroke="none" stroke-width="0"/>
<circle cx="87.6" cy="547.1" r="3.4" fill="#6332a9" stroke="none" stroke-width="0"/>
<circle cx="98.3" cy="545.6" r="3.4" fill="#6730a8" stroke="none" stroke-width="0"/>
<circle cx="92.2" cy="544.1" r="3.4" fill="#6d2fa5" stroke="none" stroke-width="0"/>
<circle cx="100.0" cy="541.0" r="3.4" fill="#7e2d98" stroke="none" stroke-width="0"/>
<circle cx="73.0" cy="540.2" r="3.4" fill="#822c95" stroke="none" stroke-width="0"/>
<circle cx="106.0" cy="540.2" r="3.4" fill="#822c95" stroke="none" stroke-width="0"/>
<circle cx="116.0" cy="539.8" r="3.4" fill="#842c93" stroke="none" stroke-width="0"/>
<circle cx="84.5" cy="539.5" r="3.4" fill="#862c92" stroke="none" stroke-width="0"/>
<circle cx="96.0" cy="539.5" r="3.4" fill="#862c92" stroke="none" stroke-width="0"/>
<circle cx="103.0" cy="537.0" r="3.4" fill="#932a87" stroke="none" stroke-width="0"/>
<circle cx="90.7" cy="536.4" r="3.4" fill="#962a85" stroke="none" stroke-width="0"/>
<circle cx="94.0" cy="536.0" r="3.4" fill="#992983" stroke="none" stroke-width="0"/>
<circle cx="101.4" cy="534.1" r="3.4" fill="#a3287b" stroke="none" stroke-width="0"/>
<circle cx="116.0" cy="534.1" r="3.4" fill="#a3287b" stroke="none" stroke-width="0"/>
<circle cx="96.8" cy="532.6" r="3.4" fill="#a92875" stroke="none" stroke-width="0"/>
<circle cx="87.6" cy="531.8" r="3.4" fill="#ac2872" stroke="none" stroke-width="0"/>
<circle cx="110.6" cy="531.0" r="3.4" fill="#ae286f" stroke="none" stroke-width="0"/>
<circle cx="74.6" cy="530.3" r="3.4" fill="#b1286d" stroke="none" stroke-width="0"/>
<circle cx="98.0" cy="530.0" r="3.4" fill="#b2286c" stroke="none" stroke-width="0"/>
<circle cx="109.0" cy="527.2" r="3.4" fill="#ba2861" stroke="none" stroke-width="0"/>
<circle cx="95.0" cy="527.0" r="3.4" fill="#bb2860" stroke="none" stroke-width="0"/>
<circle cx="91.4" cy="526.4" r="3.4" fill="#bd285e" stroke="none" stroke-width="0"/>
<circle cx="96.8" cy="522.6" r="3.4" fill="#c82850" stroke="none" stroke-width="0"/>
<circle cx="88.0" cy="522.0" r="3.4" fill="#ca284e" stroke="none" stroke-width="0"/>
<circle cx="85.3" cy="518.8" r="3.4" fill="#d12845" stroke="none" stroke-width="0"/>
<circle cx="102.9" cy="518.8" r="3.4" fill="#d12845" stroke="none" stroke-width="0"/>
<circle cx="93.0" cy="518.0" r="3.4" fill="#d22843" stroke="none" stroke-width="0"/>
<circle cx="101.4" cy="514.9" r="3.4" fill="#d5283e" stroke="none" stroke-width="0"/>
<circle cx="95.3" cy="514.2" r="3.4" fill="#d6283c" stroke="none" stroke-width="0"/>
<circle cx="89.1" cy="513.4" r="3.4" fill="#d7283b" stroke="none" stroke-width="0"/>
<circle cx="92.0" cy="510.0" r="3.4" fill="#da2934" stroke="none" stroke-width="0"/>
<circle cx="86.8" cy="508.0" r="3.4" fill="#dc2931" stroke="none" stroke-width="0"/>
<circle cx="99.9" cy="508.0" r="3.4" fill="#dc2931" stroke="none" stroke-width="0"/>
<circle cx="105.2" cy="508.0" r="3.4" fill="#dc2931" stroke="none" stroke-width="0"/>
<circle cx="112.1" cy="503.9" r="3.4" fill="#e12929" stroke="none" stroke-width="0"/>
<circle cx="101.4" cy="502.7" r="3.4" fill="#e22a28" stroke="none" stroke-width="0"/>
<line x1="70.0" y1="557.1" x2="121.3" y2="534.5" stroke="#000" stroke-width="1.5" stroke-dasharray="4.5,2.5" />
<circle cx="414.5" cy="502.4" r="3.4" fill="#3a4cb4" stroke="none" stroke-width="0"/>
<circle cx="415.0" cy="554.0" r="3.4" fill="#3a4cb4" stroke="none" stroke-width="0"/>
<circle cx="415.7" cy="562.4" r="3.4" fill="#3a4cb4" stroke="none" stroke-width="0"/>
<circle cx="416.5" cy="567.0" r="3.4" fill="#3a4cb4" stroke="none" stroke-width="0"/>
<circle cx="418.0" cy="571.0" r="3.4" fill="#3a4cb4" stroke="none" stroke-width="0"/>
<circle cx="420.3" cy="548.6" r="3.4" fill="#3a4cb4" stroke="none" stroke-width="0"/>
<circle cx="421.1" cy="574.7" r="3.4" fill="#3a4bb3" stroke="none" stroke-width="0"/>
<circle cx="421.9" cy="564.7" r="3.4" fill="#3a4bb3" stroke="none" stroke-width="0"/>
<circle cx="424.2" cy="545.6" r="3.4" fill="#3b49b3" stroke="none" stroke-width="0"/>
<circle cx="424.9" cy="568.6" r="3.4" fill="#3c48b3" stroke="none" stroke-width="0"/>
<circle cx="426.5" cy="549.4" r="3.4" fill="#3c47b3" stroke="none" stroke-width="0"/>
<circle cx="427.0" cy="565.0" r="3.4" fill="#3d47b2" stroke="none" stroke-width="0"/>
<circle cx="429.5" cy="572.4" r="3.4" fill="#3e45b2" stroke="none" stroke-width="0"/>
<circle cx="430.3" cy="546.3" r="3.4" fill="#3f44b2" stroke="none" stroke-width="0"/>
<circle cx="430.3" cy="560.9" r="3.4" fill="#3f44b2" stroke="none" stroke-width="0"/>
<circle cx="431.0" cy="547.0" r="3.4" fill="#3f43b2" stroke="none" stroke-width="0"/>
<circle cx="435.7" cy="555.5" r="3.4" fill="#4140b1" stroke="none" stroke-width="0"/>
<circle cx="436.0" cy="562.0" r="3.4" fill="#423fb1" stroke="none" stroke-width="0"/>
<circle cx="437.2" cy="567.0" r="3.4" fill="#423eb1" stroke="none" stroke-width="0"/>
<circle cx="440.3" cy="574.7" r="3.4" fill="#443cb0" stroke="none" stroke-width="0"/>
<circle cx="441.0" cy="554.0" r="3.4" fill="#443bb0" stroke="none" stroke-width="0"/>
<circle cx="443.3" cy="561.7" r="3.4" fill="#4639af" stroke="none" stroke-width="0"/>
<circle cx="444.1" cy="537.9" r="3.4" fill="#4839af" stroke="none" stroke-width="0"/>
<circle cx="446.4" cy="567.0" r="3.4" fill="#5036ad" stroke="none" stroke-width="0"/>
<circle cx="446.4" cy="574.7" r="3.4" fill="#5036ad" stroke="none" stroke-width="0"/>
<circle cx="448.0" cy="572.0" r="3.4" fill="#5534ab" stroke="none" stroke-width="0"/>
<circle cx="449.5" cy="557.8" r="3.4" fill="#5933aa" stroke="none" stroke-width="0"/>
<circle cx="450.0" cy="566.0" r="3.4" fill="#5b32a9" stroke="none" stroke-width="0"/>
<circle cx="452.0" cy="560.0" r="3.4" fill="#6130a8" stroke="none" stroke-width="0"/>
<circle cx="452.5" cy="583.9" r="3.4" fill="#6330a7" stroke="none" stroke-width="0"/>
<circle cx="454.0" cy="562.4" r="3.4" fill="#682ea6" stroke="none" stroke-width="0"/>
<circle cx="455.0" cy="570.0" r="3.4" fill="#6b2da5" stroke="none" stroke-width="0"/>
<circle cx="455.6" cy="554.0" r="3.4" fill="#6d2ca4" stroke="none" stroke-width="0"/>
<circle cx="457.9" cy="575.5" r="3.4" fill="#762b9f" stroke="none" stroke-width="0"/>
<circle cx="458.6" cy="568.6" r="3.4" fill="#792b9c" stroke="none" stroke-width="0"/>
<circle cx="460.0" cy="565.0" r="3.4" fill="#7f2a97" stroke="none" stroke-width="0"/>
<circle cx="462.0" cy="578.0" r="3.4" fill="#872a91" stroke="none" stroke-width="0"/>
<circle cx="464.0" cy="571.6" r="3.4" fill="#90298a" stroke="none" stroke-width="0"/>
<circle cx="464.0" cy="583.1" r="3.4" fill="#90298a" stroke="none" stroke-width="0"/>
<circle cx="466.3" cy="576.2" r="3.4" fill="#9a2982" stroke="none" stroke-width="0"/>
<circle cx="467.8" cy="559.4" r="3.4" fill="#a1287d" stroke="none" stroke-width="0"/>
<circle cx="468.6" cy="587.0" r="3.4" fill="#a4287a" stroke="none" stroke-width="0"/>
<circle cx="469.4" cy="568.6" r="3.4" fill="#a82877" stroke="none" stroke-width="0"/>
<circle cx="470.0" cy="575.0" r="3.4" fill="#aa2875" stroke="none" stroke-width="0"/>
<circle cx="472.0" cy="566.0" r="3.4" fill="#b1286d" stroke="none" stroke-width="0"/>
<circle cx="473.2" cy="564.0" r="3.4" fill="#b52968" stroke="none" stroke-width="0"/>
<circle cx="475.0" cy="579.0" r="3.4" fill="#bb2961" stroke="none" stroke-width="0"/>
<circle cx="477.8" cy="572.4" r="3.4" fill="#c42a56" stroke="none" stroke-width="0"/>
<circle cx="477.8" cy="583.1" r="3.4" fill="#c42a56" stroke="none" stroke-width="0"/>
<circle cx="480.0" cy="569.0" r="3.4" fill="#cb2b4e" stroke="none" stroke-width="0"/>
<circle cx="483.2" cy="583.9" r="3.4" fill="#d62c41" stroke="none" stroke-width="0"/>
<circle cx="484.0" cy="562.1" r="3.4" fill="#d72c3f" stroke="none" stroke-width="0"/>
<circle cx="484.7" cy="578.5" r="3.4" fill="#d82d3e" stroke="none" stroke-width="0"/>
<circle cx="488.5" cy="587.0" r="3.4" fill="#de2f34" stroke="none" stroke-width="0"/>
<circle cx="492.0" cy="582.0" r="3.4" fill="#e3312b" stroke="none" stroke-width="0"/>
<circle cx="497.0" cy="577.8" r="3.4" fill="#e83424" stroke="none" stroke-width="0"/>
<circle cx="497.0" cy="586.2" r="3.4" fill="#e83424" stroke="none" stroke-width="0"/>
<circle cx="498.5" cy="580.1" r="3.4" fill="#e83424" stroke="none" stroke-width="0"/>
<circle cx="499.3" cy="590.0" r="3.4" fill="#e83424" stroke="none" stroke-width="0"/>
<line x1="413.4" y1="556.3" x2="501.6" y2="584.7" stroke="#000" stroke-width="1.5" stroke-dasharray="4.5,2.5" />
<line x1="62.8" y1="499.4" x2="62.8" y2="596.4" stroke="#000" stroke-width="1.3" />
<line x1="62.2" y1="595.8" x2="161.0" y2="595.8" stroke="#000" stroke-width="1.3" />
<line x1="62.8" y1="595.8" x2="62.8" y2="599.0" stroke="#000" stroke-width="1" />
<text x="62.8" y="609.3" font-size="10.45" text-anchor="middle" fill="#1a1a1a" stroke="#1a1a1a" stroke-width="0" textLength="6.0" lengthAdjust="spacing" >0</text>
<line x1="92.8" y1="595.8" x2="92.8" y2="599.0" stroke="#000" stroke-width="1" />
<text x="92.8" y="609.3" font-size="10.45" text-anchor="middle" fill="#1a1a1a" stroke="#1a1a1a" stroke-width="0" textLength="6.0" lengthAdjust="spacing" >1</text>
<line x1="123.2" y1="595.8" x2="123.2" y2="599.0" stroke="#000" stroke-width="1" />
<text x="123.2" y="609.3" font-size="10.45" text-anchor="middle" fill="#1a1a1a" stroke="#1a1a1a" stroke-width="0" textLength="6.0" lengthAdjust="spacing" >2</text>
<line x1="59.6" y1="500.3" x2="62.8" y2="500.3" stroke="#000" stroke-width="1" />
<text x="57.0" y="503.7" font-size="10.45" text-anchor="end" fill="#1a1a1a" stroke="#1a1a1a" stroke-width="0" textLength="6.0" lengthAdjust="spacing" >8</text>
<line x1="59.6" y1="524.2" x2="62.8" y2="524.2" stroke="#000" stroke-width="1" />
<text x="57.0" y="527.6" font-size="10.45" text-anchor="end" fill="#1a1a1a" stroke="#1a1a1a" stroke-width="0" textLength="6.0" lengthAdjust="spacing" >6</text>
<line x1="59.6" y1="548.2" x2="62.8" y2="548.2" stroke="#000" stroke-width="1" />
<text x="57.0" y="551.6" font-size="10.45" text-anchor="end" fill="#1a1a1a" stroke="#1a1a1a" stroke-width="0" textLength="6.0" lengthAdjust="spacing" >4</text>
<line x1="59.6" y1="571.8" x2="62.8" y2="571.8" stroke="#000" stroke-width="1" />
<text x="57.0" y="575.2" font-size="10.45" text-anchor="end" fill="#1a1a1a" stroke="#1a1a1a" stroke-width="0" textLength="6.0" lengthAdjust="spacing" >2</text>
<line x1="59.6" y1="595.8" x2="62.8" y2="595.8" stroke="#000" stroke-width="1" />
<text x="57.0" y="599.2" font-size="10.45" text-anchor="end" fill="#1a1a1a" stroke="#1a1a1a" stroke-width="0" textLength="6.0" lengthAdjust="spacing" >0</text>
<text x="111.0" y="625.0" font-size="13.28" text-anchor="middle" fill="#1a1a1a" stroke="#1a1a1a" stroke-width="0.0" textLength="99.3" lengthAdjust="spacing" >Corrected FR at</text>
<text x="114.0" y="639.0" font-size="13.28" text-anchor="middle" fill="#1a1a1a" stroke="#1a1a1a" stroke-width="0.0" textLength="117.2" lengthAdjust="spacing" >variable cue (sp/s)</text>
<text x="39.0" y="555.0" font-size="13.28" text-anchor="middle" fill="#1a1a1a" stroke="#1a1a1a" stroke-width="0.0" textLength="116.6" lengthAdjust="spacing" transform="rotate(-90 39.0 555.0)" >Reversal point (<tspan font-style="italic">μ</tspan>l)</text>
<text x="126.0" y="512.0" font-size="11.97" text-anchor="start" fill="#1a1a1a" stroke="#1a1a1a" stroke-width="0.0" textLength="32.4" lengthAdjust="spacing" >r=0.2</text>
<text x="126.0" y="524.0" font-size="11.97" text-anchor="start" fill="#1a1a1a" stroke="#1a1a1a" stroke-width="0.0" textLength="42.2" lengthAdjust="spacing" >p=0.05</text>
<defs>
<linearGradient id="cw" x1="0" y1="1" x2="0" y2="0">
<stop offset="0" stop-color="#3b4cc0"/><stop offset="0.2" stop-color="#6282e0"/><stop offset="0.4" stop-color="#a8bfee"/>
<stop offset="0.5" stop-color="#dcdcdc"/><stop offset="0.65" stop-color="#f2b8a0"/><stop offset="0.82" stop-color="#e2725a"/><stop offset="1" stop-color="#b40426"/>
</linearGradient>
<radialGradient id="hot">
<stop offset="0" stop-color="#b40426"/><stop offset="0.5" stop-color="#cc4038"/><stop offset="0.8" stop-color="#eea890" stop-opacity="0.8"/><stop offset="1" stop-color="#f4d0c4" stop-opacity="0"/>
</radialGradient>
<radialGradient id="glow">
<stop offset="0" stop-color="#f2f2f6"/><stop offset="0.4" stop-color="#e4e8f6" stop-opacity="0.9"/><stop offset="0.7" stop-color="#a8bcf2" stop-opacity="0.55"/><stop offset="1" stop-color="#3b4fc4" stop-opacity="0"/>
</radialGradient>
<radialGradient id="hot2"><stop offset="0" stop-color="#f0c8c0"/><stop offset="0.6" stop-color="#eee0e0" stop-opacity="0.8"/><stop offset="1" stop-color="#dde4f6" stop-opacity="0"/></radialGradient>
<linearGradient id="wallL" x1="0" y1="0" x2="1" y2="0"><stop offset="0" stop-color="#ededed"/><stop offset="1" stop-color="#e4e4e4"/></linearGradient>
<linearGradient id="wallR" x1="0" y1="0" x2="1" y2="0"><stop offset="0" stop-color="#e6e6e6"/><stop offset="1" stop-color="#eeeeee"/></linearGradient>
</defs>
<rect x="205.7" y="518.4" width="5" height="96.9" fill="url(#cw)" stroke="#444" stroke-width="0.7"/>
<text x="186.0" y="568.0" font-size="13.28" text-anchor="middle" fill="#1a1a1a" stroke="#1a1a1a" stroke-width="0.0" textLength="56.1" lengthAdjust="spacing" transform="rotate(-90 186.0 568.0)" >Decoded</text>
<text x="200.0" y="568.0" font-size="13.28" text-anchor="middle" fill="#1a1a1a" stroke="#1a1a1a" stroke-width="0.0" textLength="46.4" lengthAdjust="spacing" transform="rotate(-90 200.0 568.0)" >density</text>
<text x="311.4" y="492.0" font-size="11.97" text-anchor="start" fill="#1a1a1a" stroke="#1a1a1a" stroke-width="0.0" textLength="13.2" lengthAdjust="spacing" >3s</text>
<text x="311.4" y="509.0" font-size="11.97" text-anchor="start" fill="#1a1a1a" stroke="#1a1a1a" stroke-width="0.0" textLength="46.0" lengthAdjust="spacing" >variable</text>
<path d="M227.6,535.1 L276.9,509.1 L278,705 L229.2,721.4 Z" stroke="none" stroke-width="1" fill="url(#wallL)" />
<path d="M276.9,509.1 L338.6,531.3 L335.5,716.1 L278,705 Z" stroke="none" stroke-width="1" fill="url(#wallR)" />
<path d="M229.2,721.4 L278,705 L335.5,716.1 L287.1,749.3 Z" stroke="none" stroke-width="1" fill="#e2e2e2" />
<line x1="238.0" y1="529.6" x2="238.0" y2="718.4" stroke="#c4c4c4" stroke-width="0.9" />
<line x1="248.0" y1="524.3" x2="248.0" y2="715.1" stroke="#c4c4c4" stroke-width="0.9" />
<line x1="265.5" y1="515.1" x2="265.5" y2="709.2" stroke="#c4c4c4" stroke-width="0.9" />
<line x1="288.3" y1="513.2" x2="288.3" y2="707.0" stroke="#c4c4c4" stroke-width="0.9" />
<line x1="307.3" y1="520.0" x2="307.3" y2="710.7" stroke="#c4c4c4" stroke-width="0.9" />
<line x1="329.1" y1="527.9" x2="329.1" y2="714.9" stroke="#c4c4c4" stroke-width="0.9" />
<line x1="227.6" y1="535.1" x2="276.9" y2="509.1" stroke="#d8d8d8" stroke-width="0.8" />
<line x1="276.9" y1="509.1" x2="338.6" y2="531.3" stroke="#d8d8d8" stroke-width="0.8" />
<line x1="276.9" y1="509.1" x2="278.0" y2="705.0" stroke="#d0d0d0" stroke-width="0.8" />
<line x1="227.6" y1="535.1" x2="229.2" y2="721.4" stroke="#d8d8d8" stroke-width="0.8" />
<line x1="338.6" y1="531.3" x2="335.5" y2="716.1" stroke="#333" stroke-width="1.0" />
<line x1="336.5" y1="583.2" x2="340.0" y2="583.2" stroke="#333" stroke-width="0.8" />
<text x="340.5" y="587.7" font-size="11.97" text-anchor="start" fill="#8a2a30" stroke="#8a2a30" stroke-width="0.0" textLength="13.2" lengthAdjust="spacing" >6s</text>
<line x1="336.5" y1="628.8" x2="340.0" y2="628.8" stroke="#333" stroke-width="0.8" />
<text x="340.5" y="633.3" font-size="11.97" text-anchor="start" fill="#b03a38" stroke="#b03a38" stroke-width="0.0" textLength="13.2" lengthAdjust="spacing" >3s</text>
<line x1="336.5" y1="671.0" x2="340.0" y2="671.0" stroke="#333" stroke-width="0.8" />
<text x="340.5" y="675.5" font-size="11.97" text-anchor="start" fill="#c0504a" stroke="#c0504a" stroke-width="0.0" textLength="24.1" lengthAdjust="spacing" >1.5s</text>
<line x1="336.5" y1="714.9" x2="340.0" y2="714.9" stroke="#333" stroke-width="0.8" />
<text x="340.5" y="719.4" font-size="11.97" text-anchor="start" fill="#e8a088" stroke="#e8a088" stroke-width="0.0" textLength="13.2" lengthAdjust="spacing" >0s</text>
<clipPath id="pl4"><path d="M235.5,718 L277.6,690 L328.4,712.7 L286.3,740.7 Z"/></clipPath>
<path d="M235.5,718 L277.6,690 L328.4,712.7 L286.3,740.7 Z" stroke="none" stroke-width="1" fill="#3b4fc4" />
<g clip-path="url(#pl4)">
<ellipse cx="273.5" cy="722.5" rx="18" ry="3.2" fill="url(#glow)" transform="rotate(-33 273.5 722.5)"/>
<ellipse cx="261.8" cy="730.2" rx="3.5" ry="1.6" fill="url(#hot)" transform="rotate(-33 261.8 730.2)"/>
<ellipse cx="300.3" cy="703" rx="5" ry="1.6" fill="url(#glow)" transform="rotate(-33 300.3 703)"/>
</g>
<clipPath id="pl3"><path d="M235.2,676.4 L279,647.5 L329.6,672.1 L285.8,701.0 Z"/></clipPath>
<path d="M235.2,676.4 L279,647.5 L329.6,672.1 L285.8,701.0 Z" stroke="none" stroke-width="1" fill="#3b4fc4" />
<g clip-path="url(#pl3)">
<ellipse cx="279.3" cy="677.8" rx="23" ry="6.5" fill="url(#glow)" transform="rotate(-32 279.3 677.8)"/>
<ellipse cx="278" cy="677.8" rx="14" ry="2.8" fill="url(#hot)" transform="rotate(-32 278 677.8)"/>
</g>
<clipPath id="pl2"><path d="M234.2,633.2 L278.8,607.2 L330.1,628.8 L285.5,654.8 Z"/></clipPath>
<path d="M234.2,633.2 L278.8,607.2 L330.1,628.8 L285.5,654.8 Z" stroke="none" stroke-width="1" fill="#3b4fc4" />
<g clip-path="url(#pl2)">
<ellipse cx="287" cy="630" rx="23" ry="6" fill="url(#glow)" transform="rotate(-31 287 630)"/>
<ellipse cx="286.4" cy="629.9" rx="14" ry="2.5" fill="url(#hot)" transform="rotate(-29 286.4 629.9)"/>
</g>
<clipPath id="pl1"><path d="M232.9,587.3 L277.9,563 L331,583.1 L286.0,607.4 Z"/></clipPath>
<path d="M232.9,587.3 L277.9,563 L331,583.1 L286.0,607.4 Z" stroke="none" stroke-width="1" fill="#3b4fc4" />
<g clip-path="url(#pl1)">
<ellipse cx="289" cy="579.6" rx="24" ry="6" fill="url(#glow)" transform="rotate(-30 289 579.6)"/>
<ellipse cx="296.5" cy="575.8" rx="12" ry="2.4" fill="url(#hot)" transform="rotate(-27 296.5 575.8)"/>
<ellipse cx="259.9" cy="597.7" rx="6" ry="2" fill="url(#glow)" transform="rotate(-30 259.9 597.7)"/>
</g>
<clipPath id="pl0"><path d="M231.8,540.2 L276.9,517.1 L332,535.7 L286.9,558.8 Z"/></clipPath>
<path d="M231.8,540.2 L276.9,517.1 L332,535.7 L286.9,558.8 Z" stroke="none" stroke-width="1" fill="#3b4fc4" />
<g clip-path="url(#pl0)">
<ellipse cx="279" cy="540.5" rx="36" ry="12" fill="url(#glow)" transform="rotate(-6 279 540.5)"/>
<ellipse cx="275" cy="539.9" rx="12" ry="6.5" fill="url(#hot)" transform="rotate(-4 275 539.9)"/>
<ellipse cx="292" cy="545.5" rx="6" ry="3.5" fill="url(#hot2)" transform="rotate(-5 292 545.5)"/>
</g>
<line x1="229.2" y1="721.4" x2="287.1" y2="749.3" stroke="#222" stroke-width="1.1" />
<line x1="287.1" y1="749.3" x2="335.5" y2="716.1" stroke="#222" stroke-width="1.1" />
<text x="233.0" y="740.0" font-size="10.45" text-anchor="middle" fill="#1a1a1a" stroke="#1a1a1a" stroke-width="0" textLength="6.0" lengthAdjust="spacing" >8</text>
<text x="252.4" y="749.5" font-size="10.45" text-anchor="middle" fill="#1a1a1a" stroke="#1a1a1a" stroke-width="0" textLength="15.1" lengthAdjust="spacing" >4.5</text>
<text x="272.0" y="760.0" font-size="10.45" text-anchor="middle" fill="#1a1a1a" stroke="#1a1a1a" stroke-width="0" textLength="6.0" lengthAdjust="spacing" >1</text>
<text x="296.6" y="760.0" font-size="10.45" text-anchor="middle" fill="#1a1a1a" stroke="#1a1a1a" stroke-width="0" textLength="6.0" lengthAdjust="spacing" >0</text>
<text x="307.6" y="753.0" font-size="10.45" text-anchor="middle" fill="#1a1a1a" stroke="#1a1a1a" stroke-width="0" textLength="15.1" lengthAdjust="spacing" >1.5</text>
<text x="313.7" y="744.0" font-size="10.45" text-anchor="middle" fill="#1a1a1a" stroke="#1a1a1a" stroke-width="0" textLength="6.0" lengthAdjust="spacing" >3</text>
<text x="328.9" y="736.0" font-size="10.45" text-anchor="middle" fill="#1a1a1a" stroke="#1a1a1a" stroke-width="0" textLength="6.0" lengthAdjust="spacing" >6</text>
<text x="246.5" y="787.0" font-size="13.28" text-anchor="middle" fill="#1a1a1a" stroke="#1a1a1a" stroke-width="0.0" textLength="92.5" lengthAdjust="spacing" transform="rotate(26.6 246.5 787.0)" >Magnitude (<tspan font-style="italic">μ</tspan>l)</text>
<text x="322.5" y="778.0" font-size="13.28" text-anchor="middle" fill="#1a1a1a" stroke="#1a1a1a" stroke-width="0.0" textLength="31.3" lengthAdjust="spacing" transform="rotate(-32.5 322.5 778.0)" >Time</text>
<text x="332.5" y="786.5" font-size="13.28" text-anchor="middle" fill="#1a1a1a" stroke="#1a1a1a" stroke-width="0.0" textLength="80.1" lengthAdjust="spacing" transform="rotate(-33.2 332.5 786.5)" >since cue (s)</text>
<line x1="409.1" y1="498.0" x2="409.1" y2="595.1" stroke="#000" stroke-width="1.3" />
<line x1="408.5" y1="594.5" x2="505.5" y2="594.5" stroke="#000" stroke-width="1.3" />
<line x1="425.4" y1="594.5" x2="425.4" y2="597.7" stroke="#000" stroke-width="1" />
<text x="425.4" y="608.0" font-size="10.45" text-anchor="middle" fill="#1a1a1a" stroke="#1a1a1a" stroke-width="0" textLength="6.0" lengthAdjust="spacing" >2</text>
<line x1="451.2" y1="594.5" x2="451.2" y2="597.7" stroke="#000" stroke-width="1" />
<text x="451.2" y="608.0" font-size="10.45" text-anchor="middle" fill="#1a1a1a" stroke="#1a1a1a" stroke-width="0" textLength="6.0" lengthAdjust="spacing" >4</text>
<line x1="476.9" y1="594.5" x2="476.9" y2="597.7" stroke="#000" stroke-width="1" />
<text x="476.9" y="608.0" font-size="10.45" text-anchor="middle" fill="#1a1a1a" stroke="#1a1a1a" stroke-width="0" textLength="6.0" lengthAdjust="spacing" >6</text>
<line x1="501.9" y1="594.5" x2="501.9" y2="597.7" stroke="#000" stroke-width="1" />
<text x="501.9" y="608.0" font-size="10.45" text-anchor="middle" fill="#1a1a1a" stroke="#1a1a1a" stroke-width="0" textLength="6.0" lengthAdjust="spacing" >8</text>
<line x1="405.9" y1="534.9" x2="409.1" y2="534.9" stroke="#000" stroke-width="1" />
<text x="403.3" y="538.3" font-size="10.45" text-anchor="end" fill="#1a1a1a" stroke="#1a1a1a" stroke-width="0" textLength="6.0" lengthAdjust="spacing" >4</text>
<line x1="405.9" y1="570.9" x2="409.1" y2="570.9" stroke="#000" stroke-width="1" />
<text x="403.3" y="574.3" font-size="10.45" text-anchor="end" fill="#1a1a1a" stroke="#1a1a1a" stroke-width="0" textLength="6.0" lengthAdjust="spacing" >0</text>
<text x="457.0" y="625.0" font-size="13.28" text-anchor="middle" fill="#1a1a1a" stroke="#1a1a1a" stroke-width="0.0" textLength="116.6" lengthAdjust="spacing" >Reversal point (<tspan font-style="italic">μ</tspan>l)</text>
<text x="390.0" y="550.0" font-size="13.28" text-anchor="middle" fill="#1a1a1a" stroke="#1a1a1a" stroke-width="0.0" textLength="164.6" lengthAdjust="spacing" transform="rotate(-90 390.0 550.0)" >Δ FR certain reward (sp/s)</text>
<text x="457.0" y="527.0" font-size="11.97" text-anchor="start" fill="#1a1a1a" stroke="#1a1a1a" stroke-width="0.0" textLength="43.7" lengthAdjust="spacing" >r=-0.65</text>
<text x="457.0" y="538.0" font-size="11.97" text-anchor="start" fill="#1a1a1a" stroke="#1a1a1a" stroke-width="0.0" textLength="42.2" lengthAdjust="spacing" >p&lt;0.01</text>
<circle cx="619.0" cy="530.0" r="3.75" fill="#000" stroke="#fff" stroke-width="0.9"/>
<circle cx="609.1" cy="547.7" r="3.75" fill="#000" stroke="#fff" stroke-width="0.9"/>
<circle cx="605.4" cy="536.7" r="3.75" fill="#000" stroke="#fff" stroke-width="0.9"/>
<circle cx="622.6" cy="577.7" r="3.75" fill="#000" stroke="#fff" stroke-width="0.9"/>
<circle cx="620.1" cy="552.0" r="3.75" fill="#000" stroke="#fff" stroke-width="0.9"/>
<circle cx="624.4" cy="561.8" r="3.75" fill="#000" stroke="#fff" stroke-width="0.9"/>
<circle cx="606.0" cy="553.6" r="3.75" fill="#000" stroke="#fff" stroke-width="0.9"/>
<circle cx="597.0" cy="540.0" r="3.75" fill="#000" stroke="#fff" stroke-width="0.9"/>
<circle cx="598.0" cy="534.0" r="3.75" fill="#000" stroke="#fff" stroke-width="0.9"/>
<circle cx="612.2" cy="559.3" r="3.75" fill="#000" stroke="#fff" stroke-width="0.9"/>
<circle cx="615.0" cy="551.4" r="3.75" fill="#000" stroke="#fff" stroke-width="0.9"/>
<circle cx="608.0" cy="556.0" r="3.75" fill="#000" stroke="#fff" stroke-width="0.9"/>
<circle cx="611.0" cy="546.0" r="3.75" fill="#000" stroke="#fff" stroke-width="0.9"/>
<circle cx="596.2" cy="575.6" r="3.75" fill="#000" stroke="#fff" stroke-width="0.9"/>
<circle cx="617.7" cy="558.7" r="3.75" fill="#000" stroke="#fff" stroke-width="0.9"/>
<circle cx="601.8" cy="540.3" r="3.75" fill="#000" stroke="#fff" stroke-width="0.9"/>
<circle cx="618.9" cy="545.2" r="3.75" fill="#000" stroke="#fff" stroke-width="0.9"/>
<circle cx="609.0" cy="562.0" r="3.75" fill="#000" stroke="#fff" stroke-width="0.9"/>
<circle cx="612.2" cy="541.6" r="3.75" fill="#000" stroke="#fff" stroke-width="0.9"/>
<circle cx="625.0" cy="548.0" r="3.75" fill="#000" stroke="#fff" stroke-width="0.9"/>
<circle cx="637.3" cy="546.5" r="3.75" fill="#000" stroke="#fff" stroke-width="0.9"/>
<circle cx="601.5" cy="510.7" r="3.75" fill="#000" stroke="#fff" stroke-width="0.9"/>
<circle cx="600.0" cy="560.0" r="3.75" fill="#000" stroke="#fff" stroke-width="0.9"/>
<circle cx="575.8" cy="584.4" r="3.75" fill="#000" stroke="#fff" stroke-width="0.9"/>
<circle cx="635.1" cy="512.2" r="3.75" fill="#000" stroke="#fff" stroke-width="0.9"/>
<circle cx="598.7" cy="528.7" r="3.75" fill="#000" stroke="#fff" stroke-width="0.9"/>
<circle cx="622.6" cy="534.8" r="3.75" fill="#000" stroke="#fff" stroke-width="0.9"/>
<circle cx="585.2" cy="558.7" r="3.75" fill="#000" stroke="#fff" stroke-width="0.9"/>
<circle cx="622.0" cy="553.0" r="3.75" fill="#000" stroke="#fff" stroke-width="0.9"/>
<circle cx="591.3" cy="529.9" r="3.75" fill="#000" stroke="#fff" stroke-width="0.9"/>
<circle cx="590.1" cy="587.1" r="3.75" fill="#000" stroke="#fff" stroke-width="0.9"/>
<circle cx="593.8" cy="553.2" r="3.75" fill="#000" stroke="#fff" stroke-width="0.9"/>
<circle cx="621.4" cy="542.2" r="3.75" fill="#000" stroke="#fff" stroke-width="0.9"/>
<circle cx="626.0" cy="540.0" r="3.75" fill="#000" stroke="#fff" stroke-width="0.9"/>
<circle cx="596.0" cy="548.0" r="3.75" fill="#000" stroke="#fff" stroke-width="0.9"/>
<circle cx="613.0" cy="531.0" r="3.75" fill="#000" stroke="#fff" stroke-width="0.9"/>
<circle cx="603.0" cy="543.4" r="3.75" fill="#000" stroke="#fff" stroke-width="0.9"/>
<circle cx="612.8" cy="528.1" r="3.75" fill="#000" stroke="#fff" stroke-width="0.9"/>
<circle cx="629.3" cy="529.3" r="3.75" fill="#000" stroke="#fff" stroke-width="0.9"/>
<circle cx="604.2" cy="548.9" r="3.75" fill="#000" stroke="#fff" stroke-width="0.9"/>
<circle cx="616.5" cy="536.7" r="3.75" fill="#000" stroke="#fff" stroke-width="0.9"/>
<circle cx="615.2" cy="583.8" r="3.75" fill="#000" stroke="#fff" stroke-width="0.9"/>
<circle cx="603.0" cy="528.0" r="3.75" fill="#000" stroke="#fff" stroke-width="0.9"/>
<circle cx="631.0" cy="540.0" r="3.75" fill="#000" stroke="#fff" stroke-width="0.9"/>
<circle cx="629.9" cy="534.2" r="3.75" fill="#000" stroke="#fff" stroke-width="0.9"/>
<circle cx="597.8" cy="524.4" r="3.75" fill="#000" stroke="#fff" stroke-width="0.9"/>
<circle cx="624.4" cy="528.7" r="3.75" fill="#000" stroke="#fff" stroke-width="0.9"/>
<circle cx="585.2" cy="544.0" r="3.75" fill="#000" stroke="#fff" stroke-width="0.9"/>
<circle cx="630.0" cy="549.5" r="3.75" fill="#000" stroke="#fff" stroke-width="0.9"/>
<circle cx="614.0" cy="566.1" r="3.75" fill="#000" stroke="#fff" stroke-width="0.9"/>
<circle cx="629.3" cy="557.5" r="3.75" fill="#000" stroke="#fff" stroke-width="0.9"/>
<circle cx="608.5" cy="534.8" r="3.75" fill="#000" stroke="#fff" stroke-width="0.9"/>
<circle cx="610.3" cy="518.3" r="3.75" fill="#000" stroke="#fff" stroke-width="0.9"/>
<circle cx="590.7" cy="540.3" r="3.75" fill="#000" stroke="#fff" stroke-width="0.9"/>
<circle cx="627.0" cy="562.0" r="3.75" fill="#000" stroke="#fff" stroke-width="0.9"/>
<circle cx="593.2" cy="543.4" r="3.75" fill="#000" stroke="#fff" stroke-width="0.9"/>
<circle cx="620.1" cy="567.3" r="3.75" fill="#000" stroke="#fff" stroke-width="0.9"/>
<circle cx="599.3" cy="555.0" r="3.75" fill="#000" stroke="#fff" stroke-width="0.9"/>
<circle cx="610.9" cy="510.7" r="3.75" fill="#000" stroke="#fff" stroke-width="0.9"/>
<circle cx="621.4" cy="516.4" r="3.75" fill="#000" stroke="#fff" stroke-width="0.9"/>
<circle cx="585.2" cy="526.6" r="3.75" fill="#000" stroke="#fff" stroke-width="0.9"/>
<circle cx="607.3" cy="528.7" r="3.75" fill="#000" stroke="#fff" stroke-width="0.9"/>
<circle cx="614.0" cy="556.0" r="3.75" fill="#000" stroke="#fff" stroke-width="0.9"/>
<circle cx="634.0" cy="554.0" r="3.75" fill="#000" stroke="#fff" stroke-width="0.9"/>
<circle cx="592.6" cy="534.8" r="3.75" fill="#000" stroke="#fff" stroke-width="0.9"/>
<circle cx="640.3" cy="575.2" r="3.75" fill="#000" stroke="#fff" stroke-width="0.9"/>
<circle cx="603.6" cy="561.8" r="3.75" fill="#000" stroke="#fff" stroke-width="0.9"/>
<line x1="589.5" y1="498.9" x2="624.0" y2="498.9" stroke="#000" stroke-width="1.3" />
<path d="M594,494.5 L589.3,498.9 L594,503.3" stroke="#000" stroke-width="1.3" fill="none" />
<path d="M619.5,494.5 L624.2,498.9 L619.5,503.3" stroke="#000" stroke-width="1.3" fill="none" />
<line x1="662.6" y1="495.5" x2="662.6" y2="588.7" stroke="#000" stroke-width="1.3" />
<path d="M658.2,500 L662.6,495.3 L667,500" stroke="#000" stroke-width="1.3" fill="none" />
<path d="M658.2,584.2 L662.6,588.9 L667,584.2" stroke="#000" stroke-width="1.3" fill="none" />
<path d="M67.7,777.3 C69.0,775.4 72.8,770.3 75.3,765.8 C77.8,761.3 80.6,754.2 83.0,750.5 C85.4,746.8 87.6,745.1 89.9,743.6 C92.2,742.1 94.9,743.5 96.8,741.3 C98.7,739.1 99.9,736.0 101.4,730.6 C102.9,725.2 104.7,713.8 106.0,709.1 C107.3,704.5 108.2,702.7 109.4,702.7 C110.6,702.7 111.4,703.2 112.9,709.1 C114.4,715.0 116.3,728.8 118.2,738.2 C120.1,747.7 122.4,759.5 124.4,765.8 C126.5,772.1 128.2,775.3 130.5,775.8 C132.8,776.3 135.6,771.6 138.2,768.9 C140.8,766.2 143.5,760.0 145.8,759.7 C148.1,759.5 150.3,764.9 152.0,767.4 C153.7,769.9 155.2,773.7 155.8,775.0" stroke="#f0c090" stroke-width="3.0" fill="none" stroke-opacity="0.6"/>
<path d="M67.7,741.3 C68.7,738.8 72.0,729.5 73.8,726.0 C75.6,722.5 76.6,720.4 78.4,720.6 C80.2,720.9 82.0,722.5 84.5,727.5 C87.0,732.5 90.6,743.9 93.7,750.5 C96.8,757.1 99.3,763.4 102.9,767.4 C106.5,771.4 111.4,773.8 115.2,774.3 C119.0,774.8 122.3,774.4 125.9,770.4 C129.5,766.4 133.4,755.8 136.6,750.5 C139.8,745.2 142.5,739.9 145.1,738.6 C147.7,737.3 150.1,740.3 152.0,742.8 C153.9,745.2 155.6,751.5 156.3,753.3" stroke="#90c090" stroke-width="3.0" fill="none" stroke-opacity="0.5"/>
<path d="M67.7,777.3 C69.0,775.4 72.8,770.3 75.3,765.8 C77.8,761.3 80.6,754.2 83.0,750.5 C85.4,746.8 87.6,745.1 89.9,743.6 C92.2,742.1 94.9,743.5 96.8,741.3 C98.7,739.1 99.9,736.0 101.4,730.6 C102.9,725.2 104.7,713.8 106.0,709.1 C107.3,704.5 108.2,702.7 109.4,702.7 C110.6,702.7 111.4,703.2 112.9,709.1 C114.4,715.0 116.3,728.8 118.2,738.2 C120.1,747.7 122.4,759.5 124.4,765.8 C126.5,772.1 128.2,775.3 130.5,775.8 C132.8,776.3 135.6,771.6 138.2,768.9 C140.8,766.2 143.5,760.0 145.8,759.7 C148.1,759.5 150.3,764.9 152.0,767.4 C153.7,769.9 155.2,773.7 155.8,775.0" stroke="#e8963a" stroke-width="2.0" fill="none" />
<path d="M67.7,741.3 C68.7,738.8 72.0,729.5 73.8,726.0 C75.6,722.5 76.6,720.4 78.4,720.6 C80.2,720.9 82.0,722.5 84.5,727.5 C87.0,732.5 90.6,743.9 93.7,750.5 C96.8,757.1 99.3,763.4 102.9,767.4 C106.5,771.4 111.4,773.8 115.2,774.3 C119.0,774.8 122.3,774.4 125.9,770.4 C129.5,766.4 133.4,755.8 136.6,750.5 C139.8,745.2 142.5,739.9 145.1,738.6 C147.7,737.3 150.1,740.3 152.0,742.8 C153.9,745.2 155.6,751.5 156.3,753.3" stroke="#3a8a3a" stroke-width="2.0" fill="none" />
<path d="M67.7,763.5 C68.7,761.3 71.6,753.6 73.8,750.5 C76.0,747.4 77.9,745.2 80.7,745.1 C83.5,745.0 86.5,748.3 90.7,749.7 C94.9,751.1 100.9,753.0 106.0,753.6 C111.1,754.2 116.7,754.4 121.3,753.6 C125.9,752.8 130.0,750.3 133.6,749.0 C137.2,747.7 140.0,745.4 142.8,745.9 C145.6,746.4 148.2,749.1 150.4,752.0 C152.7,754.9 155.3,761.6 156.3,763.5" stroke="#111" stroke-width="1.7" fill="none" />
<line x1="569.4" y1="498.0" x2="569.4" y2="595.1" stroke="#000" stroke-width="1.3" />
<line x1="568.8" y1="594.5" x2="665.8" y2="594.5" stroke="#000" stroke-width="1.3" />
<line x1="572.8" y1="594.5" x2="572.8" y2="597.7" stroke="#000" stroke-width="1" />
<text x="572.8" y="608.0" font-size="10.45" text-anchor="middle" fill="#1a1a1a" stroke="#1a1a1a" stroke-width="0" textLength="15.1" lengthAdjust="spacing" >0.2</text>
<line x1="663.2" y1="594.5" x2="663.2" y2="597.7" stroke="#000" stroke-width="1" />
<text x="663.2" y="608.0" font-size="10.45" text-anchor="middle" fill="#1a1a1a" stroke="#1a1a1a" stroke-width="0" textLength="15.1" lengthAdjust="spacing" >1.8</text>
<line x1="566.2" y1="501.5" x2="569.4" y2="501.5" stroke="#000" stroke-width="1" />
<text x="563.6" y="504.9" font-size="10.45" text-anchor="end" fill="#1a1a1a" stroke="#1a1a1a" stroke-width="0" textLength="15.1" lengthAdjust="spacing" >1.8</text>
<line x1="566.2" y1="592.7" x2="569.4" y2="592.7" stroke="#000" stroke-width="1" />
<text x="563.6" y="596.1" font-size="10.45" text-anchor="end" fill="#1a1a1a" stroke="#1a1a1a" stroke-width="0" textLength="15.1" lengthAdjust="spacing" >0.2</text>
<text x="617.0" y="625.0" font-size="13.28" text-anchor="middle" fill="#1a1a1a" stroke="#1a1a1a" stroke-width="0.0" textLength="130.4" lengthAdjust="spacing" >FR certain cue (sp/s)</text>
<text x="542.0" y="548.0" font-size="13.28" text-anchor="middle" fill="#1a1a1a" stroke="#1a1a1a" stroke-width="0.0" textLength="137.3" lengthAdjust="spacing" transform="rotate(-90 542.0 548.0)" >FR variable cue (sp/s)</text>
<text x="605.0" y="488.0" font-size="10.45" text-anchor="middle" fill="#1a1a1a" stroke="#1a1a1a" stroke-width="0" textLength="44.5" lengthAdjust="spacing" >var=0.05</text>
<text x="656.0" y="488.0" font-size="10.45" text-anchor="middle" fill="#1a1a1a" stroke="#1a1a1a" stroke-width="0" textLength="41.2" lengthAdjust="spacing" >p=0.093</text>
<text x="677.0" y="543.0" font-size="10.45" text-anchor="middle" fill="#1a1a1a" stroke="#1a1a1a" stroke-width="0" textLength="44.5" lengthAdjust="spacing" transform="rotate(-90 677.0 543.0)" >var=0.13</text>
<line x1="63.6" y1="685.3" x2="63.6" y2="782.8" stroke="#000" stroke-width="1.3" />
<line x1="63.0" y1="782.2" x2="160.6" y2="782.2" stroke="#000" stroke-width="1.3" />
<line x1="78.2" y1="782.2" x2="78.2" y2="785.4" stroke="#000" stroke-width="1" />
<text x="78.2" y="795.7" font-size="10.45" text-anchor="middle" fill="#1a1a1a" stroke="#1a1a1a" stroke-width="0" textLength="6.0" lengthAdjust="spacing" >1</text>
<line x1="112.4" y1="782.2" x2="112.4" y2="785.4" stroke="#000" stroke-width="1" />
<text x="112.4" y="795.7" font-size="10.45" text-anchor="middle" fill="#1a1a1a" stroke="#1a1a1a" stroke-width="0" textLength="15.1" lengthAdjust="spacing" >4.5</text>
<line x1="146.0" y1="782.2" x2="146.0" y2="785.4" stroke="#000" stroke-width="1" />
<text x="146.0" y="795.7" font-size="10.45" text-anchor="middle" fill="#1a1a1a" stroke="#1a1a1a" stroke-width="0" textLength="6.0" lengthAdjust="spacing" >8</text>
<line x1="60.4" y1="781.6" x2="63.6" y2="781.6" stroke="#000" stroke-width="1" />
<text x="57.8" y="785.0" font-size="10.45" text-anchor="end" fill="#1a1a1a" stroke="#1a1a1a" stroke-width="0" textLength="6.0" lengthAdjust="spacing" >0</text>
<text x="112.4" y="812.0" font-size="13.28" text-anchor="middle" fill="#1a1a1a" stroke="#1a1a1a" stroke-width="0.0" textLength="92.5" lengthAdjust="spacing" >Magnitude (<tspan font-style="italic">μ</tspan>l)</text>
<text x="30.5" y="739.5" font-size="13.28" text-anchor="middle" fill="#1a1a1a" stroke="#1a1a1a" stroke-width="0.0" textLength="56.1" lengthAdjust="spacing" transform="rotate(-90 30.5 739.5)" >Decoded</text>
<text x="43.5" y="740.7" font-size="13.28" text-anchor="middle" fill="#1a1a1a" stroke="#1a1a1a" stroke-width="0.0" textLength="82.2" lengthAdjust="spacing" transform="rotate(-90 43.5 740.7)" >density (A.U)</text>
<text x="129.0" y="687.7" font-size="11.97" text-anchor="start" fill="#e8963a" stroke="#e8963a" stroke-width="0.0" textLength="35.6" lengthAdjust="spacing" >at cue</text>
<text x="129.0" y="704.5" font-size="11.97" text-anchor="start" fill="#3a8a3a" stroke="#3a8a3a" stroke-width="0.0" textLength="55.0" lengthAdjust="spacing" >at reward</text>
<text x="129.0" y="721.7" font-size="11.97" text-anchor="start" fill="#111" stroke="#111" stroke-width="0.0" textLength="23.4" lengthAdjust="spacing" >true</text>
<circle cx="470.0" cy="730.0" r="3.5" fill="#6cc04a" stroke="#fff" stroke-width="0.8"/>
<circle cx="458.0" cy="710.0" r="3.5" fill="#6cc04a" stroke="#fff" stroke-width="0.8"/>
<circle cx="457.3" cy="690.5" r="3.5" fill="#6cc04a" stroke="#fff" stroke-width="0.8"/>
<circle cx="453.2" cy="726.7" r="3.5" fill="#c83a9a" stroke="#fff" stroke-width="0.8"/>
<circle cx="483.1" cy="700.7" r="3.5" fill="#c83a9a" stroke="#fff" stroke-width="0.8"/>
<circle cx="470.0" cy="702.6" r="3.5" fill="#6cc04a" stroke="#fff" stroke-width="0.8"/>
<circle cx="484.0" cy="713.0" r="3.5" fill="#6cc04a" stroke="#fff" stroke-width="0.8"/>
<circle cx="464.9" cy="720.1" r="3.5" fill="#6cc04a" stroke="#fff" stroke-width="0.8"/>
<circle cx="443.7" cy="760.0" r="3.5" fill="#c83a9a" stroke="#fff" stroke-width="0.8"/>
<circle cx="452.0" cy="712.0" r="3.5" fill="#6cc04a" stroke="#fff" stroke-width="0.8"/>
<circle cx="471.0" cy="736.0" r="3.5" fill="#c83a9a" stroke="#fff" stroke-width="0.8"/>
<circle cx="478.0" cy="722.0" r="3.5" fill="#6cc04a" stroke="#fff" stroke-width="0.8"/>
<circle cx="473.6" cy="704.8" r="3.5" fill="#6cc04a" stroke="#fff" stroke-width="0.8"/>
<circle cx="475.8" cy="723.1" r="3.5" fill="#c83a9a" stroke="#fff" stroke-width="0.8"/>
<circle cx="456.8" cy="716.2" r="3.5" fill="#6cc04a" stroke="#fff" stroke-width="0.8"/>
<circle cx="464.9" cy="730.4" r="3.5" fill="#c83a9a" stroke="#fff" stroke-width="0.8"/>
<circle cx="481.6" cy="707.0" r="3.5" fill="#6cc04a" stroke="#fff" stroke-width="0.8"/>
<circle cx="462.0" cy="718.0" r="3.5" fill="#6cc04a" stroke="#fff" stroke-width="0.8"/>
<circle cx="434.9" cy="755.9" r="3.5" fill="#c83a9a" stroke="#fff" stroke-width="0.8"/>
<circle cx="468.0" cy="708.0" r="3.5" fill="#6cc04a" stroke="#fff" stroke-width="0.8"/>
<circle cx="443.7" cy="727.4" r="3.5" fill="#c83a9a" stroke="#fff" stroke-width="0.8"/>
<circle cx="458.3" cy="738.4" r="3.5" fill="#c83a9a" stroke="#fff" stroke-width="0.8"/>
<circle cx="472.2" cy="711.4" r="3.5" fill="#6cc04a" stroke="#fff" stroke-width="0.8"/>
<circle cx="459.0" cy="727.0" r="3.5" fill="#6cc04a" stroke="#fff" stroke-width="0.8"/>
<circle cx="448.1" cy="753.7" r="3.5" fill="#c83a9a" stroke="#fff" stroke-width="0.8"/>
<circle cx="450.0" cy="748.0" r="3.5" fill="#c83a9a" stroke="#fff" stroke-width="0.8"/>
<circle cx="438.3" cy="731.4" r="3.5" fill="#6cc04a" stroke="#fff" stroke-width="0.8"/>
<circle cx="470.4" cy="745.7" r="3.5" fill="#6cc04a" stroke="#fff" stroke-width="0.8"/>
<circle cx="436.8" cy="776.6" r="3.5" fill="#c83a9a" stroke="#fff" stroke-width="0.8"/>
<circle cx="447.3" cy="721.6" r="3.5" fill="#6cc04a" stroke="#fff" stroke-width="0.8"/>
<circle cx="463.4" cy="756.2" r="3.5" fill="#c83a9a" stroke="#fff" stroke-width="0.8"/>
<circle cx="466.0" cy="724.0" r="3.5" fill="#6cc04a" stroke="#fff" stroke-width="0.8"/>
<circle cx="447.3" cy="734.0" r="3.5" fill="#c83a9a" stroke="#fff" stroke-width="0.8"/>
<circle cx="483.8" cy="720.1" r="3.5" fill="#c83a9a" stroke="#fff" stroke-width="0.8"/>
<circle cx="421.8" cy="758.5" r="3.5" fill="#c83a9a" stroke="#fff" stroke-width="0.8"/>
<circle cx="478.0" cy="715.0" r="3.5" fill="#6cc04a" stroke="#fff" stroke-width="0.8"/>
<circle cx="413.0" cy="777.1" r="3.5" fill="#6cc04a" stroke="#fff" stroke-width="0.8"/>
<circle cx="475.8" cy="689.9" r="3.5" fill="#6cc04a" stroke="#fff" stroke-width="0.8"/>
<circle cx="498.4" cy="701.2" r="3.5" fill="#6cc04a" stroke="#fff" stroke-width="0.8"/>
<circle cx="444.4" cy="743.5" r="3.5" fill="#c83a9a" stroke="#fff" stroke-width="0.8"/>
<circle cx="455.0" cy="733.0" r="3.5" fill="#c83a9a" stroke="#fff" stroke-width="0.8"/>
<circle cx="501.4" cy="694.9" r="3.5" fill="#c83a9a" stroke="#fff" stroke-width="0.8"/>
<circle cx="476.0" cy="706.0" r="3.5" fill="#6cc04a" stroke="#fff" stroke-width="0.8"/>
<circle cx="467.8" cy="716.5" r="3.5" fill="#6cc04a" stroke="#fff" stroke-width="0.8"/>
<circle cx="474.0" cy="714.0" r="3.5" fill="#6cc04a" stroke="#fff" stroke-width="0.8"/>
<circle cx="480.9" cy="732.6" r="3.5" fill="#c83a9a" stroke="#fff" stroke-width="0.8"/>
<circle cx="460.5" cy="723.8" r="3.5" fill="#6cc04a" stroke="#fff" stroke-width="0.8"/>
<circle cx="486.0" cy="720.0" r="3.5" fill="#6cc04a" stroke="#fff" stroke-width="0.8"/>
<circle cx="463.4" cy="712.1" r="3.5" fill="#6cc04a" stroke="#fff" stroke-width="0.8"/>
<circle cx="478.0" cy="728.2" r="3.5" fill="#c83a9a" stroke="#fff" stroke-width="0.8"/>
<circle cx="467.0" cy="696.8" r="3.5" fill="#c83a9a" stroke="#fff" stroke-width="0.8"/>
<circle cx="480.9" cy="711.4" r="3.5" fill="#6cc04a" stroke="#fff" stroke-width="0.8"/>
<circle cx="439.3" cy="751.5" r="3.5" fill="#c83a9a" stroke="#fff" stroke-width="0.8"/>
<circle cx="448.1" cy="740.6" r="3.5" fill="#c83a9a" stroke="#fff" stroke-width="0.8"/>
<circle cx="437.1" cy="768.3" r="3.5" fill="#c83a9a" stroke="#fff" stroke-width="0.8"/>
<circle cx="441.0" cy="746.0" r="3.5" fill="#c83a9a" stroke="#fff" stroke-width="0.8"/>
<circle cx="462.7" cy="728.2" r="3.5" fill="#6cc04a" stroke="#fff" stroke-width="0.8"/>
<circle cx="454.6" cy="705.5" r="3.5" fill="#6cc04a" stroke="#fff" stroke-width="0.8"/>
<line x1="414.5" y1="776.4" x2="487.5" y2="690.2" stroke="#000" stroke-width="1.5" stroke-dasharray="4.5,2.5" />
<rect x="426" y="682.1" width="2.4" height="2.3" fill="#e0a8d8"/>
<rect x="428.3" y="681.2" width="3.8" height="3.2" fill="#d890cc"/>
<rect x="432" y="675.1" width="3.4" height="9.3" fill="#d48ac8"/>
<rect x="435.3" y="676" width="2.9" height="8.4" fill="#d48ac8"/>
<rect x="439.9" y="664.9" width="3.9" height="19.5" fill="#d890cc"/>
<rect x="443.7" y="680.2" width="3.3" height="4.2" fill="#d890cc"/>
<rect x="435.3" y="670" width="2.8" height="6" fill="#b0d8a0"/>
<rect x="438.1" y="656" width="1.8" height="28.4" fill="#8a6a60"/>
<rect x="439.9" y="657" width="1" height="8" fill="#a8c898" fill-opacity="0.7"/>
<line x1="424.6" y1="655.0" x2="424.6" y2="685.0" stroke="#000" stroke-width="1.3" />
<line x1="424.0" y1="684.4" x2="453.9" y2="684.4" stroke="#000" stroke-width="1.3" />
<line x1="439.3" y1="684.4" x2="439.3" y2="687.5" stroke="#000" stroke-width="1" />
<text x="439.3" y="698.0" font-size="7.50" text-anchor="middle" fill="#1a1a1a" stroke="#1a1a1a" stroke-width="0" textLength="4.8" lengthAdjust="spacing" >0</text>
<text x="432.5" y="707.2" font-size="10.50" text-anchor="start" fill="#1a1a1a" stroke="#1a1a1a" stroke-width="0.0" textLength="12.8" lengthAdjust="spacing" >Δ<tspan font-style="italic">γ</tspan></text>
<text x="422.5" y="669.5" font-size="10.00" text-anchor="middle" fill="#1a1a1a" stroke="#1a1a1a" stroke-width="0.0" textLength="53.3" lengthAdjust="spacing" transform="rotate(-90 422.5 669.5)" >Probability</text>
<circle cx="629.9" cy="730.4" r="3.75" fill="#000" stroke="#fff" stroke-width="0.9"/>
<circle cx="630.6" cy="716.2" r="3.75" fill="#000" stroke="#fff" stroke-width="0.9"/>
<circle cx="615.0" cy="760.0" r="3.75" fill="#000" stroke="#fff" stroke-width="0.9"/>
<circle cx="640.1" cy="757.4" r="3.75" fill="#000" stroke="#fff" stroke-width="0.9"/>
<circle cx="620.4" cy="739.9" r="3.75" fill="#000" stroke="#fff" stroke-width="0.9"/>
<circle cx="636.0" cy="758.0" r="3.75" fill="#000" stroke="#fff" stroke-width="0.9"/>
<circle cx="640.1" cy="769.8" r="3.75" fill="#000" stroke="#fff" stroke-width="0.9"/>
<circle cx="637.9" cy="742.8" r="3.75" fill="#000" stroke="#fff" stroke-width="0.9"/>
<circle cx="586.8" cy="703.1" r="3.75" fill="#000" stroke="#fff" stroke-width="0.9"/>
<circle cx="631.3" cy="755.9" r="3.75" fill="#000" stroke="#fff" stroke-width="0.9"/>
<circle cx="618.2" cy="745.0" r="3.75" fill="#000" stroke="#fff" stroke-width="0.9"/>
<circle cx="629.9" cy="769.8" r="3.75" fill="#000" stroke="#fff" stroke-width="0.9"/>
<circle cx="643.0" cy="764.7" r="3.75" fill="#000" stroke="#fff" stroke-width="0.9"/>
<circle cx="610.1" cy="750.1" r="3.75" fill="#000" stroke="#fff" stroke-width="0.9"/>
<circle cx="621.1" cy="728.9" r="3.75" fill="#000" stroke="#fff" stroke-width="0.9"/>
<circle cx="606.5" cy="723.8" r="3.75" fill="#000" stroke="#fff" stroke-width="0.9"/>
<circle cx="622.0" cy="762.0" r="3.75" fill="#000" stroke="#fff" stroke-width="0.9"/>
<circle cx="657.3" cy="772.7" r="3.75" fill="#000" stroke="#fff" stroke-width="0.9"/>
<circle cx="605.8" cy="727.0" r="3.75" fill="#000" stroke="#fff" stroke-width="0.9"/>
<circle cx="625.5" cy="729.6" r="3.75" fill="#000" stroke="#fff" stroke-width="0.9"/>
<circle cx="628.4" cy="737.7" r="3.75" fill="#000" stroke="#fff" stroke-width="0.9"/>
<circle cx="633.5" cy="763.2" r="3.75" fill="#000" stroke="#fff" stroke-width="0.9"/>
<circle cx="635.0" cy="771.2" r="3.75" fill="#000" stroke="#fff" stroke-width="0.9"/>
<circle cx="607.7" cy="743.5" r="3.75" fill="#000" stroke="#fff" stroke-width="0.9"/>
<circle cx="617.0" cy="740.0" r="3.75" fill="#000" stroke="#fff" stroke-width="0.9"/>
<circle cx="608.0" cy="748.0" r="3.75" fill="#000" stroke="#fff" stroke-width="0.9"/>
<circle cx="626.0" cy="735.0" r="3.75" fill="#000" stroke="#fff" stroke-width="0.9"/>
<circle cx="630.0" cy="760.0" r="3.75" fill="#000" stroke="#fff" stroke-width="0.9"/>
<circle cx="632.0" cy="744.2" r="3.75" fill="#000" stroke="#fff" stroke-width="0.9"/>
<circle cx="617.0" cy="715.3" r="3.75" fill="#000" stroke="#fff" stroke-width="0.9"/>
<circle cx="625.5" cy="751.5" r="3.75" fill="#000" stroke="#fff" stroke-width="0.9"/>
<circle cx="637.2" cy="764.7" r="3.75" fill="#000" stroke="#fff" stroke-width="0.9"/>
<circle cx="610.1" cy="762.5" r="3.75" fill="#000" stroke="#fff" stroke-width="0.9"/>
<circle cx="621.1" cy="756.6" r="3.75" fill="#000" stroke="#fff" stroke-width="0.9"/>
<circle cx="628.4" cy="764.7" r="3.75" fill="#000" stroke="#fff" stroke-width="0.9"/>
<circle cx="632.8" cy="739.9" r="3.75" fill="#000" stroke="#fff" stroke-width="0.9"/>
<circle cx="611.0" cy="733.0" r="3.75" fill="#000" stroke="#fff" stroke-width="0.9"/>
<circle cx="604.3" cy="736.9" r="3.75" fill="#000" stroke="#fff" stroke-width="0.9"/>
<circle cx="635.0" cy="753.0" r="3.75" fill="#000" stroke="#fff" stroke-width="0.9"/>
<circle cx="639.0" cy="750.0" r="3.75" fill="#000" stroke="#fff" stroke-width="0.9"/>
<circle cx="623.0" cy="747.0" r="3.75" fill="#000" stroke="#fff" stroke-width="0.9"/>
<circle cx="633.0" cy="731.0" r="3.75" fill="#000" stroke="#fff" stroke-width="0.9"/>
<circle cx="624.0" cy="767.3" r="3.75" fill="#000" stroke="#fff" stroke-width="0.9"/>
<circle cx="626.0" cy="744.0" r="3.75" fill="#000" stroke="#fff" stroke-width="0.9"/>
<circle cx="627.0" cy="772.0" r="3.75" fill="#000" stroke="#fff" stroke-width="0.9"/>
<circle cx="612.0" cy="745.0" r="3.75" fill="#000" stroke="#fff" stroke-width="0.9"/>
<circle cx="616.0" cy="762.5" r="3.75" fill="#000" stroke="#fff" stroke-width="0.9"/>
<circle cx="622.0" cy="755.0" r="3.75" fill="#000" stroke="#fff" stroke-width="0.9"/>
<circle cx="629.1" cy="706.3" r="3.75" fill="#000" stroke="#fff" stroke-width="0.9"/>
<circle cx="622.6" cy="735.5" r="3.75" fill="#000" stroke="#fff" stroke-width="0.9"/>
<circle cx="616.0" cy="754.5" r="3.75" fill="#000" stroke="#fff" stroke-width="0.9"/>
<circle cx="645.2" cy="738.1" r="3.75" fill="#000" stroke="#fff" stroke-width="0.9"/>
<circle cx="627.7" cy="759.6" r="3.75" fill="#000" stroke="#fff" stroke-width="0.9"/>
<circle cx="630.0" cy="750.0" r="3.75" fill="#000" stroke="#fff" stroke-width="0.9"/>
<circle cx="613.1" cy="738.4" r="3.75" fill="#000" stroke="#fff" stroke-width="0.9"/>
<circle cx="640.0" cy="762.0" r="3.75" fill="#000" stroke="#fff" stroke-width="0.9"/>
<circle cx="635.4" cy="718.2" r="3.75" fill="#000" stroke="#fff" stroke-width="0.9"/>
<circle cx="607.2" cy="715.0" r="3.75" fill="#000" stroke="#fff" stroke-width="0.9"/>
<circle cx="618.0" cy="748.0" r="3.75" fill="#000" stroke="#fff" stroke-width="0.9"/>
<circle cx="636.4" cy="734.3" r="3.75" fill="#000" stroke="#fff" stroke-width="0.9"/>
<circle cx="615.3" cy="731.1" r="3.75" fill="#000" stroke="#fff" stroke-width="0.9"/>
<circle cx="632.8" cy="749.8" r="3.75" fill="#000" stroke="#fff" stroke-width="0.9"/>
<circle cx="619.0" cy="768.0" r="3.75" fill="#000" stroke="#fff" stroke-width="0.9"/>
<circle cx="612.0" cy="757.0" r="3.75" fill="#000" stroke="#fff" stroke-width="0.9"/>
<circle cx="642.3" cy="755.9" r="3.75" fill="#000" stroke="#fff" stroke-width="0.9"/>
<line x1="578.0" y1="696.1" x2="659.3" y2="778.1" stroke="#000" stroke-width="1.5" stroke-dasharray="4.5,2.5" />
<line x1="409.1" y1="685.2" x2="409.1" y2="782.5" stroke="#000" stroke-width="1.3" />
<line x1="408.5" y1="781.9" x2="506.0" y2="781.9" stroke="#000" stroke-width="1.3" />
<line x1="426.2" y1="781.9" x2="426.2" y2="785.1" stroke="#000" stroke-width="1" />
<text x="426.2" y="795.4" font-size="10.45" text-anchor="middle" fill="#1a1a1a" stroke="#1a1a1a" stroke-width="0" textLength="15.1" lengthAdjust="spacing" >0.5</text>
<line x1="467.4" y1="781.9" x2="467.4" y2="785.1" stroke="#000" stroke-width="1" />
<text x="467.4" y="795.4" font-size="10.45" text-anchor="middle" fill="#1a1a1a" stroke="#1a1a1a" stroke-width="0" textLength="6.0" lengthAdjust="spacing" >1</text>
<line x1="405.9" y1="714.6" x2="409.1" y2="714.6" stroke="#000" stroke-width="1" />
<text x="403.3" y="718.0" font-size="10.45" text-anchor="end" fill="#1a1a1a" stroke="#1a1a1a" stroke-width="0" textLength="6.0" lengthAdjust="spacing" >1</text>
<line x1="405.9" y1="763.5" x2="409.1" y2="763.5" stroke="#000" stroke-width="1" />
<text x="403.3" y="766.9" font-size="10.45" text-anchor="end" fill="#1a1a1a" stroke="#1a1a1a" stroke-width="0" textLength="15.1" lengthAdjust="spacing" >0.5</text>
<text x="457.0" y="811.0" font-size="13.28" text-anchor="middle" fill="#1a1a1a" stroke="#1a1a1a" stroke-width="0.0" textLength="52.5" lengthAdjust="spacing" ><tspan font-style="italic">γ</tspan> before</text>
<text x="381.0" y="735.0" font-size="13.28" text-anchor="middle" fill="#1a1a1a" stroke="#1a1a1a" stroke-width="0.0" textLength="41.7" lengthAdjust="spacing" transform="rotate(-90 381.0 735.0)" ><tspan font-style="italic">γ</tspan> after</text>
<text x="482.0" y="749.0" font-size="11.97" text-anchor="start" fill="#1a1a1a" stroke="#1a1a1a" stroke-width="0.0" textLength="42.2" lengthAdjust="spacing" >p=0.07</text>
<text x="434.4" y="647.8" font-size="11.97" text-anchor="start" fill="#1a1a1a" stroke="#1a1a1a" stroke-width="0.0" textLength="85.6" lengthAdjust="spacing" >delay removed</text>
<text x="474.0" y="659.9" font-size="11.97" text-anchor="start" fill="#6cc04a" stroke="#6cc04a" stroke-width="0.0" textLength="46.7" lengthAdjust="spacing" >shortest</text>
<text x="475.0" y="670.7" font-size="11.97" text-anchor="start" fill="#c040a0" stroke="#c040a0" stroke-width="0.0" textLength="42.0" lengthAdjust="spacing" >longest</text>
<line x1="573.8" y1="684.6" x2="573.8" y2="781.6" stroke="#000" stroke-width="1.3" />
<line x1="573.2" y1="781.0" x2="671.0" y2="781.0" stroke="#000" stroke-width="1.3" />
<line x1="608.8" y1="781.0" x2="608.8" y2="784.2" stroke="#000" stroke-width="1" />
<text x="608.8" y="794.5" font-size="10.45" text-anchor="middle" fill="#1a1a1a" stroke="#1a1a1a" stroke-width="0" textLength="15.1" lengthAdjust="spacing" >0.7</text>
<line x1="635.0" y1="781.0" x2="635.0" y2="784.2" stroke="#000" stroke-width="1" />
<text x="635.0" y="794.5" font-size="10.45" text-anchor="middle" fill="#1a1a1a" stroke="#1a1a1a" stroke-width="0" textLength="6.0" lengthAdjust="spacing" >1</text>
<line x1="570.6" y1="685.2" x2="573.8" y2="685.2" stroke="#000" stroke-width="1" />
<text x="568.0" y="688.6" font-size="10.45" text-anchor="end" fill="#1a1a1a" stroke="#1a1a1a" stroke-width="0" textLength="12.1" lengthAdjust="spacing" >20</text>
<line x1="570.6" y1="708.3" x2="573.8" y2="708.3" stroke="#000" stroke-width="1" />
<text x="568.0" y="711.7" font-size="10.45" text-anchor="end" fill="#1a1a1a" stroke="#1a1a1a" stroke-width="0" textLength="12.1" lengthAdjust="spacing" >15</text>
<line x1="570.6" y1="733.0" x2="573.8" y2="733.0" stroke="#000" stroke-width="1" />
<text x="568.0" y="736.4" font-size="10.45" text-anchor="end" fill="#1a1a1a" stroke="#1a1a1a" stroke-width="0" textLength="12.1" lengthAdjust="spacing" >10</text>
<line x1="570.6" y1="756.9" x2="573.8" y2="756.9" stroke="#000" stroke-width="1" />
<text x="568.0" y="760.3" font-size="10.45" text-anchor="end" fill="#1a1a1a" stroke="#1a1a1a" stroke-width="0" textLength="6.0" lengthAdjust="spacing" >5</text>
<line x1="570.6" y1="781.1" x2="573.8" y2="781.1" stroke="#000" stroke-width="1" />
<text x="568.0" y="784.5" font-size="10.45" text-anchor="end" fill="#1a1a1a" stroke="#1a1a1a" stroke-width="0" textLength="6.0" lengthAdjust="spacing" >0</text>
<text x="622.0" y="811.0" font-size="13.28" text-anchor="middle" fill="#1a1a1a" stroke="#1a1a1a" stroke-width="0.0" textLength="7.5" lengthAdjust="spacing" ><tspan font-style="italic">γ</tspan></text>
<text x="548.0" y="734.0" font-size="13.28" text-anchor="middle" fill="#1a1a1a" stroke="#1a1a1a" stroke-width="0.0" textLength="68.5" lengthAdjust="spacing" transform="rotate(-90 548.0 734.0)" >Gain (sp/s)</text>
<text x="640.0" y="698.5" font-size="11.97" text-anchor="start" fill="#1a1a1a" stroke="#1a1a1a" stroke-width="0.0" textLength="43.7" lengthAdjust="spacing" >r=-0.47</text>
<text x="640.0" y="710.0" font-size="11.97" text-anchor="start" fill="#1a1a1a" stroke="#1a1a1a" stroke-width="0.0" textLength="42.2" lengthAdjust="spacing" >p&lt;0.01</text>
</svg></body></html>
